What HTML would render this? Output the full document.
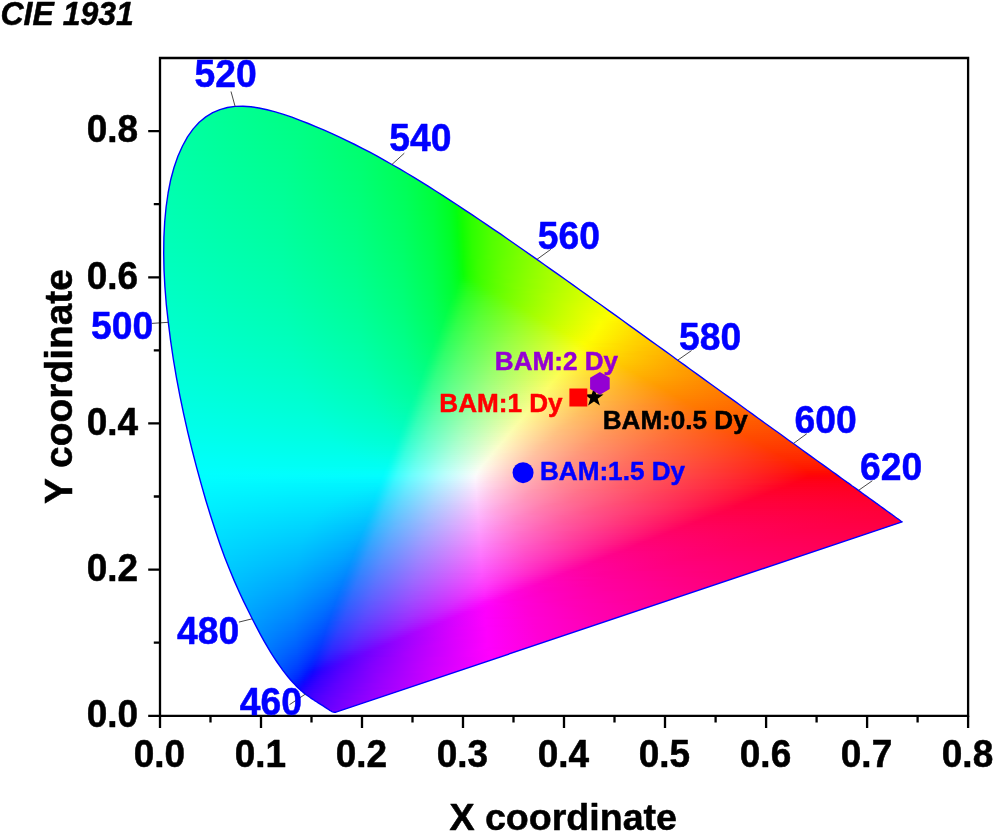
<!DOCTYPE html>
<html lang="en"><head><meta charset="utf-8"><title>CIE 1931</title>
<style>html,body{margin:0;padding:0;background:#fff}svg{display:block}text{font-family:"Liberation Sans",sans-serif;font-weight:bold;stroke-width:0.5px;stroke-linejoin:round}</style></head>
<body>
<svg width="993" height="831" viewBox="0 0 993 831">

<defs>
<clipPath id="cl"><path d="M335.9 712.2 L334.6 712.3 L333.3 712.1 L332.0 711.6 L330.9 710.9 L329.8 710.3 L328.6 709.5 L327.2 708.6 L326.1 707.9 L324.9 707.1 L323.5 706.2 L321.9 705.2 L320.2 704.1 L318.2 702.9 L317.2 702.2 L316.1 701.5 L314.9 700.8 L313.8 700.0 L312.5 699.2 L311.2 698.3 L309.8 697.3 L308.4 696.3 L306.9 695.2 L305.4 694.1 L303.8 692.9 L302.2 691.5 L300.5 690.1 L298.8 688.5 L296.9 686.7 L294.9 684.6 L292.7 682.3 L290.4 679.7 L287.9 676.8 L285.4 673.6 L282.7 670.1 L279.9 666.2 L277.0 662.0 L273.9 657.4 L270.7 652.3 L267.3 646.7 L263.8 640.6 L260.1 633.9 L256.3 626.7 L252.2 618.8 L248.0 610.3 L243.5 601.1 L238.9 591.2 L234.2 580.6 L229.4 569.1 L224.6 556.9 L219.9 543.9 L215.2 530.1 L210.5 515.5 L205.8 500.2 L201.2 484.1 L196.6 467.4 L192.1 450.0 L187.8 432.3 L183.7 414.2 L179.9 395.8 L176.4 377.4 L173.3 359.0 L170.6 340.6 L168.3 322.3 L166.3 304.3 L164.9 286.7 L164.0 269.6 L163.7 253.1 L163.9 237.2 L164.7 221.8 L166.1 207.0 L168.1 193.0 L170.7 179.7 L174.0 167.5 L177.9 156.2 L182.5 146.0 L187.5 136.9 L193.2 128.9 L199.2 122.3 L205.8 116.9 L212.7 112.7 L219.9 109.6 L227.4 107.5 L235.1 106.4 L242.9 106.2 L250.9 106.7 L258.9 108.0 L267.1 109.8 L275.3 111.9 L283.6 114.4 L291.9 117.2 L300.1 120.3 L308.3 123.5 L316.3 126.8 L324.2 130.2 L332.0 133.6 L339.6 137.2 L347.3 140.8 L354.8 144.5 L362.3 148.3 L369.8 152.2 L377.2 156.2 L384.6 160.3 L391.9 164.5 L399.3 168.7 L406.6 173.0 L413.9 177.4 L421.2 181.9 L428.5 186.4 L435.7 191.0 L443.0 195.6 L450.2 200.3 L457.4 205.0 L464.6 209.8 L471.9 214.6 L479.1 219.5 L486.3 224.4 L493.6 229.3 L500.8 234.2 L508.0 239.2 L515.2 244.2 L522.4 249.3 L529.7 254.3 L536.9 259.4 L544.1 264.5 L551.3 269.6 L558.5 274.6 L565.7 279.8 L572.9 284.9 L580.0 290.0 L587.2 295.1 L594.3 300.2 L601.5 305.3 L608.5 310.4 L615.6 315.4 L622.7 320.5 L629.7 325.6 L636.7 330.6 L643.6 335.6 L650.5 340.6 L657.4 345.5 L664.2 350.4 L671.0 355.3 L677.7 360.2 L684.3 364.9 L690.9 369.7 L697.4 374.4 L703.9 379.1 L710.3 383.7 L716.6 388.2 L722.8 392.7 L729.0 397.1 L735.0 401.4 L741.0 405.7 L746.8 410.0 L752.6 414.1 L758.2 418.2 L763.7 422.2 L769.0 426.0 L774.2 429.7 L779.2 433.3 L784.0 436.8 L788.7 440.2 L793.4 443.5 L797.9 446.8 L802.3 450.0 L806.6 453.1 L810.8 456.1 L814.8 459.0 L818.6 461.7 L822.3 464.4 L825.8 466.9 L829.2 469.3 L832.5 471.7 L835.6 473.9 L838.6 476.1 L841.5 478.2 L844.3 480.2 L846.9 482.1 L849.5 483.9 L851.9 485.7 L854.2 487.3 L856.4 488.9 L858.5 490.4 L860.5 491.9 L862.4 493.3 L864.2 494.6 L866.0 495.8 L867.7 497.0 L869.3 498.2 L870.8 499.3 L872.3 500.4 L873.7 501.4 L875.1 502.4 L876.4 503.3 L877.7 504.2 L878.9 505.1 L880.1 506.0 L881.2 506.8 L882.3 507.6 L883.4 508.4 L884.4 509.1 L886.3 510.5 L888.0 511.7 L889.6 512.9 L891.0 513.9 L892.2 514.7 L893.3 515.5 L894.3 516.2 L895.6 517.2 L896.7 518.0 L897.9 518.8 L898.9 519.5 L899.8 520.2 L900.8 521.0 L901.8 521.7 L902.1 521.9Z"/></clipPath>

<linearGradient id="g0" gradientUnits="userSpaceOnUse" x1="225.5" x2="257.5"><stop offset="0" stop-color="#00ff96"/><stop offset="1" stop-color="#00ff8e"/></linearGradient>
<linearGradient id="g1" gradientUnits="userSpaceOnUse" x1="218.5" x2="267.5"><stop offset="0" stop-color="#00ff98"/><stop offset="1" stop-color="#00ff8b"/></linearGradient>
<linearGradient id="g2" gradientUnits="userSpaceOnUse" x1="213.5" x2="275.5"><stop offset="0" stop-color="#0f9"/><stop offset="1" stop-color="#00ff89"/></linearGradient>
<linearGradient id="g3" gradientUnits="userSpaceOnUse" x1="209.5" x2="282.5"><stop offset="0" stop-color="#00ff9a"/><stop offset="1" stop-color="#00ff87"/></linearGradient>
<linearGradient id="g4" gradientUnits="userSpaceOnUse" x1="206.5" x2="288.5"><stop offset="0" stop-color="#00ff9b"/><stop offset="1" stop-color="#00ff86"/></linearGradient>
<linearGradient id="g5" gradientUnits="userSpaceOnUse" x1="203.5" x2="294.5"><stop offset="0" stop-color="#00ff9c"/><stop offset="1" stop-color="#00ff84"/></linearGradient>
<linearGradient id="g6" gradientUnits="userSpaceOnUse" x1="200.5" x2="299.5"><stop offset="0" stop-color="#00ff9d"/><stop offset="1" stop-color="#00ff83"/></linearGradient>
<linearGradient id="g7" gradientUnits="userSpaceOnUse" x1="198.5" x2="305.5"><stop offset="0" stop-color="#00ff9e"/><stop offset="1" stop-color="#00ff81"/></linearGradient>
<linearGradient id="g8" gradientUnits="userSpaceOnUse" x1="196.5" x2="310.5"><stop offset="0" stop-color="#00ff9e"/><stop offset="0.9474" stop-color="#00ff82"/><stop offset="1" stop-color="#00ff80"/></linearGradient>
<linearGradient id="g9" gradientUnits="userSpaceOnUse" x1="194.5" x2="315.5"><stop offset="0" stop-color="#00ff9f"/><stop offset="0.9008" stop-color="#00ff83"/><stop offset="1" stop-color="#00ff7e"/></linearGradient>
<linearGradient id="g10" gradientUnits="userSpaceOnUse" x1="192.5" x2="319.5"><stop offset="0" stop-color="#00ffa0"/><stop offset="0.8583" stop-color="#00ff84"/><stop offset="1" stop-color="#00ff7d"/></linearGradient>
<linearGradient id="g11" gradientUnits="userSpaceOnUse" x1="190.5" x2="324.5"><stop offset="0" stop-color="#00ffa1"/><stop offset="0.8209" stop-color="#00ff84"/><stop offset="1" stop-color="#00ff7b"/></linearGradient>
<linearGradient id="g12" gradientUnits="userSpaceOnUse" x1="189.5" x2="329.5"><stop offset="0" stop-color="#00ffa1"/><stop offset="0.7857" stop-color="#00ff85"/><stop offset="1" stop-color="#00ff7a"/></linearGradient>
<linearGradient id="g13" gradientUnits="userSpaceOnUse" x1="187.5" x2="333.5"><stop offset="0" stop-color="#00ffa2"/><stop offset="0.7603" stop-color="#00ff86"/><stop offset="1" stop-color="#00ff78"/></linearGradient>
<linearGradient id="g14" gradientUnits="userSpaceOnUse" x1="186.5" x2="338.5"><stop offset="0" stop-color="#00ffa2"/><stop offset="0.7303" stop-color="#00ff86"/><stop offset="1" stop-color="#0f7"/></linearGradient>
<linearGradient id="g15" gradientUnits="userSpaceOnUse" x1="185.5" x2="342.5"><stop offset="0" stop-color="#00ffa3"/><stop offset="0.7134" stop-color="#00ff87"/><stop offset="1" stop-color="#00ff75"/></linearGradient>
<linearGradient id="g16" gradientUnits="userSpaceOnUse" x1="184.5" x2="346.5"><stop offset="0" stop-color="#00ffa3"/><stop offset="0.6914" stop-color="#00ff87"/><stop offset="1" stop-color="#00ff74"/></linearGradient>
<linearGradient id="g17" gradientUnits="userSpaceOnUse" x1="182.5" x2="350.5"><stop offset="0" stop-color="#00ffa4"/><stop offset="0.6726" stop-color="#0f8"/><stop offset="1" stop-color="#00ff72"/></linearGradient>
<linearGradient id="g18" gradientUnits="userSpaceOnUse" x1="181.5" x2="354.5"><stop offset="0" stop-color="#00ffa5"/><stop offset="0.6532" stop-color="#00ff89"/><stop offset="1" stop-color="#00ff71"/></linearGradient>
<linearGradient id="g19" gradientUnits="userSpaceOnUse" x1="180.5" x2="358.5"><stop offset="0" stop-color="#00ffa5"/><stop offset="0.6348" stop-color="#00ff89"/><stop offset="1" stop-color="#00ff6f"/></linearGradient>
<linearGradient id="g20" gradientUnits="userSpaceOnUse" x1="179.5" x2="362.5"><stop offset="0" stop-color="#00ffa6"/><stop offset="0.623" stop-color="#00ff8a"/><stop offset="1" stop-color="#00ff6d"/></linearGradient>
<linearGradient id="g21" gradientUnits="userSpaceOnUse" x1="178.5" x2="366.5"><stop offset="0" stop-color="#00ffa6"/><stop offset="0.6064" stop-color="#00ff8a"/><stop offset="0.9947" stop-color="#00ff6c"/><stop offset="1" stop-color="#00ff6b"/></linearGradient>
<linearGradient id="g22" gradientUnits="userSpaceOnUse" x1="178.5" x2="370.5"><stop offset="0" stop-color="#00ffa6"/><stop offset="0.5938" stop-color="#00ff8b"/><stop offset="0.974" stop-color="#00ff6c"/><stop offset="1" stop-color="#00ff69"/></linearGradient>
<linearGradient id="g23" gradientUnits="userSpaceOnUse" x1="177.5" x2="374.5"><stop offset="0" stop-color="#00ffa7"/><stop offset="0.5787" stop-color="#00ff8c"/><stop offset="0.9492" stop-color="#00ff6d"/><stop offset="1" stop-color="#00ff67"/></linearGradient>
<linearGradient id="g24" gradientUnits="userSpaceOnUse" x1="176.5" x2="377.5"><stop offset="0" stop-color="#00ffa7"/><stop offset="0.5721" stop-color="#00ff8c"/><stop offset="0.9353" stop-color="#00ff6e"/><stop offset="1" stop-color="#0f6"/></linearGradient>
<linearGradient id="g25" gradientUnits="userSpaceOnUse" x1="175.5" x2="381.5"><stop offset="0" stop-color="#00ffa8"/><stop offset="0.5583" stop-color="#00ff8d"/><stop offset="0.9126" stop-color="#00ff6e"/><stop offset="1" stop-color="#00ff64"/></linearGradient>
<linearGradient id="g26" gradientUnits="userSpaceOnUse" x1="174.5" x2="385.5"><stop offset="0" stop-color="#00ffa9"/><stop offset="0.545" stop-color="#00ff8d"/><stop offset="0.891" stop-color="#00ff6f"/><stop offset="1" stop-color="#00ff62"/></linearGradient>
<linearGradient id="g27" gradientUnits="userSpaceOnUse" x1="174.5" x2="388.5"><stop offset="0" stop-color="#00ffa9"/><stop offset="0.5374" stop-color="#00ff8e"/><stop offset="0.8785" stop-color="#00ff70"/><stop offset="1" stop-color="#00ff60"/></linearGradient>
<linearGradient id="g28" gradientUnits="userSpaceOnUse" x1="173.5" x2="392.5"><stop offset="0" stop-color="#00ffa9"/><stop offset="0.5297" stop-color="#00ff8e"/><stop offset="0.863" stop-color="#00ff70"/><stop offset="1" stop-color="#00ff5e"/></linearGradient>
<linearGradient id="g29" gradientUnits="userSpaceOnUse" x1="172.5" x2="395.5"><stop offset="0" stop-color="#0fa"/><stop offset="0.5202" stop-color="#00ff8f"/><stop offset="0.852" stop-color="#00ff71"/><stop offset="1" stop-color="#00ff5c"/></linearGradient>
<linearGradient id="g30" gradientUnits="userSpaceOnUse" x1="172.5" x2="399.5"><stop offset="0" stop-color="#0fa"/><stop offset="0.511" stop-color="#00ff8f"/><stop offset="0.837" stop-color="#00ff71"/><stop offset="1" stop-color="#00ff59"/></linearGradient>
<linearGradient id="g31" gradientUnits="userSpaceOnUse" x1="171.5" x2="402.5"><stop offset="0" stop-color="#00ffab"/><stop offset="0.5022" stop-color="#00ff90"/><stop offset="0.8225" stop-color="#00ff72"/><stop offset="1" stop-color="#00ff57"/></linearGradient>
<linearGradient id="g32" gradientUnits="userSpaceOnUse" x1="170.5" x2="406.5"><stop offset="0" stop-color="#00ffab"/><stop offset="0.4958" stop-color="#00ff90"/><stop offset="0.8093" stop-color="#00ff72"/><stop offset="1" stop-color="#00ff54"/></linearGradient>
<linearGradient id="g33" gradientUnits="userSpaceOnUse" x1="170.5" x2="409.5"><stop offset="0" stop-color="#00ffac"/><stop offset="0.4895" stop-color="#00ff91"/><stop offset="0.7992" stop-color="#00ff73"/><stop offset="0.9958" stop-color="#00ff53"/><stop offset="1" stop-color="#00ff52"/></linearGradient>
<linearGradient id="g34" gradientUnits="userSpaceOnUse" x1="169.5" x2="412.5"><stop offset="0" stop-color="#00ffac"/><stop offset="0.4815" stop-color="#00ff91"/><stop offset="0.786" stop-color="#00ff74"/><stop offset="0.9794" stop-color="#00ff54"/><stop offset="1" stop-color="#00ff50"/></linearGradient>
<linearGradient id="g35" gradientUnits="userSpaceOnUse" x1="169.5" x2="416.5"><stop offset="0" stop-color="#00ffad"/><stop offset="0.4737" stop-color="#00ff92"/><stop offset="0.7733" stop-color="#00ff74"/><stop offset="0.9636" stop-color="#0f5"/><stop offset="1" stop-color="#00ff4c"/></linearGradient>
<linearGradient id="g36" gradientUnits="userSpaceOnUse" x1="168.5" x2="419.5"><stop offset="0" stop-color="#00ffad"/><stop offset="0.4661" stop-color="#00ff92"/><stop offset="0.7649" stop-color="#00ff74"/><stop offset="0.9522" stop-color="#0f5"/><stop offset="1" stop-color="#00ff4a"/></linearGradient>
<linearGradient id="g37" gradientUnits="userSpaceOnUse" x1="168.5" x2="422.5"><stop offset="0" stop-color="#00ffad"/><stop offset="0.4606" stop-color="#00ff93"/><stop offset="0.752" stop-color="#00ff75"/><stop offset="0.937" stop-color="#00ff56"/><stop offset="1" stop-color="#00ff47"/></linearGradient>
<linearGradient id="g38" gradientUnits="userSpaceOnUse" x1="167.5" x2="425.5"><stop offset="0" stop-color="#00ffae"/><stop offset="0.4574" stop-color="#00ff93"/><stop offset="0.7442" stop-color="#00ff76"/><stop offset="0.9264" stop-color="#00ff57"/><stop offset="1" stop-color="#0f4"/></linearGradient>
<linearGradient id="g39" gradientUnits="userSpaceOnUse" x1="167.5" x2="429.5"><stop offset="0" stop-color="#00ffae"/><stop offset="0.4504" stop-color="#00ff94"/><stop offset="0.7328" stop-color="#00ff76"/><stop offset="0.9122" stop-color="#00ff57"/><stop offset="1" stop-color="#00ff40"/></linearGradient>
<linearGradient id="g40" gradientUnits="userSpaceOnUse" x1="167.5" x2="432.5"><stop offset="0" stop-color="#00ffaf"/><stop offset="0.4453" stop-color="#00ff94"/><stop offset="0.7245" stop-color="#0f7"/><stop offset="0.9019" stop-color="#00ff57"/><stop offset="1" stop-color="#00ff3c"/></linearGradient>
<linearGradient id="g41" gradientUnits="userSpaceOnUse" x1="166.5" x2="435.5"><stop offset="0" stop-color="#00ffaf"/><stop offset="0.4387" stop-color="#00ff95"/><stop offset="0.7175" stop-color="#0f7"/><stop offset="0.8922" stop-color="#00ff58"/><stop offset="1" stop-color="#00ff38"/></linearGradient>
<linearGradient id="g42" gradientUnits="userSpaceOnUse" x1="166.5" x2="438.5"><stop offset="0" stop-color="#00ffaf"/><stop offset="0.4338" stop-color="#00ff95"/><stop offset="0.7096" stop-color="#0f7"/><stop offset="0.8824" stop-color="#00ff58"/><stop offset="0.989" stop-color="#00ff39"/><stop offset="1" stop-color="#00ff34"/></linearGradient>
<linearGradient id="g43" gradientUnits="userSpaceOnUse" x1="165.5" x2="441.5"><stop offset="0" stop-color="#00ffb0"/><stop offset="0.4275" stop-color="#00ff96"/><stop offset="0.6993" stop-color="#00ff78"/><stop offset="0.8732" stop-color="#00ff59"/><stop offset="0.9783" stop-color="#00ff39"/><stop offset="1" stop-color="#00ff30"/></linearGradient>
<linearGradient id="g44" gradientUnits="userSpaceOnUse" x1="165.5" x2="444.5"><stop offset="0" stop-color="#00ffb0"/><stop offset="0.4229" stop-color="#00ff96"/><stop offset="0.6918" stop-color="#00ff79"/><stop offset="0.8638" stop-color="#00ff59"/><stop offset="0.9677" stop-color="#00ff3a"/><stop offset="1" stop-color="#00ff2b"/></linearGradient>
<linearGradient id="g45" gradientUnits="userSpaceOnUse" x1="165.5" x2="447.5"><stop offset="0" stop-color="#00ffb1"/><stop offset="0.4184" stop-color="#00ff97"/><stop offset="0.6844" stop-color="#00ff79"/><stop offset="0.8546" stop-color="#00ff5a"/><stop offset="0.9574" stop-color="#00ff3a"/><stop offset="1" stop-color="#00ff25"/></linearGradient>
<linearGradient id="g46" gradientUnits="userSpaceOnUse" x1="165.5" x2="450.5"><stop offset="0" stop-color="#00ffb1"/><stop offset="0.414" stop-color="#00ff97"/><stop offset="0.6772" stop-color="#00ff7a"/><stop offset="0.8456" stop-color="#00ff5a"/><stop offset="0.9474" stop-color="#00ff3a"/><stop offset="0.9965" stop-color="#00ff21"/><stop offset="1" stop-color="#00ff1f"/></linearGradient>
<linearGradient id="g47" gradientUnits="userSpaceOnUse" x1="164.5" x2="454.5"><stop offset="0" stop-color="#00ffb2"/><stop offset="0.4103" stop-color="#00ff97"/><stop offset="0.669" stop-color="#00ff7a"/><stop offset="0.831" stop-color="#00ff5b"/><stop offset="0.931" stop-color="#00ff3c"/><stop offset="0.9828" stop-color="#0f2"/><stop offset="1" stop-color="#01ff13"/></linearGradient>
<linearGradient id="g48" gradientUnits="userSpaceOnUse" x1="164.5" x2="457.5"><stop offset="0" stop-color="#00ffb2"/><stop offset="0.4061" stop-color="#00ff98"/><stop offset="0.6621" stop-color="#00ff7a"/><stop offset="0.8225" stop-color="#00ff5c"/><stop offset="0.9215" stop-color="#00ff3d"/><stop offset="0.9727" stop-color="#0f2"/><stop offset="0.9966" stop-color="#04ff0d"/><stop offset="1" stop-color="#06ff0a"/></linearGradient>
<linearGradient id="g49" gradientUnits="userSpaceOnUse" x1="164.5" x2="460.5"><stop offset="0" stop-color="#00ffb2"/><stop offset="0.402" stop-color="#00ff98"/><stop offset="0.6554" stop-color="#00ff7b"/><stop offset="0.8142" stop-color="#00ff5c"/><stop offset="0.9122" stop-color="#00ff3d"/><stop offset="0.9628" stop-color="#00ff23"/><stop offset="0.9865" stop-color="#04ff0d"/><stop offset="1" stop-color="#0fff03"/></linearGradient>
<linearGradient id="g50" gradientUnits="userSpaceOnUse" x1="164.5" x2="463.5"><stop offset="0" stop-color="#00ffb3"/><stop offset="0.398" stop-color="#0f9"/><stop offset="0.6488" stop-color="#00ff7b"/><stop offset="0.806" stop-color="#00ff5d"/><stop offset="0.903" stop-color="#00ff3e"/><stop offset="0.9532" stop-color="#00ff23"/><stop offset="0.9766" stop-color="#03ff0e"/><stop offset="0.9933" stop-color="#12ff02"/><stop offset="1" stop-color="#19ff00"/></linearGradient>
<linearGradient id="g51" gradientUnits="userSpaceOnUse" x1="163.5" x2="466.5"><stop offset="0" stop-color="#00ffb3"/><stop offset="0.3927" stop-color="#0f9"/><stop offset="0.6403" stop-color="#00ff7c"/><stop offset="0.7987" stop-color="#00ff5d"/><stop offset="0.8944" stop-color="#00ff3e"/><stop offset="0.9439" stop-color="#00ff24"/><stop offset="0.967" stop-color="#03ff0e"/><stop offset="0.9835" stop-color="#12ff02"/><stop offset="1" stop-color="#2f0"/></linearGradient>
<linearGradient id="g52" gradientUnits="userSpaceOnUse" x1="163.5" x2="469.5"><stop offset="0" stop-color="#00ffb4"/><stop offset="0.3889" stop-color="#00ff9a"/><stop offset="0.634" stop-color="#00ff7d"/><stop offset="0.7908" stop-color="#00ff5d"/><stop offset="0.8856" stop-color="#00ff3e"/><stop offset="0.9346" stop-color="#00ff24"/><stop offset="0.9575" stop-color="#03ff0f"/><stop offset="0.9739" stop-color="#11ff02"/><stop offset="1" stop-color="#29ff00"/></linearGradient>
<linearGradient id="g53" gradientUnits="userSpaceOnUse" x1="163.5" x2="472.5"><stop offset="0" stop-color="#00ffb4"/><stop offset="0.3851" stop-color="#00ff9a"/><stop offset="0.6278" stop-color="#00ff7d"/><stop offset="0.7832" stop-color="#00ff5e"/><stop offset="0.877" stop-color="#00ff3f"/><stop offset="0.9256" stop-color="#00ff24"/><stop offset="0.9482" stop-color="#03ff0f"/><stop offset="0.9644" stop-color="#11ff02"/><stop offset="0.9935" stop-color="#2bff00"/><stop offset="1" stop-color="#2fff00"/></linearGradient>
<linearGradient id="g54" gradientUnits="userSpaceOnUse" x1="163.5" x2="475.5"><stop offset="0" stop-color="#00ffb4"/><stop offset="0.3814" stop-color="#00ff9b"/><stop offset="0.6218" stop-color="#00ff7e"/><stop offset="0.7756" stop-color="#00ff5e"/><stop offset="0.8686" stop-color="#00ff3f"/><stop offset="0.9167" stop-color="#00ff25"/><stop offset="0.9391" stop-color="#03ff10"/><stop offset="0.9551" stop-color="#11ff03"/><stop offset="0.984" stop-color="#2bff00"/><stop offset="1" stop-color="#35ff00"/></linearGradient>
<linearGradient id="g55" gradientUnits="userSpaceOnUse" x1="163.5" x2="478.5"><stop offset="0" stop-color="#00ffb5"/><stop offset="0.3778" stop-color="#00ff9b"/><stop offset="0.6159" stop-color="#00ff7e"/><stop offset="0.7683" stop-color="#00ff5f"/><stop offset="0.8603" stop-color="#00ff40"/><stop offset="0.9079" stop-color="#00ff25"/><stop offset="0.9333" stop-color="#04ff0d"/><stop offset="0.9492" stop-color="#14ff01"/><stop offset="0.981" stop-color="#2fff00"/><stop offset="1" stop-color="#3bff00"/></linearGradient>
<linearGradient id="g56" gradientUnits="userSpaceOnUse" x1="162.5" x2="481.5"><stop offset="0" stop-color="#00ffb5"/><stop offset="0.373" stop-color="#00ff9c"/><stop offset="0.6082" stop-color="#00ff7f"/><stop offset="0.7586" stop-color="#00ff60"/><stop offset="0.8495" stop-color="#00ff42"/><stop offset="0.8997" stop-color="#00ff26"/><stop offset="0.9248" stop-color="#04ff0d"/><stop offset="0.9404" stop-color="#13ff02"/><stop offset="0.9687" stop-color="#2dff00"/><stop offset="1" stop-color="#40ff00"/></linearGradient>
<linearGradient id="g57" gradientUnits="userSpaceOnUse" x1="162.5" x2="484.5"><stop offset="0" stop-color="#00ffb6"/><stop offset="0.3696" stop-color="#00ff9c"/><stop offset="0.6025" stop-color="#00ff80"/><stop offset="0.7516" stop-color="#00ff61"/><stop offset="0.8416" stop-color="#00ff42"/><stop offset="0.8913" stop-color="#00ff26"/><stop offset="0.9161" stop-color="#04ff0e"/><stop offset="0.9317" stop-color="#13ff02"/><stop offset="0.9596" stop-color="#2dff00"/><stop offset="1" stop-color="#45ff00"/></linearGradient>
<linearGradient id="g58" gradientUnits="userSpaceOnUse" x1="162.5" x2="487.5"><stop offset="0" stop-color="#00ffb6"/><stop offset="0.3662" stop-color="#00ff9d"/><stop offset="0.5969" stop-color="#00ff80"/><stop offset="0.7446" stop-color="#00ff61"/><stop offset="0.8338" stop-color="#00ff42"/><stop offset="0.8831" stop-color="#00ff27"/><stop offset="0.9077" stop-color="#03ff0e"/><stop offset="0.9231" stop-color="#13ff02"/><stop offset="0.9508" stop-color="#2dff00"/><stop offset="1" stop-color="#4aff00"/></linearGradient>
<linearGradient id="g59" gradientUnits="userSpaceOnUse" x1="162.5" x2="489.5"><stop offset="0" stop-color="#00ffb7"/><stop offset="0.3639" stop-color="#00ff9d"/><stop offset="0.5933" stop-color="#00ff81"/><stop offset="0.7401" stop-color="#00ff62"/><stop offset="0.8287" stop-color="#00ff43"/><stop offset="0.8777" stop-color="#00ff27"/><stop offset="0.9021" stop-color="#03ff0f"/><stop offset="0.9174" stop-color="#12ff02"/><stop offset="0.945" stop-color="#2dff00"/><stop offset="1" stop-color="#4dff00"/></linearGradient>
<linearGradient id="g60" gradientUnits="userSpaceOnUse" x1="162.5" x2="492.5"><stop offset="0" stop-color="#00ffb7"/><stop offset="0.3606" stop-color="#00ff9e"/><stop offset="0.5879" stop-color="#00ff81"/><stop offset="0.7333" stop-color="#00ff62"/><stop offset="0.8212" stop-color="#00ff43"/><stop offset="0.8697" stop-color="#00ff28"/><stop offset="0.8939" stop-color="#03ff0f"/><stop offset="0.9091" stop-color="#12ff02"/><stop offset="0.9364" stop-color="#2dff00"/><stop offset="1" stop-color="#52ff00"/></linearGradient>
<linearGradient id="g61" gradientUnits="userSpaceOnUse" x1="162.5" x2="495.5"><stop offset="0" stop-color="#00ffb7"/><stop offset="0.3574" stop-color="#00ff9e"/><stop offset="0.5826" stop-color="#00ff82"/><stop offset="0.7267" stop-color="#00ff62"/><stop offset="0.8138" stop-color="#0f4"/><stop offset="0.8619" stop-color="#00ff28"/><stop offset="0.8859" stop-color="#03ff10"/><stop offset="0.9009" stop-color="#11ff02"/><stop offset="0.9279" stop-color="#2dff00"/><stop offset="0.988" stop-color="#51ff00"/><stop offset="1" stop-color="#57ff00"/></linearGradient>
<linearGradient id="g62" gradientUnits="userSpaceOnUse" x1="162.5" x2="498.5"><stop offset="0" stop-color="#00ffb8"/><stop offset="0.3542" stop-color="#00ff9f"/><stop offset="0.5774" stop-color="#00ff82"/><stop offset="0.7202" stop-color="#00ff63"/><stop offset="0.8065" stop-color="#0f4"/><stop offset="0.8542" stop-color="#00ff29"/><stop offset="0.878" stop-color="#03ff11"/><stop offset="0.8929" stop-color="#11ff03"/><stop offset="0.9196" stop-color="#2cff00"/><stop offset="0.9792" stop-color="#51ff00"/><stop offset="1" stop-color="#5bff00"/></linearGradient>
<linearGradient id="g63" gradientUnits="userSpaceOnUse" x1="162.5" x2="501.5"><stop offset="0" stop-color="#00ffb8"/><stop offset="0.354" stop-color="#00ff9f"/><stop offset="0.5723" stop-color="#00ff83"/><stop offset="0.7139" stop-color="#00ff63"/><stop offset="0.7994" stop-color="#00ff45"/><stop offset="0.8466" stop-color="#00ff29"/><stop offset="0.8702" stop-color="#03ff11"/><stop offset="0.885" stop-color="#11ff03"/><stop offset="0.9115" stop-color="#2cff00"/><stop offset="0.9705" stop-color="#51ff00"/><stop offset="1" stop-color="#60ff00"/></linearGradient>
<linearGradient id="g64" gradientUnits="userSpaceOnUse" x1="161.5" x2="504.5"><stop offset="0" stop-color="#00ffb9"/><stop offset="0.3499" stop-color="#00ff9f"/><stop offset="0.5685" stop-color="#00ff83"/><stop offset="0.7085" stop-color="#00ff64"/><stop offset="0.793" stop-color="#00ff45"/><stop offset="0.8397" stop-color="#00ff2a"/><stop offset="0.863" stop-color="#02ff12"/><stop offset="0.8776" stop-color="#10ff03"/><stop offset="0.9038" stop-color="#2cff00"/><stop offset="0.9621" stop-color="#51ff00"/><stop offset="1" stop-color="#64ff00"/></linearGradient>
<linearGradient id="g65" gradientUnits="userSpaceOnUse" x1="161.5" x2="507.5"><stop offset="0" stop-color="#00ffb9"/><stop offset="0.3468" stop-color="#00ffa0"/><stop offset="0.5636" stop-color="#00ff84"/><stop offset="0.7023" stop-color="#00ff64"/><stop offset="0.7861" stop-color="#00ff46"/><stop offset="0.8324" stop-color="#00ff2a"/><stop offset="0.8555" stop-color="#02ff12"/><stop offset="0.8699" stop-color="#10ff03"/><stop offset="0.896" stop-color="#2cff00"/><stop offset="0.9509" stop-color="#50ff00"/><stop offset="1" stop-color="#68ff00"/></linearGradient>
<linearGradient id="g66" gradientUnits="userSpaceOnUse" x1="161.5" x2="510.5"><stop offset="0" stop-color="#00ffb9"/><stop offset="0.3438" stop-color="#00ffa0"/><stop offset="0.5587" stop-color="#00ff84"/><stop offset="0.6963" stop-color="#00ff65"/><stop offset="0.7794" stop-color="#00ff46"/><stop offset="0.8252" stop-color="#00ff2b"/><stop offset="0.8481" stop-color="#02ff13"/><stop offset="0.8625" stop-color="#0fff03"/><stop offset="0.8883" stop-color="#2cff00"/><stop offset="0.9427" stop-color="#50ff00"/><stop offset="1" stop-color="#6cff00"/></linearGradient>
<linearGradient id="g67" gradientUnits="userSpaceOnUse" x1="161.5" x2="513.5"><stop offset="0" stop-color="#00ffba"/><stop offset="0.3409" stop-color="#00ffa1"/><stop offset="0.554" stop-color="#00ff85"/><stop offset="0.6903" stop-color="#00ff65"/><stop offset="0.7727" stop-color="#00ff47"/><stop offset="0.8182" stop-color="#00ff2b"/><stop offset="0.8409" stop-color="#02ff13"/><stop offset="0.8551" stop-color="#0fff04"/><stop offset="0.8807" stop-color="#2cff00"/><stop offset="0.9347" stop-color="#50ff00"/><stop offset="1" stop-color="#71ff00"/></linearGradient>
<linearGradient id="g68" gradientUnits="userSpaceOnUse" x1="161.5" x2="516.5"><stop offset="0" stop-color="#00ffba"/><stop offset="0.338" stop-color="#00ffa1"/><stop offset="0.5493" stop-color="#00ff85"/><stop offset="0.6817" stop-color="#00ff67"/><stop offset="0.7662" stop-color="#00ff47"/><stop offset="0.8141" stop-color="#00ff29"/><stop offset="0.8366" stop-color="#03ff10"/><stop offset="0.8507" stop-color="#12ff02"/><stop offset="0.8761" stop-color="#2eff00"/><stop offset="0.9324" stop-color="#54ff00"/><stop offset="1" stop-color="#75ff00"/></linearGradient>
<linearGradient id="g69" gradientUnits="userSpaceOnUse" x1="161.5" x2="519.5"><stop offset="0" stop-color="#0fb"/><stop offset="0.3352" stop-color="#00ffa2"/><stop offset="0.5447" stop-color="#00ff86"/><stop offset="0.676" stop-color="#00ff67"/><stop offset="0.7598" stop-color="#00ff48"/><stop offset="0.8073" stop-color="#00ff2a"/><stop offset="0.8296" stop-color="#03ff11"/><stop offset="0.8436" stop-color="#12ff03"/><stop offset="0.8687" stop-color="#2eff00"/><stop offset="0.9246" stop-color="#54ff00"/><stop offset="1" stop-color="#79ff00"/></linearGradient>
<linearGradient id="g70" gradientUnits="userSpaceOnUse" x1="161.5" x2="521.5"><stop offset="0" stop-color="#0fb"/><stop offset="0.3333" stop-color="#00ffa2"/><stop offset="0.5417" stop-color="#00ff86"/><stop offset="0.6722" stop-color="#00ff68"/><stop offset="0.7556" stop-color="#00ff48"/><stop offset="0.8028" stop-color="#00ff2a"/><stop offset="0.825" stop-color="#03ff11"/><stop offset="0.8389" stop-color="#12ff03"/><stop offset="0.8639" stop-color="#2eff00"/><stop offset="0.9167" stop-color="#53ff00"/><stop offset="1" stop-color="#7cff00"/></linearGradient>
<linearGradient id="g71" gradientUnits="userSpaceOnUse" x1="161.5" x2="524.5"><stop offset="0" stop-color="#0fb"/><stop offset="0.3306" stop-color="#00ffa3"/><stop offset="0.5372" stop-color="#00ff87"/><stop offset="0.6667" stop-color="#00ff68"/><stop offset="0.7493" stop-color="#00ff49"/><stop offset="0.7961" stop-color="#00ff2b"/><stop offset="0.8182" stop-color="#03ff12"/><stop offset="0.832" stop-color="#11ff03"/><stop offset="0.8567" stop-color="#2eff00"/><stop offset="0.9091" stop-color="#53ff00"/><stop offset="1" stop-color="#80ff00"/></linearGradient>
<linearGradient id="g72" gradientUnits="userSpaceOnUse" x1="161.5" x2="527.5"><stop offset="0" stop-color="#00ffbc"/><stop offset="0.3279" stop-color="#00ffa3"/><stop offset="0.5328" stop-color="#00ff87"/><stop offset="0.6612" stop-color="#00ff69"/><stop offset="0.7432" stop-color="#00ff49"/><stop offset="0.7896" stop-color="#00ff2b"/><stop offset="0.8115" stop-color="#02ff13"/><stop offset="0.8251" stop-color="#11ff03"/><stop offset="0.8497" stop-color="#2eff00"/><stop offset="0.9016" stop-color="#53ff00"/><stop offset="1" stop-color="#84ff00"/></linearGradient>
<linearGradient id="g73" gradientUnits="userSpaceOnUse" x1="161.5" x2="530.5"><stop offset="0" stop-color="#00ffbc"/><stop offset="0.3252" stop-color="#00ffa4"/><stop offset="0.5257" stop-color="#0f8"/><stop offset="0.6558" stop-color="#00ff69"/><stop offset="0.7371" stop-color="#00ff4a"/><stop offset="0.7832" stop-color="#00ff2c"/><stop offset="0.8049" stop-color="#02ff13"/><stop offset="0.8184" stop-color="#10ff03"/><stop offset="0.8428" stop-color="#2eff00"/><stop offset="0.8943" stop-color="#53ff00"/><stop offset="0.9919" stop-color="#84ff00"/><stop offset="1" stop-color="#8f0"/></linearGradient>
<linearGradient id="g74" gradientUnits="userSpaceOnUse" x1="161.5" x2="533.5"><stop offset="0" stop-color="#00ffbd"/><stop offset="0.3226" stop-color="#00ffa4"/><stop offset="0.5215" stop-color="#00ff89"/><stop offset="0.6505" stop-color="#00ff6a"/><stop offset="0.7312" stop-color="#00ff4a"/><stop offset="0.7769" stop-color="#00ff2c"/><stop offset="0.7984" stop-color="#02ff14"/><stop offset="0.8118" stop-color="#10ff04"/><stop offset="0.836" stop-color="#2eff00"/><stop offset="0.8871" stop-color="#53ff00"/><stop offset="0.9839" stop-color="#85ff00"/><stop offset="1" stop-color="#8cff00"/></linearGradient>
<linearGradient id="g75" gradientUnits="userSpaceOnUse" x1="161.5" x2="536.5"><stop offset="0" stop-color="#00ffbd"/><stop offset="0.32" stop-color="#00ffa5"/><stop offset="0.5173" stop-color="#00ff89"/><stop offset="0.6453" stop-color="#00ff6b"/><stop offset="0.7253" stop-color="#00ff4b"/><stop offset="0.7707" stop-color="#00ff2d"/><stop offset="0.792" stop-color="#02ff14"/><stop offset="0.8053" stop-color="#0fff04"/><stop offset="0.8267" stop-color="#2bff00"/><stop offset="0.872" stop-color="#4fff00"/><stop offset="0.96" stop-color="#7eff00"/><stop offset="1" stop-color="#90ff00"/></linearGradient>
<linearGradient id="g76" gradientUnits="userSpaceOnUse" x1="161.5" x2="539.5"><stop offset="0" stop-color="#00ffbe"/><stop offset="0.3175" stop-color="#00ffa5"/><stop offset="0.5132" stop-color="#00ff8a"/><stop offset="0.6402" stop-color="#00ff6b"/><stop offset="0.7196" stop-color="#00ff4b"/><stop offset="0.7646" stop-color="#00ff2e"/><stop offset="0.7857" stop-color="#02ff15"/><stop offset="0.7989" stop-color="#0fff04"/><stop offset="0.8201" stop-color="#2bff00"/><stop offset="0.8651" stop-color="#4fff00"/><stop offset="0.9524" stop-color="#7fff00"/><stop offset="1" stop-color="#94ff00"/></linearGradient>
<linearGradient id="g77" gradientUnits="userSpaceOnUse" x1="161.5" x2="541.5"><stop offset="0" stop-color="#00ffbe"/><stop offset="0.3158" stop-color="#00ffa6"/><stop offset="0.5105" stop-color="#00ff8a"/><stop offset="0.6342" stop-color="#00ff6c"/><stop offset="0.7132" stop-color="#00ff4d"/><stop offset="0.7579" stop-color="#00ff30"/><stop offset="0.7789" stop-color="#01ff19"/><stop offset="0.7921" stop-color="#0bff07"/><stop offset="0.8053" stop-color="#1eff00"/><stop offset="0.8342" stop-color="#3cff00"/><stop offset="0.8974" stop-color="#65ff00"/><stop offset="1" stop-color="#97ff00"/></linearGradient>
<linearGradient id="g78" gradientUnits="userSpaceOnUse" x1="161.5" x2="544.5"><stop offset="0" stop-color="#00ffbe"/><stop offset="0.3133" stop-color="#00ffa6"/><stop offset="0.5065" stop-color="#00ff8b"/><stop offset="0.6292" stop-color="#00ff6d"/><stop offset="0.7076" stop-color="#00ff4e"/><stop offset="0.752" stop-color="#00ff31"/><stop offset="0.7728" stop-color="#01ff1a"/><stop offset="0.7859" stop-color="#0bff07"/><stop offset="0.799" stop-color="#1eff00"/><stop offset="0.8277" stop-color="#3cff00"/><stop offset="0.8903" stop-color="#6f0"/><stop offset="1" stop-color="#9bff00"/></linearGradient>
<linearGradient id="g79" gradientUnits="userSpaceOnUse" x1="161.5" x2="547.5"><stop offset="0" stop-color="#00ffbf"/><stop offset="0.3109" stop-color="#00ffa7"/><stop offset="0.5026" stop-color="#00ff8b"/><stop offset="0.6244" stop-color="#00ff6e"/><stop offset="0.7021" stop-color="#00ff4e"/><stop offset="0.7461" stop-color="#00ff31"/><stop offset="0.7668" stop-color="#01ff1b"/><stop offset="0.7798" stop-color="#0aff08"/><stop offset="0.7927" stop-color="#1eff00"/><stop offset="0.8212" stop-color="#3cff00"/><stop offset="0.8834" stop-color="#6f0"/><stop offset="0.9922" stop-color="#9cff00"/><stop offset="1" stop-color="#9fff00"/></linearGradient>
<linearGradient id="g80" gradientUnits="userSpaceOnUse" x1="161.5" x2="550.5"><stop offset="0" stop-color="#00ffbf"/><stop offset="0.3085" stop-color="#00ffa7"/><stop offset="0.4987" stop-color="#00ff8c"/><stop offset="0.6195" stop-color="#00ff6e"/><stop offset="0.6967" stop-color="#00ff4f"/><stop offset="0.7404" stop-color="#00ff32"/><stop offset="0.7609" stop-color="#01ff1b"/><stop offset="0.7738" stop-color="#0aff08"/><stop offset="0.7866" stop-color="#1dff00"/><stop offset="0.8123" stop-color="#3aff00"/><stop offset="0.8715" stop-color="#64ff00"/><stop offset="0.9769" stop-color="#9f0"/><stop offset="1" stop-color="#a3ff00"/></linearGradient>
<linearGradient id="g81" gradientUnits="userSpaceOnUse" x1="161.5" x2="553.5"><stop offset="0" stop-color="#00ffc0"/><stop offset="0.3061" stop-color="#00ffa8"/><stop offset="0.4949" stop-color="#00ff8d"/><stop offset="0.6148" stop-color="#00ff6f"/><stop offset="0.6913" stop-color="#00ff4f"/><stop offset="0.7347" stop-color="#0f3"/><stop offset="0.7551" stop-color="#01ff1c"/><stop offset="0.7679" stop-color="#09ff09"/><stop offset="0.7806" stop-color="#1dff01"/><stop offset="0.8061" stop-color="#3aff00"/><stop offset="0.8622" stop-color="#62ff00"/><stop offset="0.9643" stop-color="#97ff00"/><stop offset="1" stop-color="#a7ff00"/></linearGradient>
<linearGradient id="g82" gradientUnits="userSpaceOnUse" x1="161.5" x2="556.5"><stop offset="0" stop-color="#00ffc0"/><stop offset="0.3038" stop-color="#00ffa8"/><stop offset="0.4911" stop-color="#00ff8d"/><stop offset="0.6101" stop-color="#00ff6f"/><stop offset="0.6861" stop-color="#00ff50"/><stop offset="0.7291" stop-color="#0f3"/><stop offset="0.7494" stop-color="#01ff1d"/><stop offset="0.762" stop-color="#09ff09"/><stop offset="0.7747" stop-color="#1dff01"/><stop offset="0.8" stop-color="#3aff00"/><stop offset="0.8557" stop-color="#63ff00"/><stop offset="0.957" stop-color="#98ff00"/><stop offset="1" stop-color="#abff00"/></linearGradient>
<linearGradient id="g83" gradientUnits="userSpaceOnUse" x1="162.5" x2="558.5"><stop offset="0" stop-color="#00ffc0"/><stop offset="0.303" stop-color="#00ffa9"/><stop offset="0.4899" stop-color="#00ff8d"/><stop offset="0.6086" stop-color="#00ff6f"/><stop offset="0.6818" stop-color="#00ff51"/><stop offset="0.7247" stop-color="#00ff34"/><stop offset="0.7475" stop-color="#01ff19"/><stop offset="0.7601" stop-color="#0cff07"/><stop offset="0.7727" stop-color="#20ff00"/><stop offset="0.8005" stop-color="#3eff00"/><stop offset="0.8611" stop-color="#69ff00"/><stop offset="0.9672" stop-color="#a0ff00"/><stop offset="1" stop-color="#aeff00"/></linearGradient>
<linearGradient id="g84" gradientUnits="userSpaceOnUse" x1="162.5" x2="561.5"><stop offset="0" stop-color="#00ffc1"/><stop offset="0.3008" stop-color="#00ffa9"/><stop offset="0.4862" stop-color="#00ff8e"/><stop offset="0.604" stop-color="#00ff70"/><stop offset="0.6767" stop-color="#00ff51"/><stop offset="0.7193" stop-color="#00ff34"/><stop offset="0.7419" stop-color="#01ff1a"/><stop offset="0.7544" stop-color="#0cff07"/><stop offset="0.7669" stop-color="#20ff01"/><stop offset="0.7945" stop-color="#3eff00"/><stop offset="0.8546" stop-color="#6aff00"/><stop offset="0.9599" stop-color="#a1ff00"/><stop offset="1" stop-color="#b2ff00"/></linearGradient>
<linearGradient id="g85" gradientUnits="userSpaceOnUse" x1="162.5" x2="564.5"><stop offset="0" stop-color="#00ffc1"/><stop offset="0.2985" stop-color="#0fa"/><stop offset="0.4826" stop-color="#00ff8e"/><stop offset="0.5995" stop-color="#00ff70"/><stop offset="0.6716" stop-color="#00ff52"/><stop offset="0.7139" stop-color="#00ff35"/><stop offset="0.7363" stop-color="#01ff1b"/><stop offset="0.7488" stop-color="#0cff09"/><stop offset="0.7637" stop-color="#23ff01"/><stop offset="0.7935" stop-color="#43ff00"/><stop offset="0.8557" stop-color="#6fff00"/><stop offset="0.9627" stop-color="#a6ff00"/><stop offset="1" stop-color="#b6ff00"/></linearGradient>
<linearGradient id="g86" gradientUnits="userSpaceOnUse" x1="162.5" x2="567.5"><stop offset="0" stop-color="#00ffc2"/><stop offset="0.2963" stop-color="#0fa"/><stop offset="0.479" stop-color="#00ff8f"/><stop offset="0.5951" stop-color="#00ff71"/><stop offset="0.6667" stop-color="#00ff52"/><stop offset="0.7086" stop-color="#00ff35"/><stop offset="0.7309" stop-color="#01ff1c"/><stop offset="0.7432" stop-color="#0dff0b"/><stop offset="0.758" stop-color="#24ff02"/><stop offset="0.7901" stop-color="#45ff00"/><stop offset="0.8543" stop-color="#72ff00"/><stop offset="0.963" stop-color="#af0"/><stop offset="1" stop-color="#baff00"/></linearGradient>
<linearGradient id="g87" gradientUnits="userSpaceOnUse" x1="162.5" x2="570.5"><stop offset="0" stop-color="#00ffc2"/><stop offset="0.2941" stop-color="#00ffab"/><stop offset="0.4755" stop-color="#00ff90"/><stop offset="0.5907" stop-color="#00ff72"/><stop offset="0.6618" stop-color="#00ff53"/><stop offset="0.7034" stop-color="#00ff36"/><stop offset="0.7279" stop-color="#03ff1a"/><stop offset="0.7426" stop-color="#16ff09"/><stop offset="0.7672" stop-color="#35ff01"/><stop offset="0.8162" stop-color="#5eff00"/><stop offset="0.9044" stop-color="#92ff00"/><stop offset="1" stop-color="#bfff00"/></linearGradient>
<linearGradient id="g88" gradientUnits="userSpaceOnUse" x1="162.5" x2="572.5"><stop offset="0" stop-color="#00ffc3"/><stop offset="0.2927" stop-color="#00ffab"/><stop offset="0.4732" stop-color="#00ff90"/><stop offset="0.5878" stop-color="#00ff72"/><stop offset="0.6585" stop-color="#00ff53"/><stop offset="0.7" stop-color="#00ff37"/><stop offset="0.722" stop-color="#03ff1e"/><stop offset="0.7366" stop-color="#14ff0f"/><stop offset="0.7634" stop-color="#35ff02"/><stop offset="0.8146" stop-color="#60ff00"/><stop offset="0.9024" stop-color="#94ff00"/><stop offset="1" stop-color="#c2ff00"/></linearGradient>
<linearGradient id="g89" gradientUnits="userSpaceOnUse" x1="162.5" x2="575.5"><stop offset="0" stop-color="#00ffc3"/><stop offset="0.2906" stop-color="#00ffac"/><stop offset="0.4697" stop-color="#00ff91"/><stop offset="0.5835" stop-color="#00ff73"/><stop offset="0.6538" stop-color="#00ff54"/><stop offset="0.6949" stop-color="#00ff37"/><stop offset="0.7167" stop-color="#04ff20"/><stop offset="0.7385" stop-color="#21ff0f"/><stop offset="0.7724" stop-color="#43ff01"/><stop offset="0.8329" stop-color="#71ff00"/><stop offset="0.9346" stop-color="#a8ff00"/><stop offset="1" stop-color="#c6ff00"/></linearGradient>
<linearGradient id="g90" gradientUnits="userSpaceOnUse" x1="162.5" x2="578.5"><stop offset="0" stop-color="#00ffc4"/><stop offset="0.2909" stop-color="#00ffac"/><stop offset="0.4663" stop-color="#00ff91"/><stop offset="0.5793" stop-color="#00ff73"/><stop offset="0.649" stop-color="#0f5"/><stop offset="0.6923" stop-color="#00ff35"/><stop offset="0.7091" stop-color="#04ff24"/><stop offset="0.7308" stop-color="#20ff14"/><stop offset="0.7716" stop-color="#48ff02"/><stop offset="0.8365" stop-color="#7f0"/><stop offset="0.9447" stop-color="#b1ff00"/><stop offset="1" stop-color="#caff00"/></linearGradient>
<linearGradient id="g91" gradientUnits="userSpaceOnUse" x1="162.5" x2="581.5"><stop offset="0" stop-color="#00ffc4"/><stop offset="0.2888" stop-color="#00ffad"/><stop offset="0.463" stop-color="#00ff92"/><stop offset="0.5752" stop-color="#00ff74"/><stop offset="0.6444" stop-color="#0f5"/><stop offset="0.6874" stop-color="#00ff36"/><stop offset="0.7041" stop-color="#05ff25"/><stop offset="0.7303" stop-color="#28ff16"/><stop offset="0.7757" stop-color="#50ff02"/><stop offset="0.8473" stop-color="#82ff00"/><stop offset="0.9642" stop-color="#beff00"/><stop offset="1" stop-color="#ceff00"/></linearGradient>
<linearGradient id="g92" gradientUnits="userSpaceOnUse" x1="163.5" x2="584.5"><stop offset="0" stop-color="#00ffc4"/><stop offset="0.285" stop-color="#00ffad"/><stop offset="0.4584" stop-color="#00ff93"/><stop offset="0.5677" stop-color="#00ff76"/><stop offset="0.639" stop-color="#00ff56"/><stop offset="0.6817" stop-color="#00ff37"/><stop offset="0.696" stop-color="#05ff29"/><stop offset="0.7197" stop-color="#25ff1b"/><stop offset="0.7625" stop-color="#4bff07"/><stop offset="0.7933" stop-color="#63ff00"/><stop offset="0.8789" stop-color="#98ff00"/><stop offset="1" stop-color="#d3ff00"/></linearGradient>
<linearGradient id="g93" gradientUnits="userSpaceOnUse" x1="163.5" x2="586.5"><stop offset="0" stop-color="#00ffc5"/><stop offset="0.2837" stop-color="#00ffae"/><stop offset="0.4563" stop-color="#00ff93"/><stop offset="0.565" stop-color="#00ff76"/><stop offset="0.6359" stop-color="#00ff57"/><stop offset="0.6785" stop-color="#00ff37"/><stop offset="0.6927" stop-color="#06ff2a"/><stop offset="0.721" stop-color="#2cff1d"/><stop offset="0.7825" stop-color="#5eff02"/><stop offset="0.8652" stop-color="#94ff00"/><stop offset="0.9953" stop-color="#d4ff00"/><stop offset="1" stop-color="#d6ff00"/></linearGradient>
<linearGradient id="g94" gradientUnits="userSpaceOnUse" x1="163.5" x2="589.5"><stop offset="0" stop-color="#00ffc5"/><stop offset="0.2817" stop-color="#00ffae"/><stop offset="0.4531" stop-color="#00ff94"/><stop offset="0.561" stop-color="#0f7"/><stop offset="0.6315" stop-color="#00ff57"/><stop offset="0.6737" stop-color="#00ff38"/><stop offset="0.6854" stop-color="#06ff2d"/><stop offset="0.716" stop-color="#2eff20"/><stop offset="0.7723" stop-color="#5cff06"/><stop offset="0.8052" stop-color="#73ff00"/><stop offset="0.9014" stop-color="#acff00"/><stop offset="1" stop-color="#daff00"/></linearGradient>
<linearGradient id="g95" gradientUnits="userSpaceOnUse" x1="163.5" x2="592.5"><stop offset="0" stop-color="#00ffc6"/><stop offset="0.2821" stop-color="#00ffaf"/><stop offset="0.4522" stop-color="#00ff94"/><stop offset="0.5594" stop-color="#0f7"/><stop offset="0.627" stop-color="#00ff58"/><stop offset="0.669" stop-color="#01ff39"/><stop offset="0.6807" stop-color="#08ff2f"/><stop offset="0.7063" stop-color="#2bff24"/><stop offset="0.7529" stop-color="#53ff12"/><stop offset="0.7879" stop-color="#6cff02"/><stop offset="0.8788" stop-color="#a4ff00"/><stop offset="1" stop-color="#dfff00"/></linearGradient>
<linearGradient id="g96" gradientUnits="userSpaceOnUse" x1="163.5" x2="595.5"><stop offset="0" stop-color="#00ffc6"/><stop offset="0.2801" stop-color="#00ffaf"/><stop offset="0.4491" stop-color="#00ff95"/><stop offset="0.5556" stop-color="#0f7"/><stop offset="0.6227" stop-color="#00ff59"/><stop offset="0.6644" stop-color="#01ff39"/><stop offset="0.6759" stop-color="#0aff30"/><stop offset="0.6991" stop-color="#2bff28"/><stop offset="0.7431" stop-color="#51ff18"/><stop offset="0.7894" stop-color="#71ff02"/><stop offset="0.8843" stop-color="#abff00"/><stop offset="1" stop-color="#e3ff00"/></linearGradient>
<linearGradient id="g97" gradientUnits="userSpaceOnUse" x1="163.5" x2="598.5"><stop offset="0" stop-color="#00ffc7"/><stop offset="0.2782" stop-color="#00ffb0"/><stop offset="0.446" stop-color="#00ff95"/><stop offset="0.5517" stop-color="#00ff78"/><stop offset="0.6184" stop-color="#00ff59"/><stop offset="0.6621" stop-color="#03ff38"/><stop offset="0.6759" stop-color="#14ff30"/><stop offset="0.6966" stop-color="#2fff2a"/><stop offset="0.7448" stop-color="#57ff19"/><stop offset="0.7931" stop-color="#78ff02"/><stop offset="0.892" stop-color="#b3ff00"/><stop offset="1" stop-color="#e7ff00"/></linearGradient>
<linearGradient id="g98" gradientUnits="userSpaceOnUse" x1="164.5" x2="600.5"><stop offset="0" stop-color="#00ffc7"/><stop offset="0.2752" stop-color="#00ffb0"/><stop offset="0.4427" stop-color="#00ff96"/><stop offset="0.5482" stop-color="#00ff79"/><stop offset="0.6147" stop-color="#00ff5a"/><stop offset="0.656" stop-color="#02ff3b"/><stop offset="0.6674" stop-color="#0fff34"/><stop offset="0.6881" stop-color="#2cff2d"/><stop offset="0.7339" stop-color="#54ff1f"/><stop offset="0.7959" stop-color="#7eff02"/><stop offset="0.8968" stop-color="#b9ff00"/><stop offset="1" stop-color="#ebff00"/></linearGradient>
<linearGradient id="g99" gradientUnits="userSpaceOnUse" x1="164.5" x2="603.5"><stop offset="0" stop-color="#00ffc8"/><stop offset="0.2733" stop-color="#00ffb1"/><stop offset="0.4396" stop-color="#00ff97"/><stop offset="0.5444" stop-color="#00ff79"/><stop offset="0.6105" stop-color="#00ff5b"/><stop offset="0.6492" stop-color="#02ff3e"/><stop offset="0.6606" stop-color="#0fff36"/><stop offset="0.6811" stop-color="#2cff30"/><stop offset="0.7244" stop-color="#52ff24"/><stop offset="0.7745" stop-color="#74ff0d"/><stop offset="0.8018" stop-color="#86ff01"/><stop offset="0.9089" stop-color="#c4ff00"/><stop offset="1" stop-color="#f0ff00"/></linearGradient>
<linearGradient id="g100" gradientUnits="userSpaceOnUse" x1="164.5" x2="606.5"><stop offset="0" stop-color="#00ffc8"/><stop offset="0.2738" stop-color="#00ffb1"/><stop offset="0.4367" stop-color="#00ff97"/><stop offset="0.5407" stop-color="#00ff7a"/><stop offset="0.6063" stop-color="#00ff5b"/><stop offset="0.6425" stop-color="#02ff41"/><stop offset="0.6538" stop-color="#0eff39"/><stop offset="0.6742" stop-color="#2cff33"/><stop offset="0.7172" stop-color="#52ff27"/><stop offset="0.7715" stop-color="#77ff10"/><stop offset="0.8032" stop-color="#8bff01"/><stop offset="0.9118" stop-color="#caff00"/><stop offset="1" stop-color="#f4ff00"/></linearGradient>
<linearGradient id="g101" gradientUnits="userSpaceOnUse" x1="164.5" x2="609.5"><stop offset="0" stop-color="#00ffc9"/><stop offset="0.2719" stop-color="#00ffb2"/><stop offset="0.4337" stop-color="#00ff98"/><stop offset="0.5371" stop-color="#00ff7b"/><stop offset="0.6022" stop-color="#00ff5c"/><stop offset="0.6382" stop-color="#03ff42"/><stop offset="0.6517" stop-color="#15ff3a"/><stop offset="0.6719" stop-color="#30ff35"/><stop offset="0.7191" stop-color="#59ff28"/><stop offset="0.773" stop-color="#7dff11"/><stop offset="0.8045" stop-color="#91ff02"/><stop offset="0.9169" stop-color="#d1ff00"/><stop offset="1" stop-color="#f9ff00"/></linearGradient>
<linearGradient id="g102" gradientUnits="userSpaceOnUse" x1="164.5" x2="612.5"><stop offset="0" stop-color="#00ffc9"/><stop offset="0.2701" stop-color="#00ffb3"/><stop offset="0.4308" stop-color="#0f9"/><stop offset="0.5335" stop-color="#00ff7c"/><stop offset="0.5982" stop-color="#00ff5d"/><stop offset="0.6317" stop-color="#03ff44"/><stop offset="0.6429" stop-color="#10ff3e"/><stop offset="0.6629" stop-color="#2dff38"/><stop offset="0.7076" stop-color="#55ff2d"/><stop offset="0.7679" stop-color="#7eff16"/><stop offset="0.8058" stop-color="#96ff02"/><stop offset="0.9196" stop-color="#d7ff00"/><stop offset="1" stop-color="#fdfe00"/></linearGradient>
<linearGradient id="g103" gradientUnits="userSpaceOnUse" x1="165.5" x2="614.5"><stop offset="0" stop-color="#00ffc9"/><stop offset="0.2673" stop-color="#00ffb3"/><stop offset="0.4276" stop-color="#0f9"/><stop offset="0.5301" stop-color="#00ff7c"/><stop offset="0.5947" stop-color="#00ff5d"/><stop offset="0.6258" stop-color="#02ff47"/><stop offset="0.637" stop-color="#0fff40"/><stop offset="0.657" stop-color="#2dff3b"/><stop offset="0.6993" stop-color="#53ff30"/><stop offset="0.7684" stop-color="#82ff17"/><stop offset="0.8085" stop-color="#9bff02"/><stop offset="0.9243" stop-color="#df0"/><stop offset="0.9978" stop-color="#fefd00"/><stop offset="1" stop-color="#fefc00"/></linearGradient>
<linearGradient id="g104" gradientUnits="userSpaceOnUse" x1="165.5" x2="617.5"><stop offset="0" stop-color="#00ffca"/><stop offset="0.2677" stop-color="#00ffb4"/><stop offset="0.427" stop-color="#00ff9a"/><stop offset="0.5265" stop-color="#00ff7d"/><stop offset="0.5907" stop-color="#00ff5e"/><stop offset="0.6195" stop-color="#02ff4a"/><stop offset="0.6305" stop-color="#0eff43"/><stop offset="0.6504" stop-color="#2cff3d"/><stop offset="0.6925" stop-color="#53ff33"/><stop offset="0.7677" stop-color="#87ff19"/><stop offset="0.8119" stop-color="#a2ff02"/><stop offset="0.9314" stop-color="#e5ff00"/><stop offset="0.9867" stop-color="#fefd00"/><stop offset="1" stop-color="#fff800"/></linearGradient>
<linearGradient id="g105" gradientUnits="userSpaceOnUse" x1="165.5" x2="620.5"><stop offset="0" stop-color="#00ffca"/><stop offset="0.2659" stop-color="#00ffb4"/><stop offset="0.4242" stop-color="#00ff9a"/><stop offset="0.5231" stop-color="#00ff7e"/><stop offset="0.5868" stop-color="#00ff5f"/><stop offset="0.6154" stop-color="#03ff4a"/><stop offset="0.6286" stop-color="#15ff44"/><stop offset="0.6484" stop-color="#31ff3f"/><stop offset="0.6945" stop-color="#5aff34"/><stop offset="0.7692" stop-color="#8cff1a"/><stop offset="0.8132" stop-color="#a7ff02"/><stop offset="0.9341" stop-color="#ebff00"/><stop offset="0.978" stop-color="#fefd00"/><stop offset="1" stop-color="#fff400"/></linearGradient>
<linearGradient id="g106" gradientUnits="userSpaceOnUse" x1="165.5" x2="623.5"><stop offset="0" stop-color="#00ffcb"/><stop offset="0.2642" stop-color="#00ffb5"/><stop offset="0.4214" stop-color="#00ff9b"/><stop offset="0.5197" stop-color="#00ff7f"/><stop offset="0.583" stop-color="#00ff60"/><stop offset="0.6092" stop-color="#03ff4d"/><stop offset="0.6201" stop-color="#10ff47"/><stop offset="0.6397" stop-color="#2eff42"/><stop offset="0.6834" stop-color="#57ff38"/><stop offset="0.7664" stop-color="#8fff1d"/><stop offset="0.8166" stop-color="#aeff02"/><stop offset="0.941" stop-color="#f3ff00"/><stop offset="0.9716" stop-color="#fefb00"/><stop offset="1" stop-color="#ffef00"/></linearGradient>
<linearGradient id="g107" gradientUnits="userSpaceOnUse" x1="165.5" x2="626.5"><stop offset="0" stop-color="#00ffcb"/><stop offset="0.2625" stop-color="#00ffb5"/><stop offset="0.4187" stop-color="#00ff9c"/><stop offset="0.5163" stop-color="#00ff7f"/><stop offset="0.5792" stop-color="#00ff60"/><stop offset="0.603" stop-color="#02ff50"/><stop offset="0.6139" stop-color="#10ff49"/><stop offset="0.6334" stop-color="#2eff45"/><stop offset="0.6746" stop-color="#55ff3b"/><stop offset="0.7636" stop-color="#92ff20"/><stop offset="0.8178" stop-color="#b3ff02"/><stop offset="0.9414" stop-color="#f8ff00"/><stop offset="0.9696" stop-color="#fff800"/><stop offset="1" stop-color="#ffeb00"/></linearGradient>
<linearGradient id="g108" gradientUnits="userSpaceOnUse" x1="166.5" x2="628.5"><stop offset="0" stop-color="#0fc"/><stop offset="0.2619" stop-color="#00ffb6"/><stop offset="0.4177" stop-color="#00ff9c"/><stop offset="0.5152" stop-color="#00ff7f"/><stop offset="0.5758" stop-color="#00ff61"/><stop offset="0.5996" stop-color="#03ff51"/><stop offset="0.6126" stop-color="#16ff4a"/><stop offset="0.632" stop-color="#32ff46"/><stop offset="0.6797" stop-color="#5dff3c"/><stop offset="0.7662" stop-color="#98ff20"/><stop offset="0.8225" stop-color="#baff02"/><stop offset="0.9394" stop-color="#fbff00"/><stop offset="0.974" stop-color="#fff200"/><stop offset="1" stop-color="#ffe800"/></linearGradient>
<linearGradient id="g109" gradientUnits="userSpaceOnUse" x1="166.5" x2="631.5"><stop offset="0" stop-color="#0fc"/><stop offset="0.2602" stop-color="#00ffb6"/><stop offset="0.4151" stop-color="#00ff9d"/><stop offset="0.5118" stop-color="#00ff80"/><stop offset="0.572" stop-color="#00ff62"/><stop offset="0.5935" stop-color="#03ff53"/><stop offset="0.6065" stop-color="#16ff4d"/><stop offset="0.6258" stop-color="#32ff49"/><stop offset="0.671" stop-color="#5bff3f"/><stop offset="0.7634" stop-color="#9aff23"/><stop offset="0.8258" stop-color="#c0ff02"/><stop offset="0.9333" stop-color="#fcfe00"/><stop offset="0.9914" stop-color="#ffe700"/><stop offset="1" stop-color="#ffe400"/></linearGradient>
<linearGradient id="g110" gradientUnits="userSpaceOnUse" x1="166.5" x2="634.5"><stop offset="0" stop-color="#00ffcd"/><stop offset="0.2585" stop-color="#00ffb7"/><stop offset="0.4124" stop-color="#00ff9e"/><stop offset="0.5085" stop-color="#00ff81"/><stop offset="0.5684" stop-color="#00ff63"/><stop offset="0.5876" stop-color="#03ff55"/><stop offset="0.5983" stop-color="#11ff50"/><stop offset="0.6175" stop-color="#2fff4c"/><stop offset="0.6603" stop-color="#58ff42"/><stop offset="0.75" stop-color="#97ff29"/><stop offset="0.797" stop-color="#b4ff13"/><stop offset="0.8269" stop-color="#c6ff02"/><stop offset="0.9252" stop-color="#fdfe00"/><stop offset="1" stop-color="#ffdf00"/></linearGradient>
<linearGradient id="g111" gradientUnits="userSpaceOnUse" x1="166.5" x2="637.5"><stop offset="0" stop-color="#00ffcd"/><stop offset="0.2569" stop-color="#00ffb8"/><stop offset="0.4098" stop-color="#00ff9e"/><stop offset="0.5053" stop-color="#00ff82"/><stop offset="0.5648" stop-color="#00ff64"/><stop offset="0.5839" stop-color="#04ff56"/><stop offset="0.6136" stop-color="#31ff4e"/><stop offset="0.6561" stop-color="#5aff45"/><stop offset="0.7473" stop-color="#9aff2b"/><stop offset="0.7962" stop-color="#b8ff15"/><stop offset="0.828" stop-color="#cbff02"/><stop offset="0.9172" stop-color="#fdfe00"/><stop offset="1" stop-color="#ffdb00"/></linearGradient>
<linearGradient id="g112" gradientUnits="userSpaceOnUse" x1="167.5" x2="639.5"><stop offset="0" stop-color="#00ffce"/><stop offset="0.2564" stop-color="#00ffb8"/><stop offset="0.4068" stop-color="#00ff9f"/><stop offset="0.5021" stop-color="#00ff83"/><stop offset="0.5614" stop-color="#00ff64"/><stop offset="0.5784" stop-color="#04ff59"/><stop offset="0.5911" stop-color="#17ff53"/><stop offset="0.6102" stop-color="#33ff4f"/><stop offset="0.6547" stop-color="#5dff46"/><stop offset="0.75" stop-color="#9fff2c"/><stop offset="0.8008" stop-color="#bfff14"/><stop offset="0.8305" stop-color="#d1ff02"/><stop offset="0.911" stop-color="#fdfd00"/><stop offset="1" stop-color="#ffd800"/></linearGradient>
<linearGradient id="g113" gradientUnits="userSpaceOnUse" x1="167.5" x2="642.5"><stop offset="0" stop-color="#00ffce"/><stop offset="0.2547" stop-color="#00ffb9"/><stop offset="0.4042" stop-color="#00ffa0"/><stop offset="0.4989" stop-color="#00ff83"/><stop offset="0.5579" stop-color="#00ff65"/><stop offset="0.5726" stop-color="#03ff5b"/><stop offset="0.5853" stop-color="#16ff56"/><stop offset="0.6042" stop-color="#33ff52"/><stop offset="0.6484" stop-color="#5dff49"/><stop offset="0.7411" stop-color="#9eff30"/><stop offset="0.7979" stop-color="#c2ff18"/><stop offset="0.8337" stop-color="#d7ff02"/><stop offset="0.9011" stop-color="#fdfd00"/><stop offset="1" stop-color="#ffd400"/></linearGradient>
<linearGradient id="g114" gradientUnits="userSpaceOnUse" x1="167.5" x2="645.5"><stop offset="0" stop-color="#00ffcf"/><stop offset="0.2531" stop-color="#00ffb9"/><stop offset="0.4017" stop-color="#00ffa1"/><stop offset="0.4958" stop-color="#00ff84"/><stop offset="0.5544" stop-color="#0f6"/><stop offset="0.569" stop-color="#05ff5c"/><stop offset="0.5962" stop-color="#30ff55"/><stop offset="0.636" stop-color="#58ff4d"/><stop offset="0.7218" stop-color="#96ff38"/><stop offset="0.7908" stop-color="#c2ff1d"/><stop offset="0.8347" stop-color="#ddff02"/><stop offset="0.8933" stop-color="#fdfd00"/><stop offset="0.9937" stop-color="#ffd300"/><stop offset="1" stop-color="#ffd100"/></linearGradient>
<linearGradient id="g115" gradientUnits="userSpaceOnUse" x1="167.5" x2="648.5"><stop offset="0" stop-color="#00ffcf"/><stop offset="0.2516" stop-color="#00ffba"/><stop offset="0.3992" stop-color="#00ffa2"/><stop offset="0.4906" stop-color="#00ff86"/><stop offset="0.5509" stop-color="#00ff67"/><stop offset="0.5634" stop-color="#04ff5f"/><stop offset="0.5925" stop-color="#32ff57"/><stop offset="0.6341" stop-color="#5bff4e"/><stop offset="0.7235" stop-color="#9cff38"/><stop offset="0.7921" stop-color="#c8ff1e"/><stop offset="0.8378" stop-color="#e4ff02"/><stop offset="0.8857" stop-color="#fefc00"/><stop offset="0.9813" stop-color="#ffd300"/><stop offset="1" stop-color="#ffcd00"/></linearGradient>
<linearGradient id="g116" gradientUnits="userSpaceOnUse" x1="168.5" x2="651.5"><stop offset="0" stop-color="#00ffd0"/><stop offset="0.2505" stop-color="#0fb"/><stop offset="0.3975" stop-color="#00ffa2"/><stop offset="0.4886" stop-color="#00ff86"/><stop offset="0.5466" stop-color="#00ff68"/><stop offset="0.559" stop-color="#06ff60"/><stop offset="0.5839" stop-color="#2fff59"/><stop offset="0.6232" stop-color="#57ff52"/><stop offset="0.706" stop-color="#96ff3f"/><stop offset="0.7867" stop-color="#c9ff22"/><stop offset="0.8406" stop-color="#ebff02"/><stop offset="0.8778" stop-color="#fefc00"/><stop offset="0.9689" stop-color="#ffd400"/><stop offset="1" stop-color="#ffc900"/></linearGradient>
<linearGradient id="g117" gradientUnits="userSpaceOnUse" x1="168.5" x2="653.5"><stop offset="0" stop-color="#00ffd0"/><stop offset="0.2495" stop-color="#0fb"/><stop offset="0.3959" stop-color="#00ffa3"/><stop offset="0.4866" stop-color="#00ff87"/><stop offset="0.5443" stop-color="#00ff69"/><stop offset="0.5546" stop-color="#05ff62"/><stop offset="0.5814" stop-color="#31ff5b"/><stop offset="0.6227" stop-color="#5bff53"/><stop offset="0.7093" stop-color="#9bff3f"/><stop offset="0.7897" stop-color="#cfff23"/><stop offset="0.8433" stop-color="#f1ff02"/><stop offset="0.8722" stop-color="#fefb00"/><stop offset="0.9608" stop-color="#ffd400"/><stop offset="1" stop-color="#ffc700"/></linearGradient>
<linearGradient id="g118" gradientUnits="userSpaceOnUse" x1="168.5" x2="656.5"><stop offset="0" stop-color="#00ffd1"/><stop offset="0.248" stop-color="#00ffbc"/><stop offset="0.3934" stop-color="#00ffa3"/><stop offset="0.4836" stop-color="#0f8"/><stop offset="0.541" stop-color="#00ff6a"/><stop offset="0.5512" stop-color="#07ff63"/><stop offset="0.5758" stop-color="#31ff5d"/><stop offset="0.6148" stop-color="#59ff56"/><stop offset="0.6988" stop-color="#99ff43"/><stop offset="0.7848" stop-color="#d1ff27"/><stop offset="0.8238" stop-color="#eaff0f"/><stop offset="0.8484" stop-color="#f9ff01"/><stop offset="0.873" stop-color="#fff600"/><stop offset="0.9549" stop-color="#ffd200"/><stop offset="1" stop-color="#ffc300"/></linearGradient>
<linearGradient id="g119" gradientUnits="userSpaceOnUse" x1="168.5" x2="659.5"><stop offset="0" stop-color="#00ffd1"/><stop offset="0.2485" stop-color="#00ffbc"/><stop offset="0.3931" stop-color="#00ffa4"/><stop offset="0.4827" stop-color="#0f8"/><stop offset="0.5397" stop-color="#02ff69"/><stop offset="0.5499" stop-color="#0dff64"/><stop offset="0.5682" stop-color="#2dff60"/><stop offset="0.6049" stop-color="#55ff59"/><stop offset="0.6823" stop-color="#92ff49"/><stop offset="0.778" stop-color="#d2ff2b"/><stop offset="0.8208" stop-color="#edff13"/><stop offset="0.8473" stop-color="#fcfe02"/><stop offset="0.9084" stop-color="#ffe000"/><stop offset="1" stop-color="#ffc000"/></linearGradient>
<linearGradient id="g120" gradientUnits="userSpaceOnUse" x1="169.5" x2="662.5"><stop offset="0" stop-color="#00ffd2"/><stop offset="0.2454" stop-color="#00ffbd"/><stop offset="0.3895" stop-color="#00ffa5"/><stop offset="0.4787" stop-color="#00ff89"/><stop offset="0.5355" stop-color="#02ff6a"/><stop offset="0.5456" stop-color="#10ff66"/><stop offset="0.5639" stop-color="#30ff62"/><stop offset="0.6024" stop-color="#59ff5b"/><stop offset="0.6836" stop-color="#98ff4a"/><stop offset="0.7789" stop-color="#d8ff2c"/><stop offset="0.8215" stop-color="#f3ff14"/><stop offset="0.8479" stop-color="#fefa02"/><stop offset="0.929" stop-color="#ffd400"/><stop offset="1" stop-color="#ffbc00"/></linearGradient>
<linearGradient id="g121" gradientUnits="userSpaceOnUse" x1="169.5" x2="664.5"><stop offset="0" stop-color="#00ffd2"/><stop offset="0.2465" stop-color="#00ffbe"/><stop offset="0.3879" stop-color="#00ffa6"/><stop offset="0.4768" stop-color="#00ff8a"/><stop offset="0.5313" stop-color="#02ff6d"/><stop offset="0.5414" stop-color="#0fff68"/><stop offset="0.5596" stop-color="#2fff64"/><stop offset="0.596" stop-color="#57ff5e"/><stop offset="0.6747" stop-color="#95ff4d"/><stop offset="0.7758" stop-color="#d9ff2f"/><stop offset="0.8222" stop-color="#f7ff16"/><stop offset="0.8444" stop-color="#fff806"/><stop offset="0.8707" stop-color="#ffea00"/><stop offset="0.9576" stop-color="#ffc600"/><stop offset="1" stop-color="#ffb900"/></linearGradient>
<linearGradient id="g122" gradientUnits="userSpaceOnUse" x1="169.5" x2="667.5"><stop offset="0" stop-color="#00ffd3"/><stop offset="0.245" stop-color="#00ffbe"/><stop offset="0.3855" stop-color="#00ffa6"/><stop offset="0.4739" stop-color="#00ff8b"/><stop offset="0.5261" stop-color="#02ff6f"/><stop offset="0.5361" stop-color="#0fff6a"/><stop offset="0.5542" stop-color="#2fff66"/><stop offset="0.5904" stop-color="#57ff60"/><stop offset="0.6667" stop-color="#94ff51"/><stop offset="0.7711" stop-color="#dbff32"/><stop offset="0.8193" stop-color="#fafe1a"/><stop offset="0.8474" stop-color="#fff205"/><stop offset="0.8775" stop-color="#ffe200"/><stop offset="0.9699" stop-color="#ffbf00"/><stop offset="1" stop-color="#ffb600"/></linearGradient>
<linearGradient id="g123" gradientUnits="userSpaceOnUse" x1="170.5" x2="670.5"><stop offset="0" stop-color="#00ffd3"/><stop offset="0.244" stop-color="#00ffbf"/><stop offset="0.384" stop-color="#00ffa7"/><stop offset="0.47" stop-color="#00ff8c"/><stop offset="0.52" stop-color="#02ff71"/><stop offset="0.53" stop-color="#0eff6c"/><stop offset="0.548" stop-color="#2eff69"/><stop offset="0.584" stop-color="#57ff63"/><stop offset="0.66" stop-color="#95ff53"/><stop offset="0.768" stop-color="#dfff34"/><stop offset="0.818" stop-color="#fdfd1c"/><stop offset="0.854" stop-color="#ffe903"/><stop offset="0.938" stop-color="#ffc500"/><stop offset="1" stop-color="#ffb300"/></linearGradient>
<linearGradient id="g124" gradientUnits="userSpaceOnUse" x1="170.5" x2="673.5"><stop offset="0" stop-color="#00ffd4"/><stop offset="0.2425" stop-color="#00ffc0"/><stop offset="0.3817" stop-color="#00ffa8"/><stop offset="0.4672" stop-color="#00ff8c"/><stop offset="0.5169" stop-color="#03ff72"/><stop offset="0.5268" stop-color="#11ff6e"/><stop offset="0.5447" stop-color="#31ff6b"/><stop offset="0.5825" stop-color="#5aff64"/><stop offset="0.662" stop-color="#9bff54"/><stop offset="0.7694" stop-color="#e5ff35"/><stop offset="0.8111" stop-color="#fefc22"/><stop offset="0.8549" stop-color="#ffe403"/><stop offset="0.9165" stop-color="#ffc900"/><stop offset="1" stop-color="#ffb000"/></linearGradient>
<linearGradient id="g125" gradientUnits="userSpaceOnUse" x1="170.5" x2="675.5"><stop offset="0" stop-color="#00ffd4"/><stop offset="0.2416" stop-color="#00ffc0"/><stop offset="0.3802" stop-color="#00ffa9"/><stop offset="0.4653" stop-color="#00ff8d"/><stop offset="0.5129" stop-color="#02ff75"/><stop offset="0.5228" stop-color="#10ff70"/><stop offset="0.5406" stop-color="#30ff6d"/><stop offset="0.5762" stop-color="#58ff67"/><stop offset="0.6535" stop-color="#98ff58"/><stop offset="0.7663" stop-color="#e7ff38"/><stop offset="0.804" stop-color="#fdfc28"/><stop offset="0.8594" stop-color="#ffde03"/><stop offset="0.9485" stop-color="#fb0"/><stop offset="1" stop-color="#ffad00"/></linearGradient>
<linearGradient id="g126" gradientUnits="userSpaceOnUse" x1="170.5" x2="678.5"><stop offset="0" stop-color="#00ffd5"/><stop offset="0.2402" stop-color="#00ffc1"/><stop offset="0.378" stop-color="#00ffa9"/><stop offset="0.4626" stop-color="#00ff8e"/><stop offset="0.5079" stop-color="#02ff77"/><stop offset="0.5177" stop-color="#0fff72"/><stop offset="0.5354" stop-color="#30ff6f"/><stop offset="0.5709" stop-color="#58ff69"/><stop offset="0.6457" stop-color="#97ff5b"/><stop offset="0.7618" stop-color="#e9ff3b"/><stop offset="0.7972" stop-color="#fefc2d"/><stop offset="0.8484" stop-color="#ffdf09"/><stop offset="0.8701" stop-color="#ffd401"/><stop offset="0.9665" stop-color="#ffb300"/><stop offset="1" stop-color="#fa0"/></linearGradient>
<linearGradient id="g127" gradientUnits="userSpaceOnUse" x1="171.5" x2="681.5"><stop offset="0" stop-color="#00ffd6"/><stop offset="0.2392" stop-color="#00ffc2"/><stop offset="0.3765" stop-color="#0fa"/><stop offset="0.4608" stop-color="#00ff8f"/><stop offset="0.502" stop-color="#02ff79"/><stop offset="0.5118" stop-color="#0eff75"/><stop offset="0.5294" stop-color="#2fff71"/><stop offset="0.5647" stop-color="#58ff6c"/><stop offset="0.6392" stop-color="#97ff5e"/><stop offset="0.7569" stop-color="#ebff3e"/><stop offset="0.7882" stop-color="#fefc32"/><stop offset="0.8412" stop-color="#ffde10"/><stop offset="0.8647" stop-color="#ffd202"/><stop offset="0.9608" stop-color="#ffb100"/><stop offset="1" stop-color="#ffa700"/></linearGradient>
<linearGradient id="g128" gradientUnits="userSpaceOnUse" x1="171.5" x2="684.5"><stop offset="0" stop-color="#00ffd6"/><stop offset="0.2378" stop-color="#00ffc2"/><stop offset="0.3743" stop-color="#00ffab"/><stop offset="0.4581" stop-color="#00ff90"/><stop offset="0.4971" stop-color="#02ff7b"/><stop offset="0.5068" stop-color="#0dff77"/><stop offset="0.5244" stop-color="#2fff73"/><stop offset="0.5575" stop-color="#56ff6e"/><stop offset="0.6296" stop-color="#94ff61"/><stop offset="0.7524" stop-color="#edff41"/><stop offset="0.7817" stop-color="#fefb36"/><stop offset="0.8402" stop-color="#ffda12"/><stop offset="0.8655" stop-color="#ffce02"/><stop offset="0.9649" stop-color="#ffad00"/><stop offset="1" stop-color="#ffa400"/></linearGradient>
<linearGradient id="g129" gradientUnits="userSpaceOnUse" x1="171.5" x2="687.5"><stop offset="0" stop-color="#00ffd7"/><stop offset="0.2384" stop-color="#00ffc3"/><stop offset="0.3721" stop-color="#00ffac"/><stop offset="0.4554" stop-color="#00ff91"/><stop offset="0.4942" stop-color="#02ff7d"/><stop offset="0.5039" stop-color="#10ff78"/><stop offset="0.5213" stop-color="#31ff75"/><stop offset="0.5562" stop-color="#5aff70"/><stop offset="0.6298" stop-color="#99ff62"/><stop offset="0.7519" stop-color="#f2ff43"/><stop offset="0.7752" stop-color="#fefb3a"/><stop offset="0.8411" stop-color="#ffd513"/><stop offset="0.8682" stop-color="#ffc902"/><stop offset="0.9709" stop-color="#ffa800"/><stop offset="1" stop-color="#ffa100"/></linearGradient>
<linearGradient id="g130" gradientUnits="userSpaceOnUse" x1="172.5" x2="689.5"><stop offset="0" stop-color="#00ffd7"/><stop offset="0.2379" stop-color="#00ffc3"/><stop offset="0.3714" stop-color="#00ffac"/><stop offset="0.4526" stop-color="#00ff92"/><stop offset="0.4894" stop-color="#02ff7f"/><stop offset="0.499" stop-color="#10ff7b"/><stop offset="0.5164" stop-color="#31ff78"/><stop offset="0.5513" stop-color="#5aff72"/><stop offset="0.6248" stop-color="#99ff65"/><stop offset="0.7485" stop-color="#f4ff46"/><stop offset="0.7718" stop-color="#fff93c"/><stop offset="0.8433" stop-color="#ffd013"/><stop offset="0.8704" stop-color="#ffc402"/><stop offset="0.9749" stop-color="#ffa400"/><stop offset="1" stop-color="#ff9e00"/></linearGradient>
<linearGradient id="g131" gradientUnits="userSpaceOnUse" x1="172.5" x2="692.5"><stop offset="0" stop-color="#00ffd8"/><stop offset="0.2365" stop-color="#00ffc4"/><stop offset="0.3692" stop-color="#00ffad"/><stop offset="0.45" stop-color="#00ff93"/><stop offset="0.4846" stop-color="#02ff81"/><stop offset="0.4942" stop-color="#0fff7d"/><stop offset="0.5115" stop-color="#30ff7a"/><stop offset="0.5442" stop-color="#58ff75"/><stop offset="0.6154" stop-color="#97ff68"/><stop offset="0.7442" stop-color="#f6ff49"/><stop offset="0.7654" stop-color="#fff840"/><stop offset="0.8442" stop-color="#ffcc13"/><stop offset="0.8712" stop-color="#ffc002"/><stop offset="0.9788" stop-color="#ffa000"/><stop offset="1" stop-color="#ff9b00"/></linearGradient>
<linearGradient id="g132" gradientUnits="userSpaceOnUse" x1="172.5" x2="695.5"><stop offset="0" stop-color="#00ffd8"/><stop offset="0.2352" stop-color="#00ffc5"/><stop offset="0.3671" stop-color="#00ffae"/><stop offset="0.4474" stop-color="#00ff94"/><stop offset="0.4799" stop-color="#02ff83"/><stop offset="0.4895" stop-color="#0eff7f"/><stop offset="0.5067" stop-color="#30ff7c"/><stop offset="0.5392" stop-color="#58ff77"/><stop offset="0.608" stop-color="#95ff6b"/><stop offset="0.738" stop-color="#f7ff4c"/><stop offset="0.7591" stop-color="#fff743"/><stop offset="0.8375" stop-color="#ffcb19"/><stop offset="0.8719" stop-color="#ffbc03"/><stop offset="0.9694" stop-color="#ff9f00"/><stop offset="1" stop-color="#f90"/></linearGradient>
<linearGradient id="g133" gradientUnits="userSpaceOnUse" x1="173.5" x2="698.5"><stop offset="0" stop-color="#00ffd9"/><stop offset="0.2343" stop-color="#00ffc6"/><stop offset="0.3657" stop-color="#00ffaf"/><stop offset="0.4457" stop-color="#00ff94"/><stop offset="0.4762" stop-color="#03ff85"/><stop offset="0.4857" stop-color="#11ff81"/><stop offset="0.5029" stop-color="#32ff7e"/><stop offset="0.5371" stop-color="#5bff79"/><stop offset="0.6095" stop-color="#9cff6c"/><stop offset="0.7352" stop-color="#fafe4e"/><stop offset="0.76" stop-color="#fff142"/><stop offset="0.8381" stop-color="#ffc619"/><stop offset="0.8743" stop-color="#ffb702"/><stop offset="0.9886" stop-color="#ff9800"/><stop offset="1" stop-color="#ff9600"/></linearGradient>
<linearGradient id="g134" gradientUnits="userSpaceOnUse" x1="173.5" x2="700.5"><stop offset="0" stop-color="#00ffd9"/><stop offset="0.2334" stop-color="#00ffc6"/><stop offset="0.3643" stop-color="#00ffb0"/><stop offset="0.444" stop-color="#00ff95"/><stop offset="0.4725" stop-color="#02ff87"/><stop offset="0.482" stop-color="#10ff83"/><stop offset="0.4991" stop-color="#32ff80"/><stop offset="0.5332" stop-color="#5bff7b"/><stop offset="0.6053" stop-color="#9cff6f"/><stop offset="0.7306" stop-color="#fbfe51"/><stop offset="0.759" stop-color="#fe4"/><stop offset="0.8387" stop-color="#ffc31b"/><stop offset="0.8786" stop-color="#ffb302"/><stop offset="0.9981" stop-color="#ff9400"/><stop offset="1" stop-color="#ff9300"/></linearGradient>
<linearGradient id="g135" gradientUnits="userSpaceOnUse" x1="173.5" x2="703.5"><stop offset="0" stop-color="#00ffda"/><stop offset="0.234" stop-color="#00ffc7"/><stop offset="0.3642" stop-color="#00ffb0"/><stop offset="0.4415" stop-color="#00ff97"/><stop offset="0.4679" stop-color="#02ff89"/><stop offset="0.4774" stop-color="#0fff85"/><stop offset="0.4943" stop-color="#31ff82"/><stop offset="0.5264" stop-color="#59ff7e"/><stop offset="0.5962" stop-color="#9aff72"/><stop offset="0.7245" stop-color="#fcfe55"/><stop offset="0.7604" stop-color="#ffe843"/><stop offset="0.8434" stop-color="#ffbd19"/><stop offset="0.8792" stop-color="#ffaf02"/><stop offset="1" stop-color="#ff9100"/></linearGradient>
<linearGradient id="g136" gradientUnits="userSpaceOnUse" x1="174.5" x2="706.5"><stop offset="0" stop-color="#00ffdb"/><stop offset="0.2331" stop-color="#00ffc8"/><stop offset="0.3609" stop-color="#00ffb1"/><stop offset="0.438" stop-color="#00ff98"/><stop offset="0.4643" stop-color="#03ff8b"/><stop offset="0.4737" stop-color="#12ff87"/><stop offset="0.4906" stop-color="#34ff84"/><stop offset="0.5244" stop-color="#5dff7f"/><stop offset="0.5977" stop-color="#a0ff73"/><stop offset="0.718" stop-color="#fcfd58"/><stop offset="0.7726" stop-color="#ffdc3d"/><stop offset="0.8534" stop-color="#ffb513"/><stop offset="0.8816" stop-color="#ffaa02"/><stop offset="1" stop-color="#ff8e00"/></linearGradient>
<linearGradient id="g137" gradientUnits="userSpaceOnUse" x1="174.5" x2="709.5"><stop offset="0" stop-color="#00ffdb"/><stop offset="0.2318" stop-color="#00ffc9"/><stop offset="0.3607" stop-color="#00ffb2"/><stop offset="0.4374" stop-color="#00ff98"/><stop offset="0.4598" stop-color="#03ff8d"/><stop offset="0.4692" stop-color="#12ff89"/><stop offset="0.486" stop-color="#33ff87"/><stop offset="0.5196" stop-color="#5dff82"/><stop offset="0.5907" stop-color="#9fff76"/><stop offset="0.7103" stop-color="#fcfd5b"/><stop offset="0.7514" stop-color="#ffe447"/><stop offset="0.8355" stop-color="#ffb91e"/><stop offset="0.8822" stop-color="#ffa702"/><stop offset="1" stop-color="#ff8b00"/></linearGradient>
<linearGradient id="g138" gradientUnits="userSpaceOnUse" x1="175.5" x2="712.5"><stop offset="0" stop-color="#00ffdc"/><stop offset="0.2309" stop-color="#00ffc9"/><stop offset="0.3575" stop-color="#00ffb3"/><stop offset="0.4339" stop-color="#0f9"/><stop offset="0.4544" stop-color="#02ff8f"/><stop offset="0.4637" stop-color="#11ff8b"/><stop offset="0.4804" stop-color="#33ff89"/><stop offset="0.514" stop-color="#5dff84"/><stop offset="0.5847" stop-color="#9fff79"/><stop offset="0.702" stop-color="#fcfe5f"/><stop offset="0.7374" stop-color="#ffe84e"/><stop offset="0.8175" stop-color="#ffbd28"/><stop offset="0.8678" stop-color="#ffa80a"/><stop offset="0.8901" stop-color="#ffa101"/><stop offset="1" stop-color="#f80"/></linearGradient>
<linearGradient id="g139" gradientUnits="userSpaceOnUse" x1="175.5" x2="714.5"><stop offset="0" stop-color="#00ffdc"/><stop offset="0.2301" stop-color="#00ffca"/><stop offset="0.3562" stop-color="#00ffb4"/><stop offset="0.4323" stop-color="#00ff9a"/><stop offset="0.4508" stop-color="#02ff91"/><stop offset="0.4601" stop-color="#10ff8e"/><stop offset="0.4768" stop-color="#32ff8b"/><stop offset="0.5083" stop-color="#5bff87"/><stop offset="0.5751" stop-color="#9bff7c"/><stop offset="0.6957" stop-color="#fbfe63"/><stop offset="0.7254" stop-color="#ffec54"/><stop offset="0.8015" stop-color="#ffc130"/><stop offset="0.8627" stop-color="#ffa710"/><stop offset="0.8887" stop-color="#ff9e02"/><stop offset="1" stop-color="#ff8600"/></linearGradient>
<linearGradient id="g140" gradientUnits="userSpaceOnUse" x1="175.5" x2="717.5"><stop offset="0" stop-color="#0fd"/><stop offset="0.2306" stop-color="#00ffcb"/><stop offset="0.3561" stop-color="#00ffb5"/><stop offset="0.4317" stop-color="#00ff9b"/><stop offset="0.4483" stop-color="#03ff93"/><stop offset="0.4576" stop-color="#13ff90"/><stop offset="0.4742" stop-color="#35ff8d"/><stop offset="0.5074" stop-color="#5fff89"/><stop offset="0.5775" stop-color="#a2ff7e"/><stop offset="0.69" stop-color="#fcfd66"/><stop offset="0.7288" stop-color="#ffe552"/><stop offset="0.8081" stop-color="#ffba2e"/><stop offset="0.8672" stop-color="#ffa20e"/><stop offset="0.8911" stop-color="#ff9a01"/><stop offset="1" stop-color="#ff8300"/></linearGradient>
<linearGradient id="g141" gradientUnits="userSpaceOnUse" x1="176.5" x2="720.5"><stop offset="0" stop-color="#00ffde"/><stop offset="0.2298" stop-color="#00ffcb"/><stop offset="0.3548" stop-color="#00ffb5"/><stop offset="0.4283" stop-color="#00ff9c"/><stop offset="0.443" stop-color="#03ff95"/><stop offset="0.4522" stop-color="#12ff92"/><stop offset="0.4688" stop-color="#34ff8f"/><stop offset="0.5018" stop-color="#5fff8b"/><stop offset="0.5717" stop-color="#a2ff80"/><stop offset="0.682" stop-color="#fcfe6a"/><stop offset="0.7151" stop-color="#ffe959"/><stop offset="0.7923" stop-color="#ffbd35"/><stop offset="0.864" stop-color="#ffa011"/><stop offset="0.8915" stop-color="#ff9701"/><stop offset="1" stop-color="#ff8100"/></linearGradient>
<linearGradient id="g142" gradientUnits="userSpaceOnUse" x1="176.5" x2="723.5"><stop offset="0" stop-color="#00ffde"/><stop offset="0.2285" stop-color="#0fc"/><stop offset="0.3528" stop-color="#00ffb7"/><stop offset="0.426" stop-color="#00ff9d"/><stop offset="0.4406" stop-color="#04ff97"/><stop offset="0.4516" stop-color="#1aff93"/><stop offset="0.468" stop-color="#39ff91"/><stop offset="0.5046" stop-color="#67ff8c"/><stop offset="0.5832" stop-color="#b1ff80"/><stop offset="0.6764" stop-color="#fcfd6c"/><stop offset="0.7239" stop-color="#ffde54"/><stop offset="0.8062" stop-color="#ffb32f"/><stop offset="0.8684" stop-color="#ff9b0f"/><stop offset="0.894" stop-color="#ff9301"/><stop offset="1" stop-color="#ff7e00"/></linearGradient>
<linearGradient id="g143" gradientUnits="userSpaceOnUse" x1="176.5" x2="725.5"><stop offset="0" stop-color="#00ffdf"/><stop offset="0.2295" stop-color="#00ffcd"/><stop offset="0.3534" stop-color="#00ffb7"/><stop offset="0.4262" stop-color="#00ff9e"/><stop offset="0.4372" stop-color="#04ff99"/><stop offset="0.4463" stop-color="#15ff96"/><stop offset="0.4608" stop-color="#33ff94"/><stop offset="0.4918" stop-color="#5dff90"/><stop offset="0.5574" stop-color="#9eff86"/><stop offset="0.6703" stop-color="#fcfd70"/><stop offset="0.7086" stop-color="#ffe45c"/><stop offset="0.7869" stop-color="#ffb938"/><stop offset="0.867" stop-color="#ff9912"/><stop offset="0.8962" stop-color="#ff9001"/><stop offset="1" stop-color="#ff7c00"/></linearGradient>
<linearGradient id="g144" gradientUnits="userSpaceOnUse" x1="177.5" x2="728.5"><stop offset="0" stop-color="#00ffdf"/><stop offset="0.2287" stop-color="#00ffce"/><stop offset="0.3503" stop-color="#00ffb8"/><stop offset="0.4229" stop-color="#00ff9f"/><stop offset="0.4338" stop-color="#05ff9a"/><stop offset="0.4574" stop-color="#36ff96"/><stop offset="0.49" stop-color="#61ff92"/><stop offset="0.559" stop-color="#a5ff88"/><stop offset="0.6624" stop-color="#fbfe74"/><stop offset="0.6933" stop-color="#ffe964"/><stop offset="0.7677" stop-color="#ffbe40"/><stop offset="0.8657" stop-color="#ff9613"/><stop offset="0.8966" stop-color="#ff8d02"/><stop offset="1" stop-color="#ff7900"/></linearGradient>
<linearGradient id="g145" gradientUnits="userSpaceOnUse" x1="177.5" x2="731.5"><stop offset="0" stop-color="#00ffe0"/><stop offset="0.2274" stop-color="#00ffcf"/><stop offset="0.3484" stop-color="#00ffba"/><stop offset="0.4206" stop-color="#00ffa1"/><stop offset="0.4296" stop-color="#05ff9d"/><stop offset="0.4422" stop-color="#20ff99"/><stop offset="0.4603" stop-color="#41ff97"/><stop offset="0.5018" stop-color="#73ff92"/><stop offset="0.5921" stop-color="#c7ff84"/><stop offset="0.657" stop-color="#fcfd76"/><stop offset="0.7022" stop-color="#ffdf5f"/><stop offset="0.7816" stop-color="#ffb43b"/><stop offset="0.8682" stop-color="#ff9212"/><stop offset="0.8989" stop-color="#ff8901"/><stop offset="1" stop-color="#f70"/></linearGradient>
<linearGradient id="g146" gradientUnits="userSpaceOnUse" x1="178.5" x2="734.5"><stop offset="0" stop-color="#00ffe1"/><stop offset="0.2266" stop-color="#00ffcf"/><stop offset="0.3471" stop-color="#00ffba"/><stop offset="0.4191" stop-color="#01ffa1"/><stop offset="0.4281" stop-color="#0aff9e"/><stop offset="0.446" stop-color="#32ff9b"/><stop offset="0.4748" stop-color="#5aff97"/><stop offset="0.536" stop-color="#9aff8f"/><stop offset="0.6493" stop-color="#fcfd7a"/><stop offset="0.6853" stop-color="#ffe567"/><stop offset="0.759" stop-color="#ffba44"/><stop offset="0.8651" stop-color="#ff9015"/><stop offset="0.8993" stop-color="#ff8602"/><stop offset="1" stop-color="#ff7400"/></linearGradient>
<linearGradient id="g147" gradientUnits="userSpaceOnUse" x1="178.5" x2="737.5"><stop offset="0" stop-color="#00ffe1"/><stop offset="0.2272" stop-color="#00ffd0"/><stop offset="0.347" stop-color="#0fb"/><stop offset="0.4186" stop-color="#02ffa2"/><stop offset="0.4275" stop-color="#11ff9f"/><stop offset="0.4436" stop-color="#34ff9d"/><stop offset="0.4741" stop-color="#5fff99"/><stop offset="0.5385" stop-color="#a1ff90"/><stop offset="0.6422" stop-color="#fbfd7d"/><stop offset="0.6726" stop-color="#ffe96d"/><stop offset="0.7442" stop-color="#ffbe4a"/><stop offset="0.8444" stop-color="#ff9420"/><stop offset="0.9016" stop-color="#ff8201"/><stop offset="1" stop-color="#ff7200"/></linearGradient>
<linearGradient id="g148" gradientUnits="userSpaceOnUse" x1="178.5" x2="739.5"><stop offset="0" stop-color="#00ffe2"/><stop offset="0.2282" stop-color="#00ffd1"/><stop offset="0.3476" stop-color="#00ffbc"/><stop offset="0.4153" stop-color="#02ffa4"/><stop offset="0.4242" stop-color="#10ffa1"/><stop offset="0.4403" stop-color="#34ff9f"/><stop offset="0.4706" stop-color="#5eff9b"/><stop offset="0.5348" stop-color="#a1ff93"/><stop offset="0.6381" stop-color="#fcfd80"/><stop offset="0.6809" stop-color="#ffdf69"/><stop offset="0.7576" stop-color="#ffb445"/><stop offset="0.8663" stop-color="#ff8a17"/><stop offset="0.9037" stop-color="#ff7f02"/><stop offset="1" stop-color="#ff6f00"/></linearGradient>
<linearGradient id="g149" gradientUnits="userSpaceOnUse" x1="179.5" x2="742.5"><stop offset="0" stop-color="#00ffe3"/><stop offset="0.2274" stop-color="#00ffd2"/><stop offset="0.3446" stop-color="#00ffbd"/><stop offset="0.4103" stop-color="#02ffa7"/><stop offset="0.4174" stop-color="#0bffa4"/><stop offset="0.4352" stop-color="#33ffa1"/><stop offset="0.4636" stop-color="#5cff9e"/><stop offset="0.5258" stop-color="#9eff96"/><stop offset="0.6306" stop-color="#fcfd84"/><stop offset="0.6643" stop-color="#ffe671"/><stop offset="0.7353" stop-color="#ffbb4e"/><stop offset="0.8366" stop-color="#ff9125"/><stop offset="0.8881" stop-color="#ff8009"/><stop offset="0.9112" stop-color="#ff7b01"/><stop offset="1" stop-color="#ff6d00"/></linearGradient>
<linearGradient id="g150" gradientUnits="userSpaceOnUse" x1="179.5" x2="745.5"><stop offset="0" stop-color="#00ffe3"/><stop offset="0.2261" stop-color="#00ffd3"/><stop offset="0.3445" stop-color="#00ffbe"/><stop offset="0.4064" stop-color="#02ffa9"/><stop offset="0.4134" stop-color="#0affa6"/><stop offset="0.4311" stop-color="#33ffa4"/><stop offset="0.4594" stop-color="#5cffa1"/><stop offset="0.5194" stop-color="#9dff99"/><stop offset="0.6237" stop-color="#fbfd87"/><stop offset="0.6519" stop-color="#ffea77"/><stop offset="0.7208" stop-color="#ffbe55"/><stop offset="0.818" stop-color="#ff942d"/><stop offset="0.8816" stop-color="#ff7f0f"/><stop offset="0.9081" stop-color="#ff7901"/><stop offset="1" stop-color="#ff6a00"/></linearGradient>
<linearGradient id="g151" gradientUnits="userSpaceOnUse" x1="180.5" x2="748.5"><stop offset="0" stop-color="#00ffe4"/><stop offset="0.2271" stop-color="#00ffd3"/><stop offset="0.3433" stop-color="#00ffbf"/><stop offset="0.4014" stop-color="#01ffab"/><stop offset="0.4085" stop-color="#0affa9"/><stop offset="0.4278" stop-color="#36ffa6"/><stop offset="0.4577" stop-color="#60ffa3"/><stop offset="0.5211" stop-color="#a4ff9b"/><stop offset="0.618" stop-color="#fcfd8a"/><stop offset="0.6585" stop-color="#ffe073"/><stop offset="0.7324" stop-color="#ffb44f"/><stop offset="0.8363" stop-color="#ff8b26"/><stop offset="0.8891" stop-color="#ff7a0a"/><stop offset="0.912" stop-color="#ff7501"/><stop offset="1" stop-color="#ff6800"/></linearGradient>
<linearGradient id="g152" gradientUnits="userSpaceOnUse" x1="180.5" x2="750.5"><stop offset="0" stop-color="#00ffe5"/><stop offset="0.2263" stop-color="#00ffd4"/><stop offset="0.3421" stop-color="#00ffc0"/><stop offset="0.4" stop-color="#02ffad"/><stop offset="0.407" stop-color="#0cffab"/><stop offset="0.4246" stop-color="#35ffa8"/><stop offset="0.4544" stop-color="#60ffa5"/><stop offset="0.5175" stop-color="#a5ff9d"/><stop offset="0.6123" stop-color="#fcfd8d"/><stop offset="0.6439" stop-color="#ffe67b"/><stop offset="0.7123" stop-color="#ffbb58"/><stop offset="0.8088" stop-color="#ff9231"/><stop offset="0.8842" stop-color="#ff790f"/><stop offset="0.9123" stop-color="#ff7201"/><stop offset="1" stop-color="#f60"/></linearGradient>
<linearGradient id="g153" gradientUnits="userSpaceOnUse" x1="180.5" x2="753.5"><stop offset="0" stop-color="#00ffe5"/><stop offset="0.2269" stop-color="#00ffd5"/><stop offset="0.3421" stop-color="#00ffc1"/><stop offset="0.3962" stop-color="#02ffaf"/><stop offset="0.4031" stop-color="#0cffad"/><stop offset="0.4206" stop-color="#35ffab"/><stop offset="0.4485" stop-color="#5effa8"/><stop offset="0.5079" stop-color="#a0ffa1"/><stop offset="0.6056" stop-color="#fbfd91"/><stop offset="0.6335" stop-color="#ffe981"/><stop offset="0.6998" stop-color="#ffbe5e"/><stop offset="0.7941" stop-color="#ff9437"/><stop offset="0.8831" stop-color="#f71"/><stop offset="0.9127" stop-color="#ff6f01"/><stop offset="1" stop-color="#ff6300"/></linearGradient>
<linearGradient id="g154" gradientUnits="userSpaceOnUse" x1="181.5" x2="756.5"><stop offset="0" stop-color="#00ffe6"/><stop offset="0.2261" stop-color="#00ffd6"/><stop offset="0.3409" stop-color="#00ffc2"/><stop offset="0.3913" stop-color="#02ffb2"/><stop offset="0.3983" stop-color="#0bffaf"/><stop offset="0.4157" stop-color="#34ffad"/><stop offset="0.4435" stop-color="#5effaa"/><stop offset="0.5026" stop-color="#a0ffa3"/><stop offset="0.5983" stop-color="#fbfe94"/><stop offset="0.6226" stop-color="#ffec86"/><stop offset="0.687" stop-color="#ffc163"/><stop offset="0.7774" stop-color="#ff973d"/><stop offset="0.8817" stop-color="#ff7412"/><stop offset="0.913" stop-color="#ff6d01"/><stop offset="1" stop-color="#ff6100"/></linearGradient>
<linearGradient id="g155" gradientUnits="userSpaceOnUse" x1="181.5" x2="759.5"><stop offset="0" stop-color="#00ffe7"/><stop offset="0.2266" stop-color="#00ffd7"/><stop offset="0.3408" stop-color="#00ffc3"/><stop offset="0.3875" stop-color="#01ffb4"/><stop offset="0.3945" stop-color="#0affb2"/><stop offset="0.4118" stop-color="#33ffaf"/><stop offset="0.4394" stop-color="#5effad"/><stop offset="0.4983" stop-color="#a1ffa6"/><stop offset="0.5934" stop-color="#fcfd97"/><stop offset="0.6246" stop-color="#ffe684"/><stop offset="0.6903" stop-color="#ffbb61"/><stop offset="0.7837" stop-color="#ff913b"/><stop offset="0.8841" stop-color="#ff7112"/><stop offset="0.9152" stop-color="#ff6901"/><stop offset="1" stop-color="#ff5e00"/></linearGradient>
<linearGradient id="g156" gradientUnits="userSpaceOnUse" x1="182.5" x2="762.5"><stop offset="0" stop-color="#00ffe7"/><stop offset="0.2259" stop-color="#00ffd8"/><stop offset="0.3397" stop-color="#00ffc4"/><stop offset="0.3845" stop-color="#02ffb6"/><stop offset="0.3914" stop-color="#0dffb4"/><stop offset="0.4069" stop-color="#33ffb2"/><stop offset="0.4328" stop-color="#5cffaf"/><stop offset="0.4879" stop-color="#9cffa9"/><stop offset="0.5862" stop-color="#fbfd9b"/><stop offset="0.6121" stop-color="#ffea8b"/><stop offset="0.6759" stop-color="#ffbf68"/><stop offset="0.7655" stop-color="#ff9542"/><stop offset="0.8828" stop-color="#ff6e13"/><stop offset="0.9155" stop-color="#ff6701"/><stop offset="1" stop-color="#ff5c00"/></linearGradient>
<linearGradient id="g157" gradientUnits="userSpaceOnUse" x1="182.5" x2="764.5"><stop offset="0" stop-color="#00ffe8"/><stop offset="0.2268" stop-color="#00ffd9"/><stop offset="0.3385" stop-color="#00ffc6"/><stop offset="0.3814" stop-color="#02ffb8"/><stop offset="0.3883" stop-color="#0cffb6"/><stop offset="0.4055" stop-color="#36ffb4"/><stop offset="0.433" stop-color="#60ffb1"/><stop offset="0.4914" stop-color="#a3ffab"/><stop offset="0.5808" stop-color="#fbfe9e"/><stop offset="0.6048" stop-color="#ffec8f"/><stop offset="0.6667" stop-color="#ffc16c"/><stop offset="0.7543" stop-color="#ff9747"/><stop offset="0.8832" stop-color="#ff6c14"/><stop offset="0.9192" stop-color="#ff6401"/><stop offset="1" stop-color="#ff5a00"/></linearGradient>
<linearGradient id="g158" gradientUnits="userSpaceOnUse" x1="183.5" x2="767.5"><stop offset="0" stop-color="#00ffe9"/><stop offset="0.2277" stop-color="#00ffd9"/><stop offset="0.339" stop-color="#00ffc6"/><stop offset="0.3767" stop-color="#02ffbb"/><stop offset="0.3836" stop-color="#0bffb9"/><stop offset="0.4007" stop-color="#35ffb6"/><stop offset="0.4281" stop-color="#60ffb4"/><stop offset="0.4863" stop-color="#a4ffae"/><stop offset="0.5753" stop-color="#fcfda1"/><stop offset="0.6045" stop-color="#ffe78e"/><stop offset="0.6678" stop-color="#ffbc6b"/><stop offset="0.7586" stop-color="#ff9145"/><stop offset="0.887" stop-color="#ff6813"/><stop offset="0.9195" stop-color="#ff6101"/><stop offset="1" stop-color="#ff5700"/></linearGradient>
<linearGradient id="g159" gradientUnits="userSpaceOnUse" x1="183.5" x2="770.5"><stop offset="0" stop-color="#00ffe9"/><stop offset="0.2283" stop-color="#00ffda"/><stop offset="0.339" stop-color="#00ffc8"/><stop offset="0.3731" stop-color="#02ffbd"/><stop offset="0.3799" stop-color="#0affbb"/><stop offset="0.3969" stop-color="#35ffb9"/><stop offset="0.4242" stop-color="#60ffb6"/><stop offset="0.4821" stop-color="#a4ffb0"/><stop offset="0.569" stop-color="#fbfda4"/><stop offset="0.5945" stop-color="#ffea94"/><stop offset="0.6559" stop-color="#ffbf70"/><stop offset="0.7428" stop-color="#ff944b"/><stop offset="0.8705" stop-color="#ff6a1b"/><stop offset="0.9216" stop-color="#ff5e01"/><stop offset="1" stop-color="#f50"/></linearGradient>
<linearGradient id="g160" gradientUnits="userSpaceOnUse" x1="184.5" x2="773.5"><stop offset="0" stop-color="#00ffea"/><stop offset="0.2275" stop-color="#00ffdb"/><stop offset="0.3379" stop-color="#00ffc9"/><stop offset="0.3701" stop-color="#02ffbf"/><stop offset="0.3769" stop-color="#0dffbd"/><stop offset="0.3922" stop-color="#34ffbb"/><stop offset="0.4177" stop-color="#5effb9"/><stop offset="0.472" stop-color="#9fffb4"/><stop offset="0.562" stop-color="#fbfda8"/><stop offset="0.584" stop-color="#ffed9a"/><stop offset="0.6435" stop-color="#ffc276"/><stop offset="0.7267" stop-color="#ff9851"/><stop offset="0.8489" stop-color="#ff6d24"/><stop offset="0.9032" stop-color="#ff5e0a"/><stop offset="0.927" stop-color="#ff5a01"/><stop offset="1" stop-color="#ff5200"/></linearGradient>
<linearGradient id="g161" gradientUnits="userSpaceOnUse" x1="184.5" x2="775.5"><stop offset="0" stop-color="#00ffeb"/><stop offset="0.2301" stop-color="#00ffdc"/><stop offset="0.3384" stop-color="#00ffca"/><stop offset="0.3672" stop-color="#02ffc1"/><stop offset="0.3739" stop-color="#0dffc0"/><stop offset="0.3892" stop-color="#34ffbe"/><stop offset="0.4146" stop-color="#5effbc"/><stop offset="0.4687" stop-color="#a0ffb6"/><stop offset="0.5567" stop-color="#fafeab"/><stop offset="0.577" stop-color="#ffef9e"/><stop offset="0.6345" stop-color="#ffc47b"/><stop offset="0.7157" stop-color="#ff9a55"/><stop offset="0.8359" stop-color="#ff6f2a"/><stop offset="0.9002" stop-color="#ff5d0e"/><stop offset="0.9272" stop-color="#ff5801"/><stop offset="1" stop-color="#ff5000"/></linearGradient>
<linearGradient id="g162" gradientUnits="userSpaceOnUse" x1="184.5" x2="778.5"><stop offset="0" stop-color="#00ffec"/><stop offset="0.2306" stop-color="#0fd"/><stop offset="0.3384" stop-color="#00ffcb"/><stop offset="0.3636" stop-color="#02ffc4"/><stop offset="0.3704" stop-color="#0cffc2"/><stop offset="0.3872" stop-color="#37ffc0"/><stop offset="0.4141" stop-color="#62ffbe"/><stop offset="0.4714" stop-color="#a8ffb9"/><stop offset="0.5522" stop-color="#fbfdae"/><stop offset="0.5758" stop-color="#ffeb9e"/><stop offset="0.6347" stop-color="#ffbf7a"/><stop offset="0.7172" stop-color="#ff9655"/><stop offset="0.8401" stop-color="#ff6b28"/><stop offset="0.9024" stop-color="#ff5a0d"/><stop offset="0.9293" stop-color="#ff5501"/><stop offset="1" stop-color="#ff4d00"/></linearGradient>
<linearGradient id="g163" gradientUnits="userSpaceOnUse" x1="185.5" x2="781.5"><stop offset="0" stop-color="#00ffec"/><stop offset="0.2315" stop-color="#00ffde"/><stop offset="0.3389" stop-color="#0fc"/><stop offset="0.3607" stop-color="#03ffc6"/><stop offset="0.3674" stop-color="#0fffc4"/><stop offset="0.3826" stop-color="#36ffc3"/><stop offset="0.4077" stop-color="#60ffc1"/><stop offset="0.4614" stop-color="#a2ffbc"/><stop offset="0.5453" stop-color="#fbfdb1"/><stop offset="0.5671" stop-color="#ffeca3"/><stop offset="0.6242" stop-color="#ffc17f"/><stop offset="0.7047" stop-color="#ff9759"/><stop offset="0.8238" stop-color="#ff6d2e"/><stop offset="0.901" stop-color="#ff570e"/><stop offset="0.9295" stop-color="#ff5201"/><stop offset="1" stop-color="#ff4b00"/></linearGradient>
<linearGradient id="g164" gradientUnits="userSpaceOnUse" x1="185.5" x2="784.5"><stop offset="0" stop-color="#00ffed"/><stop offset="0.2321" stop-color="#00ffdf"/><stop offset="0.3389" stop-color="#00ffce"/><stop offset="0.3573" stop-color="#03ffc8"/><stop offset="0.3639" stop-color="#0effc7"/><stop offset="0.379" stop-color="#35ffc5"/><stop offset="0.404" stop-color="#60ffc3"/><stop offset="0.4574" stop-color="#a3ffbf"/><stop offset="0.5392" stop-color="#fafeb5"/><stop offset="0.5593" stop-color="#ffeea8"/><stop offset="0.6144" stop-color="#ffc483"/><stop offset="0.6928" stop-color="#ff995e"/><stop offset="0.808" stop-color="#ff6f34"/><stop offset="0.8982" stop-color="#f51"/><stop offset="0.9299" stop-color="#ff4f01"/><stop offset="1" stop-color="#ff4800"/></linearGradient>
<linearGradient id="g165" gradientUnits="userSpaceOnUse" x1="186.5" x2="786.5"><stop offset="0" stop-color="#0fe"/><stop offset="0.2333" stop-color="#00ffe0"/><stop offset="0.3383" stop-color="#00ffcf"/><stop offset="0.3533" stop-color="#02ffcb"/><stop offset="0.36" stop-color="#0dffc9"/><stop offset="0.375" stop-color="#35ffc8"/><stop offset="0.4" stop-color="#60ffc6"/><stop offset="0.4533" stop-color="#a3ffc2"/><stop offset="0.535" stop-color="#fbfdb8"/><stop offset="0.5583" stop-color="#ffeaa7"/><stop offset="0.615" stop-color="#ffbf83"/><stop offset="0.695" stop-color="#ff955d"/><stop offset="0.8133" stop-color="#ff6b32"/><stop offset="0.9017" stop-color="#ff5210"/><stop offset="0.9317" stop-color="#ff4c01"/><stop offset="1" stop-color="#ff4600"/></linearGradient>
<linearGradient id="g166" gradientUnits="userSpaceOnUse" x1="186.5" x2="789.5"><stop offset="0" stop-color="#00ffef"/><stop offset="0.2338" stop-color="#00ffe1"/><stop offset="0.3383" stop-color="#00ffd1"/><stop offset="0.3516" stop-color="#03ffcd"/><stop offset="0.3582" stop-color="#1fc"/><stop offset="0.3731" stop-color="#38ffca"/><stop offset="0.3997" stop-color="#64ffc8"/><stop offset="0.4561" stop-color="#acffc4"/><stop offset="0.529" stop-color="#fbfdbb"/><stop offset="0.5506" stop-color="#ffecac"/><stop offset="0.6053" stop-color="#ffc187"/><stop offset="0.6833" stop-color="#ff9762"/><stop offset="0.7977" stop-color="#ff6d38"/><stop offset="0.9005" stop-color="#ff5011"/><stop offset="0.9337" stop-color="#ff4901"/><stop offset="1" stop-color="#f40"/></linearGradient>
<linearGradient id="g167" gradientUnits="userSpaceOnUse" x1="187.5" x2="792.5"><stop offset="0" stop-color="#00ffef"/><stop offset="0.2364" stop-color="#00ffe2"/><stop offset="0.3388" stop-color="#00ffd2"/><stop offset="0.3488" stop-color="#05ffcf"/><stop offset="0.357" stop-color="#19ffce"/><stop offset="0.3702" stop-color="#3bffcd"/><stop offset="0.3983" stop-color="#69ffcb"/><stop offset="0.4579" stop-color="#b4ffc6"/><stop offset="0.524" stop-color="#fbfdbe"/><stop offset="0.5488" stop-color="#ffe8ac"/><stop offset="0.605" stop-color="#ffbd87"/><stop offset="0.6843" stop-color="#ff9361"/><stop offset="0.8033" stop-color="#ff6836"/><stop offset="0.9025" stop-color="#ff4d11"/><stop offset="0.9339" stop-color="#ff4701"/><stop offset="1" stop-color="#ff4100"/></linearGradient>
<linearGradient id="g168" gradientUnits="userSpaceOnUse" x1="187.5" x2="795.5"><stop offset="0" stop-color="#00fff0"/><stop offset="0.2368" stop-color="#00ffe4"/><stop offset="0.3405" stop-color="#01ffd3"/><stop offset="0.347" stop-color="#07ffd1"/><stop offset="0.3668" stop-color="#3affcf"/><stop offset="0.3931" stop-color="#67ffce"/><stop offset="0.449" stop-color="#afffca"/><stop offset="0.5181" stop-color="#fbfdc2"/><stop offset="0.5395" stop-color="#ffebb2"/><stop offset="0.5938" stop-color="#ffc08c"/><stop offset="0.6711" stop-color="#ff9666"/><stop offset="0.7845" stop-color="#ff6b3c"/><stop offset="0.9013" stop-color="#ff4a12"/><stop offset="0.9359" stop-color="#ff4401"/><stop offset="1" stop-color="#ff3e00"/></linearGradient>
<linearGradient id="g169" gradientUnits="userSpaceOnUse" x1="188.5" x2="798.5"><stop offset="0" stop-color="#00fff1"/><stop offset="0.2393" stop-color="#00ffe5"/><stop offset="0.3377" stop-color="#01ffd5"/><stop offset="0.3443" stop-color="#0affd4"/><stop offset="0.3607" stop-color="#36ffd2"/><stop offset="0.3852" stop-color="#62ffd1"/><stop offset="0.4377" stop-color="#a7ffcd"/><stop offset="0.5115" stop-color="#fafdc5"/><stop offset="0.5311" stop-color="#ffedb7"/><stop offset="0.5836" stop-color="#ffc291"/><stop offset="0.6574" stop-color="#ff986b"/><stop offset="0.7672" stop-color="#ff6e42"/><stop offset="0.9016" stop-color="#ff4812"/><stop offset="0.9361" stop-color="#ff4101"/><stop offset="1" stop-color="#ff3c00"/></linearGradient>
<linearGradient id="g170" gradientUnits="userSpaceOnUse" x1="188.5" x2="800.5"><stop offset="0" stop-color="#00fff2"/><stop offset="0.2418" stop-color="#00ffe6"/><stop offset="0.3366" stop-color="#02ffd7"/><stop offset="0.3431" stop-color="#0dffd6"/><stop offset="0.3578" stop-color="#36ffd5"/><stop offset="0.3807" stop-color="#5fffd3"/><stop offset="0.4297" stop-color="#a2ffd0"/><stop offset="0.5065" stop-color="#fafec9"/><stop offset="0.5245" stop-color="#ffefbc"/><stop offset="0.5768" stop-color="#ffc395"/><stop offset="0.6503" stop-color="#ff996f"/><stop offset="0.7582" stop-color="#ff6e46"/><stop offset="0.9036" stop-color="#ff4512"/><stop offset="0.9395" stop-color="#ff3e01"/><stop offset="1" stop-color="#ff3900"/></linearGradient>
<linearGradient id="g171" gradientUnits="userSpaceOnUse" x1="189.5" x2="803.5"><stop offset="0" stop-color="#00fff3"/><stop offset="0.2443" stop-color="#00ffe7"/><stop offset="0.3322" stop-color="#02ffda"/><stop offset="0.3388" stop-color="#0cffd9"/><stop offset="0.355" stop-color="#39ffd7"/><stop offset="0.3795" stop-color="#64ffd6"/><stop offset="0.4316" stop-color="#aaffd3"/><stop offset="0.5016" stop-color="#fbfdcc"/><stop offset="0.5228" stop-color="#ffebbb"/><stop offset="0.5749" stop-color="#ffc095"/><stop offset="0.6498" stop-color="#ff956e"/><stop offset="0.759" stop-color="#ff6b45"/><stop offset="0.9039" stop-color="#ff4213"/><stop offset="0.9397" stop-color="#ff3b01"/><stop offset="1" stop-color="#ff3700"/></linearGradient>
<linearGradient id="g172" gradientUnits="userSpaceOnUse" x1="189.5" x2="806.5"><stop offset="0" stop-color="#00fff3"/><stop offset="0.2464" stop-color="#00ffe8"/><stop offset="0.329" stop-color="#02ffdc"/><stop offset="0.3355" stop-color="#0bffdb"/><stop offset="0.3517" stop-color="#38ffda"/><stop offset="0.376" stop-color="#64ffd9"/><stop offset="0.4279" stop-color="#abffd6"/><stop offset="0.4959" stop-color="#fafdd0"/><stop offset="0.5154" stop-color="#ffedc0"/><stop offset="0.5673" stop-color="#ffc199"/><stop offset="0.6402" stop-color="#ff9772"/><stop offset="0.7472" stop-color="#ff6c49"/><stop offset="0.9044" stop-color="#ff3f13"/><stop offset="0.9417" stop-color="#ff3801"/><stop offset="1" stop-color="#ff3400"/></linearGradient>
<linearGradient id="g173" gradientUnits="userSpaceOnUse" x1="190.5" x2="809.5"><stop offset="0" stop-color="#00fff4"/><stop offset="0.2488" stop-color="#00ffe9"/><stop offset="0.3247" stop-color="#01ffdf"/><stop offset="0.3312" stop-color="#0affde"/><stop offset="0.3473" stop-color="#38ffdd"/><stop offset="0.3716" stop-color="#64ffdc"/><stop offset="0.4233" stop-color="#abffd9"/><stop offset="0.4895" stop-color="#fafdd3"/><stop offset="0.5073" stop-color="#ffefc6"/><stop offset="0.5574" stop-color="#ffc39e"/><stop offset="0.6268" stop-color="#ff9978"/><stop offset="0.7302" stop-color="#ff6f4f"/><stop offset="0.9047" stop-color="#ff3c13"/><stop offset="0.9418" stop-color="#ff3501"/><stop offset="1" stop-color="#ff3100"/></linearGradient>
<linearGradient id="g174" gradientUnits="userSpaceOnUse" x1="190.5" x2="811.5"><stop offset="0" stop-color="#00fff5"/><stop offset="0.2544" stop-color="#00ffea"/><stop offset="0.3237" stop-color="#02ffe1"/><stop offset="0.3301" stop-color="#0dffe1"/><stop offset="0.3446" stop-color="#37ffe0"/><stop offset="0.3671" stop-color="#62ffdf"/><stop offset="0.4155" stop-color="#a6ffdc"/><stop offset="0.4863" stop-color="#fbfdd6"/><stop offset="0.5072" stop-color="#ffeac5"/><stop offset="0.5588" stop-color="#ffbf9d"/><stop offset="0.6312" stop-color="#ff9476"/><stop offset="0.7375" stop-color="#ff6a4c"/><stop offset="0.9082" stop-color="#ff3913"/><stop offset="0.9452" stop-color="#ff3101"/><stop offset="1" stop-color="#ff2e00"/></linearGradient>
<linearGradient id="g175" gradientUnits="userSpaceOnUse" x1="191.5" x2="814.5"><stop offset="0" stop-color="#00fff6"/><stop offset="0.2568" stop-color="#00ffec"/><stop offset="0.3194" stop-color="#02ffe4"/><stop offset="0.3258" stop-color="#0dffe3"/><stop offset="0.3419" stop-color="#3affe2"/><stop offset="0.366" stop-color="#67ffe1"/><stop offset="0.4173" stop-color="#afffdf"/><stop offset="0.4799" stop-color="#fafdda"/><stop offset="0.4992" stop-color="#ffecca"/><stop offset="0.549" stop-color="#ffc1a2"/><stop offset="0.6196" stop-color="#ff967b"/><stop offset="0.7223" stop-color="#ff6c51"/><stop offset="0.9069" stop-color="#ff3614"/><stop offset="0.9454" stop-color="#ff2e01"/><stop offset="1" stop-color="#ff2b00"/></linearGradient>
<linearGradient id="g176" gradientUnits="userSpaceOnUse" x1="191.5" x2="817.5"><stop offset="0" stop-color="#00fff7"/><stop offset="0.262" stop-color="#00ffed"/><stop offset="0.3163" stop-color="#02ffe7"/><stop offset="0.3227" stop-color="#0cffe6"/><stop offset="0.3387" stop-color="#3affe5"/><stop offset="0.3626" stop-color="#67ffe4"/><stop offset="0.4137" stop-color="#afffe2"/><stop offset="0.4744" stop-color="#fafdde"/><stop offset="0.492" stop-color="#ffeecf"/><stop offset="0.5399" stop-color="#ffc3a7"/><stop offset="0.607" stop-color="#ff9980"/><stop offset="0.7061" stop-color="#ff6f57"/><stop offset="0.877" stop-color="#ff3b1f"/><stop offset="0.9297" stop-color="#ff2e08"/><stop offset="0.9537" stop-color="#ff2b00"/><stop offset="1" stop-color="#ff2800"/></linearGradient>
<linearGradient id="g177" gradientUnits="userSpaceOnUse" x1="192.5" x2="820.5"><stop offset="0" stop-color="#00fff8"/><stop offset="0.2675" stop-color="#0fe"/><stop offset="0.3121" stop-color="#02ffea"/><stop offset="0.3185" stop-color="#0bffe9"/><stop offset="0.3344" stop-color="#39ffe8"/><stop offset="0.3567" stop-color="#64ffe7"/><stop offset="0.4045" stop-color="#aaffe6"/><stop offset="0.4697" stop-color="#fbfde1"/><stop offset="0.4889" stop-color="#ffebd0"/><stop offset="0.5366" stop-color="#ffc1a8"/><stop offset="0.6051" stop-color="#ff9680"/><stop offset="0.7054" stop-color="#ff6c57"/><stop offset="0.8854" stop-color="#ff361d"/><stop offset="0.949" stop-color="#ff2801"/><stop offset="1" stop-color="#ff2500"/></linearGradient>
<linearGradient id="g178" gradientUnits="userSpaceOnUse" x1="192.5" x2="823.5"><stop offset="0" stop-color="#00fff9"/><stop offset="0.2742" stop-color="#00fff0"/><stop offset="0.3106" stop-color="#02ffec"/><stop offset="0.317" stop-color="#0effeb"/><stop offset="0.3312" stop-color="#39ffeb"/><stop offset="0.3534" stop-color="#64ffea"/><stop offset="0.401" stop-color="#aaffe9"/><stop offset="0.4643" stop-color="#fafde5"/><stop offset="0.4818" stop-color="#ffedd6"/><stop offset="0.5293" stop-color="#ffc2ac"/><stop offset="0.5959" stop-color="#ff9884"/><stop offset="0.6941" stop-color="#ff6d5b"/><stop offset="0.8669" stop-color="#ff3823"/><stop offset="0.9271" stop-color="#ff280a"/><stop offset="0.9525" stop-color="#ff2400"/><stop offset="1" stop-color="#f20"/></linearGradient>
<linearGradient id="g179" gradientUnits="userSpaceOnUse" x1="193.5" x2="825.5"><stop offset="0" stop-color="#00fff9"/><stop offset="0.2832" stop-color="#00fff1"/><stop offset="0.307" stop-color="#02ffef"/><stop offset="0.3133" stop-color="#0dffee"/><stop offset="0.3275" stop-color="#38ffee"/><stop offset="0.3497" stop-color="#64ffed"/><stop offset="0.3972" stop-color="#abffec"/><stop offset="0.4589" stop-color="#fafde8"/><stop offset="0.4763" stop-color="#ffeed9"/><stop offset="0.5222" stop-color="#ffc3b1"/><stop offset="0.587" stop-color="#ff9989"/><stop offset="0.682" stop-color="#ff6f5f"/><stop offset="0.8465" stop-color="#ff3b2a"/><stop offset="0.9241" stop-color="#ff260d"/><stop offset="0.9525" stop-color="#ff2001"/><stop offset="1" stop-color="#ff1e00"/></linearGradient>
<linearGradient id="g180" gradientUnits="userSpaceOnUse" x1="193.5" x2="828.5"><stop offset="0" stop-color="#00fffa"/><stop offset="0.2929" stop-color="#00fff2"/><stop offset="0.3055" stop-color="#03fff1"/><stop offset="0.3118" stop-color="#11fff1"/><stop offset="0.3244" stop-color="#38fff1"/><stop offset="0.3449" stop-color="#61fff0"/><stop offset="0.389" stop-color="#a5ffef"/><stop offset="0.4535" stop-color="#f9feec"/><stop offset="0.4693" stop-color="#fff0df"/><stop offset="0.515" stop-color="#ffc4b5"/><stop offset="0.578" stop-color="#ff9a8d"/><stop offset="0.6709" stop-color="#ff7063"/><stop offset="0.8283" stop-color="#ff3e30"/><stop offset="0.9213" stop-color="#ff230f"/><stop offset="0.9528" stop-color="#ff1c01"/><stop offset="1" stop-color="#ff1a00"/></linearGradient>
<linearGradient id="g181" gradientUnits="userSpaceOnUse" x1="194.5" x2="831.5"><stop offset="0" stop-color="#00fffb"/><stop offset="0.2998" stop-color="#02fff4"/><stop offset="0.3061" stop-color="#0bfff4"/><stop offset="0.3218" stop-color="#3bfff4"/><stop offset="0.3438" stop-color="#67fff3"/><stop offset="0.3909" stop-color="#aefff2"/><stop offset="0.449" stop-color="#fafdef"/><stop offset="0.4662" stop-color="#ffede0"/><stop offset="0.5118" stop-color="#ffc2b6"/><stop offset="0.5761" stop-color="#ff978d"/><stop offset="0.6703" stop-color="#ff6d63"/><stop offset="0.8367" stop-color="#ff382e"/><stop offset="0.9246" stop-color="#ff1e0e"/><stop offset="0.9545" stop-color="#ff1801"/><stop offset="1" stop-color="#ff1600"/></linearGradient>
<linearGradient id="g182" gradientUnits="userSpaceOnUse" x1="194.5" x2="834.5"><stop offset="0" stop-color="#00fffc"/><stop offset="0.2969" stop-color="#01fff7"/><stop offset="0.3031" stop-color="#0afff7"/><stop offset="0.3187" stop-color="#3afff7"/><stop offset="0.3406" stop-color="#67fff6"/><stop offset="0.3875" stop-color="#affff6"/><stop offset="0.4437" stop-color="#fafdf3"/><stop offset="0.4594" stop-color="#ffefe5"/><stop offset="0.5031" stop-color="#ffc4bb"/><stop offset="0.5656" stop-color="#ff9a92"/><stop offset="0.6562" stop-color="#ff6f68"/><stop offset="0.8125" stop-color="#ff3c35"/><stop offset="0.9219" stop-color="#ff1b10"/><stop offset="0.9547" stop-color="#ff1301"/><stop offset="1" stop-color="#ff1101"/></linearGradient>
<linearGradient id="g183" gradientUnits="userSpaceOnUse" x1="195.5" x2="837.5"><stop offset="0" stop-color="#00fffd"/><stop offset="0.2928" stop-color="#01fffa"/><stop offset="0.2991" stop-color="#0afffa"/><stop offset="0.3162" stop-color="#3efff9"/><stop offset="0.3396" stop-color="#6cfff9"/><stop offset="0.3894" stop-color="#b8fff9"/><stop offset="0.4393" stop-color="#fafdf7"/><stop offset="0.4564" stop-color="#ffece6"/><stop offset="0.5016" stop-color="#ffc0bb"/><stop offset="0.5639" stop-color="#ff9792"/><stop offset="0.6558" stop-color="#ff6c68"/><stop offset="0.8209" stop-color="#ff3732"/><stop offset="0.9237" stop-color="#ff170f"/><stop offset="0.9533" stop-color="#ff0d02"/><stop offset="1" stop-color="#ff0c02"/></linearGradient>
<linearGradient id="g184" gradientUnits="userSpaceOnUse" x1="195.5" x2="839.5"><stop offset="0" stop-color="#00fffe"/><stop offset="0.2919" stop-color="#02fefc"/><stop offset="0.2981" stop-color="#0dfefc"/><stop offset="0.3137" stop-color="#3dfefc"/><stop offset="0.337" stop-color="#6cfefc"/><stop offset="0.3866" stop-color="#b8fefb"/><stop offset="0.4363" stop-color="#fbfcf9"/><stop offset="0.455" stop-color="#ffe9e6"/><stop offset="0.5" stop-color="#ffbebc"/><stop offset="0.5637" stop-color="#ff9492"/><stop offset="0.6584" stop-color="#ff6967"/><stop offset="0.8416" stop-color="#ff2e2d"/><stop offset="0.9286" stop-color="#ff100e"/><stop offset="0.9534" stop-color="#ff0805"/><stop offset="1" stop-color="#ff0705"/></linearGradient>
<linearGradient id="g185" gradientUnits="userSpaceOnUse" x1="196.5" x2="842.5"><stop offset="0" stop-color="#00fefe"/><stop offset="0.2879" stop-color="#02fdfe"/><stop offset="0.2941" stop-color="#0cfdfe"/><stop offset="0.3096" stop-color="#3cfdfe"/><stop offset="0.3313" stop-color="#69fdfd"/><stop offset="0.3777" stop-color="#b1fcfd"/><stop offset="0.4319" stop-color="#fbfafc"/><stop offset="0.4489" stop-color="#ffe9ea"/><stop offset="0.4938" stop-color="#ffbebf"/><stop offset="0.5573" stop-color="#ff9394"/><stop offset="0.6502" stop-color="#ff686a"/><stop offset="0.822" stop-color="#ff3133"/><stop offset="0.918" stop-color="#ff0f14"/><stop offset="0.9474" stop-color="#ff040a"/><stop offset="1" stop-color="#ff0309"/></linearGradient>
<linearGradient id="g186" gradientUnits="userSpaceOnUse" x1="197.5" x2="845.5"><stop offset="0" stop-color="#00feff"/><stop offset="0.284" stop-color="#01fbff"/><stop offset="0.2901" stop-color="#0bfbfe"/><stop offset="0.3056" stop-color="#3bfbfe"/><stop offset="0.3272" stop-color="#68fafe"/><stop offset="0.3735" stop-color="#b0fafe"/><stop offset="0.429" stop-color="#fbf8fd"/><stop offset="0.4491" stop-color="#ffe2e7"/><stop offset="0.4938" stop-color="#ffb8bd"/><stop offset="0.5586" stop-color="#ff8e93"/><stop offset="0.6543" stop-color="#ff6468"/><stop offset="0.841" stop-color="#ff272d"/><stop offset="0.912" stop-color="#ff0c16"/><stop offset="0.9398" stop-color="#ff010f"/><stop offset="1" stop-color="#ff010e"/></linearGradient>
<linearGradient id="g187" gradientUnits="userSpaceOnUse" x1="197.5" x2="848.5"><stop offset="0" stop-color="#00fdff"/><stop offset="0.2811" stop-color="#01f8ff"/><stop offset="0.2873" stop-color="#0af8ff"/><stop offset="0.3041" stop-color="#3ef8ff"/><stop offset="0.3272" stop-color="#6cf8ff"/><stop offset="0.3763" stop-color="#b8f7ff"/><stop offset="0.427" stop-color="#fcf4fd"/><stop offset="0.4485" stop-color="#ffdee6"/><stop offset="0.4946" stop-color="#ffb4bb"/><stop offset="0.5607" stop-color="#ff8a91"/><stop offset="0.659" stop-color="#ff5f66"/><stop offset="0.8879" stop-color="#ff121f"/><stop offset="0.9278" stop-color="#ff0115"/><stop offset="1" stop-color="#ff0013"/></linearGradient>
<linearGradient id="g188" gradientUnits="userSpaceOnUse" x1="198.5" x2="850.5"><stop offset="0" stop-color="#00fcff"/><stop offset="0.2791" stop-color="#02f6ff"/><stop offset="0.2853" stop-color="#0df5ff"/><stop offset="0.2991" stop-color="#38f5ff"/><stop offset="0.319" stop-color="#63f5ff"/><stop offset="0.362" stop-color="#a7f4ff"/><stop offset="0.4248" stop-color="#fcf1fd"/><stop offset="0.4463" stop-color="#ffdae6"/><stop offset="0.4923" stop-color="#ffb1bc"/><stop offset="0.5583" stop-color="#ff8892"/><stop offset="0.6564" stop-color="#ff5d67"/><stop offset="0.8604" stop-color="#ff1a28"/><stop offset="0.9172" stop-color="#ff011a"/><stop offset="1" stop-color="#ff0017"/></linearGradient>
<linearGradient id="g189" gradientUnits="userSpaceOnUse" x1="198.5" x2="853.5"><stop offset="0" stop-color="#00fbff"/><stop offset="0.2718" stop-color="#00f3ff"/><stop offset="0.2794" stop-color="#05f3ff"/><stop offset="0.287" stop-color="#1af2ff"/><stop offset="0.2977" stop-color="#3bf2ff"/><stop offset="0.3206" stop-color="#69f2ff"/><stop offset="0.3695" stop-color="#b4f0ff"/><stop offset="0.4229" stop-color="#fbedfd"/><stop offset="0.4427" stop-color="#ffd9e9"/><stop offset="0.4885" stop-color="#ffb0be"/><stop offset="0.5542" stop-color="#ff8693"/><stop offset="0.6504" stop-color="#ff5c69"/><stop offset="0.8321" stop-color="#ff2030"/><stop offset="0.9053" stop-color="#ff011e"/><stop offset="1" stop-color="#ff001b"/></linearGradient>
<linearGradient id="g190" gradientUnits="userSpaceOnUse" x1="199.5" x2="856.5"><stop offset="0" stop-color="#00faff"/><stop offset="0.2572" stop-color="#00f2ff"/><stop offset="0.274" stop-color="#03f0ff"/><stop offset="0.2801" stop-color="#0ff0ff"/><stop offset="0.2938" stop-color="#3aefff"/><stop offset="0.3151" stop-color="#66efff"/><stop offset="0.3607" stop-color="#acedff"/><stop offset="0.4201" stop-color="#fbeafe"/><stop offset="0.4384" stop-color="#ffd8eb"/><stop offset="0.484" stop-color="#ffaec0"/><stop offset="0.5479" stop-color="#ff8696"/><stop offset="0.6423" stop-color="#ff5c6b"/><stop offset="0.8113" stop-color="#ff2336"/><stop offset="0.8721" stop-color="#ff0925"/><stop offset="0.8995" stop-color="#ff0021"/><stop offset="1" stop-color="#ff001e"/></linearGradient>
<linearGradient id="g191" gradientUnits="userSpaceOnUse" x1="199.5" x2="859.5"><stop offset="0" stop-color="#00f9ff"/><stop offset="0.2455" stop-color="#00f0ff"/><stop offset="0.2712" stop-color="#02edff"/><stop offset="0.2773" stop-color="#0eedff"/><stop offset="0.2909" stop-color="#39ecff"/><stop offset="0.3121" stop-color="#64ecff"/><stop offset="0.3576" stop-color="#abeaff"/><stop offset="0.4182" stop-color="#fbe6fe"/><stop offset="0.4364" stop-color="#ffd4eb"/><stop offset="0.4818" stop-color="#ffacc0"/><stop offset="0.5455" stop-color="#ff8497"/><stop offset="0.6394" stop-color="#ff5a6c"/><stop offset="0.8061" stop-color="#ff2238"/><stop offset="0.8818" stop-color="#ff0125"/><stop offset="1" stop-color="#ff0021"/></linearGradient>
<linearGradient id="g192" gradientUnits="userSpaceOnUse" x1="200.5" x2="861.5"><stop offset="0" stop-color="#00f8ff"/><stop offset="0.2345" stop-color="#00efff"/><stop offset="0.2678" stop-color="#02ebff"/><stop offset="0.2738" stop-color="#0deaff"/><stop offset="0.2874" stop-color="#37e9ff"/><stop offset="0.3086" stop-color="#63e9ff"/><stop offset="0.354" stop-color="#a9e7ff"/><stop offset="0.4175" stop-color="#fce2fd"/><stop offset="0.4523" stop-color="#ffbfd9"/><stop offset="0.5053" stop-color="#ff97ae"/><stop offset="0.5809" stop-color="#ff6f84"/><stop offset="0.6974" stop-color="#ff4358"/><stop offset="0.8321" stop-color="#ff1331"/><stop offset="0.8699" stop-color="#ff0129"/><stop offset="1" stop-color="#ff0023"/></linearGradient>
<linearGradient id="g193" gradientUnits="userSpaceOnUse" x1="201.5" x2="864.5"><stop offset="0" stop-color="#00f7ff"/><stop offset="0.2247" stop-color="#00edff"/><stop offset="0.264" stop-color="#02e8ff"/><stop offset="0.27" stop-color="#0ce7ff"/><stop offset="0.2851" stop-color="#3ae6ff"/><stop offset="0.3077" stop-color="#67e6ff"/><stop offset="0.356" stop-color="#b0e3ff"/><stop offset="0.4148" stop-color="#fcdefd"/><stop offset="0.4449" stop-color="#ffc1dd"/><stop offset="0.4962" stop-color="#ff99b3"/><stop offset="0.5701" stop-color="#ff7189"/><stop offset="0.6817" stop-color="#ff455d"/><stop offset="0.8205" stop-color="#ff1334"/><stop offset="0.8582" stop-color="#ff012c"/><stop offset="1" stop-color="#ff0026"/></linearGradient>
<linearGradient id="g194" gradientUnits="userSpaceOnUse" x1="201.5" x2="867.5"><stop offset="0" stop-color="#00f6ff"/><stop offset="0.2162" stop-color="#00ecff"/><stop offset="0.2613" stop-color="#02e5ff"/><stop offset="0.2673" stop-color="#0be5ff"/><stop offset="0.2823" stop-color="#39e4ff"/><stop offset="0.3048" stop-color="#66e3ff"/><stop offset="0.3529" stop-color="#aee0ff"/><stop offset="0.4129" stop-color="#fcdbfd"/><stop offset="0.4399" stop-color="#ffc1e1"/><stop offset="0.4895" stop-color="#ff99b7"/><stop offset="0.5601" stop-color="#ff728d"/><stop offset="0.6667" stop-color="#ff4762"/><stop offset="0.8093" stop-color="#ff1337"/><stop offset="0.8468" stop-color="#ff012f"/><stop offset="1" stop-color="#ff0028"/></linearGradient>
<linearGradient id="g195" gradientUnits="userSpaceOnUse" x1="202.5" x2="870.5"><stop offset="0" stop-color="#00f5ff"/><stop offset="0.2081" stop-color="#00eaff"/><stop offset="0.2575" stop-color="#01e3ff"/><stop offset="0.2635" stop-color="#0ae2ff"/><stop offset="0.2784" stop-color="#38e1ff"/><stop offset="0.2994" stop-color="#62e0ff"/><stop offset="0.3443" stop-color="#a7ddff"/><stop offset="0.4102" stop-color="#fcd8fd"/><stop offset="0.4356" stop-color="#ffbfe3"/><stop offset="0.485" stop-color="#ff98b8"/><stop offset="0.5554" stop-color="#ff718f"/><stop offset="0.6602" stop-color="#ff4664"/><stop offset="0.7979" stop-color="#ff133a"/><stop offset="0.8353" stop-color="#ff0133"/><stop offset="1" stop-color="#ff002a"/></linearGradient>
<linearGradient id="g196" gradientUnits="userSpaceOnUse" x1="202.5" x2="873.5"><stop offset="0" stop-color="#00f4ff"/><stop offset="0.2027" stop-color="#00e8ff"/><stop offset="0.2563" stop-color="#02e0ff"/><stop offset="0.2623" stop-color="#0ddfff"/><stop offset="0.2757" stop-color="#37deff"/><stop offset="0.2966" stop-color="#61ddff"/><stop offset="0.3413" stop-color="#a5daff"/><stop offset="0.4083" stop-color="#fcd4fd"/><stop offset="0.4322" stop-color="#ffbee5"/><stop offset="0.4814" stop-color="#ff97ba"/><stop offset="0.5514" stop-color="#ff6f90"/><stop offset="0.6557" stop-color="#ff4565"/><stop offset="0.7869" stop-color="#ff133d"/><stop offset="0.8241" stop-color="#ff0136"/><stop offset="1" stop-color="#ff002c"/></linearGradient>
<linearGradient id="g197" gradientUnits="userSpaceOnUse" x1="203.5" x2="875.5"><stop offset="0" stop-color="#00f3ff"/><stop offset="0.1949" stop-color="#00e7ff"/><stop offset="0.253" stop-color="#02deff"/><stop offset="0.2589" stop-color="#0cddff"/><stop offset="0.2738" stop-color="#39dbff"/><stop offset="0.2961" stop-color="#65daff"/><stop offset="0.3438" stop-color="#acd7ff"/><stop offset="0.4062" stop-color="#fcd1fe"/><stop offset="0.4286" stop-color="#ffbce7"/><stop offset="0.4777" stop-color="#ff95bc"/><stop offset="0.5476" stop-color="#ff6e92"/><stop offset="0.6503" stop-color="#ff4467"/><stop offset="0.7783" stop-color="#ff1340"/><stop offset="0.814" stop-color="#ff0139"/><stop offset="1" stop-color="#ff002e"/></linearGradient>
<linearGradient id="g198" gradientUnits="userSpaceOnUse" x1="203.5" x2="878.5"><stop offset="0" stop-color="#00f2ff"/><stop offset="0.1896" stop-color="#00e6ff"/><stop offset="0.2504" stop-color="#02dbff"/><stop offset="0.2563" stop-color="#0bdaff"/><stop offset="0.2711" stop-color="#38d9ff"/><stop offset="0.2933" stop-color="#64d7ff"/><stop offset="0.3407" stop-color="#aad4ff"/><stop offset="0.4044" stop-color="#fccdfe"/><stop offset="0.4252" stop-color="#ffbbe9"/><stop offset="0.4741" stop-color="#ff94be"/><stop offset="0.5422" stop-color="#ff6d94"/><stop offset="0.643" stop-color="#ff4369"/><stop offset="0.7674" stop-color="#ff1343"/><stop offset="0.803" stop-color="#ff013c"/><stop offset="1" stop-color="#ff0030"/></linearGradient>
<linearGradient id="g199" gradientUnits="userSpaceOnUse" x1="204.5" x2="881.5"><stop offset="0" stop-color="#00f1ff"/><stop offset="0.1846" stop-color="#00e4ff"/><stop offset="0.2467" stop-color="#01d9ff"/><stop offset="0.2526" stop-color="#0ad7ff"/><stop offset="0.2674" stop-color="#37d6ff"/><stop offset="0.2895" stop-color="#63d5ff"/><stop offset="0.3368" stop-color="#a9d1ff"/><stop offset="0.4032" stop-color="#fdc9fd"/><stop offset="0.4549" stop-color="#ff9dcb"/><stop offset="0.517" stop-color="#ff76a0"/><stop offset="0.6071" stop-color="#ff4e76"/><stop offset="0.7518" stop-color="#ff1547"/><stop offset="0.7917" stop-color="#ff013f"/><stop offset="1" stop-color="#ff0032"/></linearGradient>
<linearGradient id="g200" gradientUnits="userSpaceOnUse" x1="205.5" x2="884.5"><stop offset="0" stop-color="#00f0ff"/><stop offset="0.1782" stop-color="#00e3ff"/><stop offset="0.2445" stop-color="#02d6ff"/><stop offset="0.2504" stop-color="#0dd5ff"/><stop offset="0.2636" stop-color="#36d3ff"/><stop offset="0.2842" stop-color="#5fd2ff"/><stop offset="0.3284" stop-color="#a1ceff"/><stop offset="0.4006" stop-color="#fcc6fd"/><stop offset="0.4433" stop-color="#ffa1d3"/><stop offset="0.5022" stop-color="#ff7aa8"/><stop offset="0.5862" stop-color="#ff537e"/><stop offset="0.7172" stop-color="#ff2051"/><stop offset="0.7806" stop-color="#ff0141"/><stop offset="1" stop-color="#f03"/></linearGradient>
<linearGradient id="g201" gradientUnits="userSpaceOnUse" x1="205.5" x2="886.5"><stop offset="0" stop-color="#00efff"/><stop offset="0.1747" stop-color="#00e1ff"/><stop offset="0.2423" stop-color="#02d3ff"/><stop offset="0.2482" stop-color="#0cd2ff"/><stop offset="0.2628" stop-color="#38d1ff"/><stop offset="0.2849" stop-color="#63cfff"/><stop offset="0.3319" stop-color="#a8cbff"/><stop offset="0.3994" stop-color="#fcc3fd"/><stop offset="0.4361" stop-color="#ffa3d9"/><stop offset="0.4919" stop-color="#ff7dae"/><stop offset="0.5727" stop-color="#ff5584"/><stop offset="0.696" stop-color="#ff2558"/><stop offset="0.7518" stop-color="#ff0a48"/><stop offset="0.7783" stop-color="#ff0043"/><stop offset="1" stop-color="#ff0035"/></linearGradient>
<linearGradient id="g202" gradientUnits="userSpaceOnUse" x1="206.5" x2="889.5"><stop offset="0" stop-color="#0ef"/><stop offset="0.1698" stop-color="#00e0ff"/><stop offset="0.2387" stop-color="#02d1ff"/><stop offset="0.2445" stop-color="#0bd0ff"/><stop offset="0.2592" stop-color="#37ceff"/><stop offset="0.2811" stop-color="#62ccff"/><stop offset="0.328" stop-color="#a7c8ff"/><stop offset="0.3968" stop-color="#fcbffd"/><stop offset="0.429" stop-color="#ffa3dd"/><stop offset="0.4832" stop-color="#ff7eb3"/><stop offset="0.5608" stop-color="#ff5789"/><stop offset="0.6779" stop-color="#ff285d"/><stop offset="0.7365" stop-color="#ff0c4c"/><stop offset="0.7628" stop-color="#ff0147"/><stop offset="1" stop-color="#ff0036"/></linearGradient>
<linearGradient id="g203" gradientUnits="userSpaceOnUse" x1="206.5" x2="892.5"><stop offset="0" stop-color="#00edff"/><stop offset="0.1647" stop-color="#00dfff"/><stop offset="0.2362" stop-color="#01cfff"/><stop offset="0.242" stop-color="#0acdff"/><stop offset="0.2566" stop-color="#36cbff"/><stop offset="0.2784" stop-color="#61caff"/><stop offset="0.3251" stop-color="#a5c5ff"/><stop offset="0.395" stop-color="#fcbcfd"/><stop offset="0.4242" stop-color="#ffa3e0"/><stop offset="0.4767" stop-color="#ff7eb6"/><stop offset="0.5525" stop-color="#ff578c"/><stop offset="0.6662" stop-color="#ff2961"/><stop offset="0.7259" stop-color="#ff0c4f"/><stop offset="0.7522" stop-color="#ff014a"/><stop offset="1" stop-color="#ff0038"/></linearGradient>
<linearGradient id="g204" gradientUnits="userSpaceOnUse" x1="207.5" x2="895.5"><stop offset="0" stop-color="#00ebff"/><stop offset="0.1613" stop-color="#0df"/><stop offset="0.234" stop-color="#02ccff"/><stop offset="0.2398" stop-color="#0dcaff"/><stop offset="0.2529" stop-color="#35c9ff"/><stop offset="0.2747" stop-color="#60c7ff"/><stop offset="0.3212" stop-color="#a4c2ff"/><stop offset="0.3924" stop-color="#fcb9fe"/><stop offset="0.4186" stop-color="#ffa3e4"/><stop offset="0.4709" stop-color="#ff7db9"/><stop offset="0.5451" stop-color="#ff578f"/><stop offset="0.6555" stop-color="#ff2a64"/><stop offset="0.7151" stop-color="#ff0c52"/><stop offset="0.7413" stop-color="#ff014c"/><stop offset="1" stop-color="#ff0039"/></linearGradient>
<linearGradient id="g205" gradientUnits="userSpaceOnUse" x1="208.5" x2="898.5"><stop offset="0" stop-color="#00eaff"/><stop offset="0.1565" stop-color="#00dcff"/><stop offset="0.2304" stop-color="#02caff"/><stop offset="0.2362" stop-color="#0cc8ff"/><stop offset="0.2507" stop-color="#37c6ff"/><stop offset="0.2739" stop-color="#64c4ff"/><stop offset="0.3232" stop-color="#aabfff"/><stop offset="0.3913" stop-color="#fdb5fd"/><stop offset="0.4464" stop-color="#ff89c9"/><stop offset="0.5116" stop-color="#ff639f"/><stop offset="0.6058" stop-color="#ff3a75"/><stop offset="0.6957" stop-color="#ff1257"/><stop offset="0.7275" stop-color="#ff0150"/><stop offset="0.9725" stop-color="#ff003c"/><stop offset="1" stop-color="#ff003b"/></linearGradient>
<linearGradient id="g206" gradientUnits="userSpaceOnUse" x1="208.5" x2="900.5"><stop offset="0" stop-color="#00e9ff"/><stop offset="0.1532" stop-color="#00daff"/><stop offset="0.2283" stop-color="#02c7ff"/><stop offset="0.2341" stop-color="#0bc6ff"/><stop offset="0.2486" stop-color="#36c4ff"/><stop offset="0.2702" stop-color="#60c2ff"/><stop offset="0.3165" stop-color="#a3bdff"/><stop offset="0.3902" stop-color="#fdb2fd"/><stop offset="0.4465" stop-color="#ff85c9"/><stop offset="0.5116" stop-color="#ff609f"/><stop offset="0.6069" stop-color="#ff3674"/><stop offset="0.6879" stop-color="#ff115a"/><stop offset="0.7182" stop-color="#ff0153"/><stop offset="0.9538" stop-color="#ff003e"/><stop offset="1" stop-color="#ff003c"/></linearGradient>
<linearGradient id="g207" gradientUnits="userSpaceOnUse" x1="209.5" x2="903.5"><stop offset="0" stop-color="#00e8ff"/><stop offset="0.1499" stop-color="#00d9ff"/><stop offset="0.2248" stop-color="#01c5ff"/><stop offset="0.2305" stop-color="#0ac3ff"/><stop offset="0.245" stop-color="#35c1ff"/><stop offset="0.2666" stop-color="#5fbfff"/><stop offset="0.3127" stop-color="#a2baff"/><stop offset="0.3876" stop-color="#fdaefd"/><stop offset="0.4452" stop-color="#ff82c8"/><stop offset="0.5115" stop-color="#ff5c9e"/><stop offset="0.6081" stop-color="#ff3273"/><stop offset="0.6787" stop-color="#ff115c"/><stop offset="0.7075" stop-color="#ff0155"/><stop offset="0.9337" stop-color="#ff0041"/><stop offset="1" stop-color="#ff003d"/></linearGradient>
<linearGradient id="g208" gradientUnits="userSpaceOnUse" x1="210.5" x2="903.5"><stop offset="0" stop-color="#00e7ff"/><stop offset="0.1472" stop-color="#00d7ff"/><stop offset="0.2208" stop-color="#01c4ff"/><stop offset="0.228" stop-color="#09c1ff"/><stop offset="0.2439" stop-color="#37bfff"/><stop offset="0.267" stop-color="#63bcff"/><stop offset="0.316" stop-color="#a8b7ff"/><stop offset="0.3867" stop-color="#fdabfd"/><stop offset="0.4401" stop-color="#ff82cc"/><stop offset="0.5051" stop-color="#ff5da1"/><stop offset="0.5988" stop-color="#f37"/><stop offset="0.671" stop-color="#ff115f"/><stop offset="0.6999" stop-color="#ff0158"/><stop offset="0.9192" stop-color="#ff0043"/><stop offset="1" stop-color="#ff003f"/></linearGradient>
<linearGradient id="g209" gradientUnits="userSpaceOnUse" x1="210.5" x2="902.5"><stop offset="0" stop-color="#00e6ff"/><stop offset="0.1445" stop-color="#00d6ff"/><stop offset="0.2182" stop-color="#00c2ff"/><stop offset="0.2254" stop-color="#06bfff"/><stop offset="0.2355" stop-color="#23bdff"/><stop offset="0.2486" stop-color="#43bcff"/><stop offset="0.2789" stop-color="#76b8ff"/><stop offset="0.3454" stop-color="#ccb0ff"/><stop offset="0.3887" stop-color="#fda7fd"/><stop offset="0.4436" stop-color="#ff7dca"/><stop offset="0.5101" stop-color="#ff58a0"/><stop offset="0.6069" stop-color="#ff2e75"/><stop offset="0.6691" stop-color="#ff0e61"/><stop offset="0.6951" stop-color="#ff015b"/><stop offset="0.9104" stop-color="#ff0046"/><stop offset="1" stop-color="#ff0040"/></linearGradient>
<linearGradient id="g210" gradientUnits="userSpaceOnUse" x1="211.5" x2="896.5"><stop offset="0" stop-color="#00e5ff"/><stop offset="0.1431" stop-color="#00d4ff"/><stop offset="0.2161" stop-color="#00c0ff"/><stop offset="0.2248" stop-color="#05bdff"/><stop offset="0.2336" stop-color="#1dbbff"/><stop offset="0.2453" stop-color="#3cbaff"/><stop offset="0.2715" stop-color="#6ab7ff"/><stop offset="0.3285" stop-color="#b5afff"/><stop offset="0.3898" stop-color="#fca5fe"/><stop offset="0.4277" stop-color="#ff88da"/><stop offset="0.4876" stop-color="#ff63af"/><stop offset="0.5723" stop-color="#ff3c85"/><stop offset="0.6599" stop-color="#ff1366"/><stop offset="0.6905" stop-color="#ff025e"/><stop offset="0.8949" stop-color="#ff0049"/><stop offset="1" stop-color="#ff0042"/></linearGradient>
<linearGradient id="g211" gradientUnits="userSpaceOnUse" x1="212.5" x2="890.5"><stop offset="0" stop-color="#00e4ff"/><stop offset="0.1416" stop-color="#00d3ff"/><stop offset="0.2153" stop-color="#00beff"/><stop offset="0.2242" stop-color="#04bbff"/><stop offset="0.2316" stop-color="#17b9ff"/><stop offset="0.2434" stop-color="#38b7ff"/><stop offset="0.2684" stop-color="#64b5ff"/><stop offset="0.3215" stop-color="#abaeff"/><stop offset="0.3923" stop-color="#fca2fe"/><stop offset="0.4263" stop-color="#ff88de"/><stop offset="0.4853" stop-color="#ff64b3"/><stop offset="0.5693" stop-color="#ff3c89"/><stop offset="0.6578" stop-color="#ff1369"/><stop offset="0.6888" stop-color="#ff0261"/><stop offset="0.8879" stop-color="#ff004b"/><stop offset="1" stop-color="#f04"/></linearGradient>
<linearGradient id="g212" gradientUnits="userSpaceOnUse" x1="212.5" x2="884.5"><stop offset="0" stop-color="#00e2ff"/><stop offset="0.1414" stop-color="#00d1ff"/><stop offset="0.2143" stop-color="#00bdff"/><stop offset="0.2247" stop-color="#04b9ff"/><stop offset="0.2321" stop-color="#16b6ff"/><stop offset="0.244" stop-color="#37b5ff"/><stop offset="0.2679" stop-color="#61b2ff"/><stop offset="0.3185" stop-color="#a4acff"/><stop offset="0.3958" stop-color="#fc9ffe"/><stop offset="0.4271" stop-color="#ff87e1"/><stop offset="0.4851" stop-color="#ff64b6"/><stop offset="0.5685" stop-color="#ff3c8c"/><stop offset="0.6562" stop-color="#ff136c"/><stop offset="0.6875" stop-color="#ff0264"/><stop offset="0.8824" stop-color="#ff004e"/><stop offset="1" stop-color="#ff0046"/></linearGradient>
<linearGradient id="g213" gradientUnits="userSpaceOnUse" x1="213.5" x2="878.5"><stop offset="0" stop-color="#00e1ff"/><stop offset="0.1398" stop-color="#00d0ff"/><stop offset="0.2135" stop-color="#0bf"/><stop offset="0.2241" stop-color="#03b6ff"/><stop offset="0.2316" stop-color="#15b4ff"/><stop offset="0.2436" stop-color="#36b3ff"/><stop offset="0.2677" stop-color="#60b0ff"/><stop offset="0.3188" stop-color="#a3a9ff"/><stop offset="0.4" stop-color="#fd9bfd"/><stop offset="0.4602" stop-color="#ff71ca"/><stop offset="0.5308" stop-color="#ff4ca0"/><stop offset="0.6346" stop-color="#ff1e76"/><stop offset="0.6857" stop-color="#ff0267"/><stop offset="0.8767" stop-color="#ff0050"/><stop offset="1" stop-color="#ff0047"/></linearGradient>
<linearGradient id="g214" gradientUnits="userSpaceOnUse" x1="214.5" x2="872.5"><stop offset="0" stop-color="#00e0ff"/><stop offset="0.1383" stop-color="#00ceff"/><stop offset="0.2128" stop-color="#00b9ff"/><stop offset="0.2234" stop-color="#03b4ff"/><stop offset="0.231" stop-color="#14b2ff"/><stop offset="0.2432" stop-color="#35b0ff"/><stop offset="0.2675" stop-color="#5fadff"/><stop offset="0.3191" stop-color="#a2a7ff"/><stop offset="0.4027" stop-color="#fd97fd"/><stop offset="0.465" stop-color="#ff6dc9"/><stop offset="0.538" stop-color="#ff489f"/><stop offset="0.6444" stop-color="#ff1875"/><stop offset="0.6839" stop-color="#ff026a"/><stop offset="0.8708" stop-color="#ff0053"/><stop offset="1" stop-color="#ff0049"/></linearGradient>
<linearGradient id="g215" gradientUnits="userSpaceOnUse" x1="214.5" x2="866.5"><stop offset="0" stop-color="#00dfff"/><stop offset="0.138" stop-color="#00cdff"/><stop offset="0.2117" stop-color="#00b7ff"/><stop offset="0.2239" stop-color="#03b2ff"/><stop offset="0.2301" stop-color="#0eb0ff"/><stop offset="0.2439" stop-color="#34aeff"/><stop offset="0.2684" stop-color="#5eabff"/><stop offset="0.3206" stop-color="#a1a4ff"/><stop offset="0.4064" stop-color="#fd94fd"/><stop offset="0.4709" stop-color="#ff6ac9"/><stop offset="0.546" stop-color="#ff449e"/><stop offset="0.6503" stop-color="#ff1476"/><stop offset="0.6825" stop-color="#ff026d"/><stop offset="0.865" stop-color="#ff0056"/><stop offset="1" stop-color="#ff004b"/></linearGradient>
<linearGradient id="g216" gradientUnits="userSpaceOnUse" x1="215.5" x2="860.5"><stop offset="0" stop-color="#00deff"/><stop offset="0.1364" stop-color="#00cbff"/><stop offset="0.2109" stop-color="#00b6ff"/><stop offset="0.2248" stop-color="#04afff"/><stop offset="0.2326" stop-color="#16adff"/><stop offset="0.245" stop-color="#36abff"/><stop offset="0.2713" stop-color="#61a8ff"/><stop offset="0.3271" stop-color="#a6a0ff"/><stop offset="0.4093" stop-color="#fd91fd"/><stop offset="0.4744" stop-color="#ff67c9"/><stop offset="0.5504" stop-color="#ff429f"/><stop offset="0.6481" stop-color="#ff1479"/><stop offset="0.6806" stop-color="#ff0270"/><stop offset="0.8589" stop-color="#ff0058"/><stop offset="1" stop-color="#ff004d"/></linearGradient>
<linearGradient id="g217" gradientUnits="userSpaceOnUse" x1="216.5" x2="854.5"><stop offset="0" stop-color="#00dcff"/><stop offset="0.1348" stop-color="#00caff"/><stop offset="0.21" stop-color="#00b4ff"/><stop offset="0.2241" stop-color="#04adff"/><stop offset="0.232" stop-color="#15abff"/><stop offset="0.2445" stop-color="#35a9ff"/><stop offset="0.2696" stop-color="#5ea6ff"/><stop offset="0.3229" stop-color="#a09fff"/><stop offset="0.4122" stop-color="#fd8efe"/><stop offset="0.4734" stop-color="#ff67cd"/><stop offset="0.5486" stop-color="#ff42a2"/><stop offset="0.6458" stop-color="#ff147c"/><stop offset="0.6787" stop-color="#ff0273"/><stop offset="0.8542" stop-color="#ff005b"/><stop offset="1" stop-color="#ff004f"/></linearGradient>
<linearGradient id="g218" gradientUnits="userSpaceOnUse" x1="216.5" x2="848.5"><stop offset="0" stop-color="#00dbff"/><stop offset="0.1345" stop-color="#00c9ff"/><stop offset="0.2089" stop-color="#00b2ff"/><stop offset="0.2247" stop-color="#03abff"/><stop offset="0.2326" stop-color="#13a9ff"/><stop offset="0.2453" stop-color="#34a7ff"/><stop offset="0.2706" stop-color="#5da4ff"/><stop offset="0.3244" stop-color="#9f9cff"/><stop offset="0.4161" stop-color="#fc8bfe"/><stop offset="0.4668" stop-color="#ff6bd5"/><stop offset="0.538" stop-color="#ff46aa"/><stop offset="0.6408" stop-color="#ff1680"/><stop offset="0.6756" stop-color="#ff0276"/><stop offset="0.8449" stop-color="#ff005e"/><stop offset="1" stop-color="#ff0051"/></linearGradient>
<linearGradient id="g219" gradientUnits="userSpaceOnUse" x1="217.5" x2="842.5"><stop offset="0" stop-color="#00daff"/><stop offset="0.1344" stop-color="#00c7ff"/><stop offset="0.208" stop-color="#00b0ff"/><stop offset="0.224" stop-color="#03a9ff"/><stop offset="0.232" stop-color="#12a6ff"/><stop offset="0.2448" stop-color="#33a5ff"/><stop offset="0.2704" stop-color="#5ca1ff"/><stop offset="0.3248" stop-color="#9e9aff"/><stop offset="0.4192" stop-color="#fc88fe"/><stop offset="0.464" stop-color="#ff6bda"/><stop offset="0.5344" stop-color="#ff47af"/><stop offset="0.6352" stop-color="#ff1885"/><stop offset="0.6736" stop-color="#ff0279"/><stop offset="0.84" stop-color="#ff0061"/><stop offset="1" stop-color="#ff0053"/></linearGradient>
<linearGradient id="g220" gradientUnits="userSpaceOnUse" x1="218.5" x2="836.5"><stop offset="0" stop-color="#00d9ff"/><stop offset="0.1327" stop-color="#00c5ff"/><stop offset="0.2071" stop-color="#00afff"/><stop offset="0.2233" stop-color="#02a7ff"/><stop offset="0.2314" stop-color="#11a4ff"/><stop offset="0.246" stop-color="#35a2ff"/><stop offset="0.2735" stop-color="#609fff"/><stop offset="0.3317" stop-color="#a396ff"/><stop offset="0.4239" stop-color="#fd84fd"/><stop offset="0.4919" stop-color="#ff5bca"/><stop offset="0.5728" stop-color="#ff35a0"/><stop offset="0.644" stop-color="#ff1184"/><stop offset="0.6731" stop-color="#ff027c"/><stop offset="0.8382" stop-color="#ff0063"/><stop offset="1" stop-color="#f05"/></linearGradient>
<linearGradient id="g221" gradientUnits="userSpaceOnUse" x1="218.5" x2="830.5"><stop offset="0" stop-color="#00d8ff"/><stop offset="0.1324" stop-color="#00c4ff"/><stop offset="0.2075" stop-color="#00adff"/><stop offset="0.2239" stop-color="#02a5ff"/><stop offset="0.232" stop-color="#10a2ff"/><stop offset="0.2467" stop-color="#34a0ff"/><stop offset="0.2745" stop-color="#5f9cff"/><stop offset="0.3333" stop-color="#a293ff"/><stop offset="0.4281" stop-color="#fd80fd"/><stop offset="0.4984" stop-color="#ff58c9"/><stop offset="0.5817" stop-color="#ff319f"/><stop offset="0.6454" stop-color="#ff0f87"/><stop offset="0.6732" stop-color="#ff027f"/><stop offset="0.8366" stop-color="#f06"/><stop offset="1" stop-color="#ff0057"/></linearGradient>
<linearGradient id="g222" gradientUnits="userSpaceOnUse" x1="219.5" x2="824.5"><stop offset="0" stop-color="#00d6ff"/><stop offset="0.1322" stop-color="#00c2ff"/><stop offset="0.2066" stop-color="#00abff"/><stop offset="0.2248" stop-color="#03a2ff"/><stop offset="0.2331" stop-color="#13a0ff"/><stop offset="0.2463" stop-color="#339eff"/><stop offset="0.2744" stop-color="#5e9aff"/><stop offset="0.3339" stop-color="#a191ff"/><stop offset="0.4314" stop-color="#fd7dfd"/><stop offset="0.5025" stop-color="#ff55ca"/><stop offset="0.5868" stop-color="#ff2d9f"/><stop offset="0.6463" stop-color="#ff0d89"/><stop offset="0.6727" stop-color="#ff0182"/><stop offset="0.8347" stop-color="#ff0068"/><stop offset="1" stop-color="#ff0058"/></linearGradient>
<linearGradient id="g223" gradientUnits="userSpaceOnUse" x1="220.5" x2="818.5"><stop offset="0" stop-color="#00d5ff"/><stop offset="0.1304" stop-color="#00c1ff"/><stop offset="0.2057" stop-color="#00a9ff"/><stop offset="0.2241" stop-color="#03a0ff"/><stop offset="0.2324" stop-color="#129dff"/><stop offset="0.2458" stop-color="#329bff"/><stop offset="0.2726" stop-color="#5b98ff"/><stop offset="0.3294" stop-color="#9b8fff"/><stop offset="0.4348" stop-color="#fd7afd"/><stop offset="0.5084" stop-color="#ff51c9"/><stop offset="0.5936" stop-color="#ff299f"/><stop offset="0.6672" stop-color="#ff0286"/><stop offset="0.8227" stop-color="#ff006c"/><stop offset="1" stop-color="#ff005a"/></linearGradient>
<linearGradient id="g224" gradientUnits="userSpaceOnUse" x1="221.5" x2="813.5"><stop offset="0" stop-color="#00d4ff"/><stop offset="0.1301" stop-color="#00bfff"/><stop offset="0.2044" stop-color="#00a7ff"/><stop offset="0.223" stop-color="#029eff"/><stop offset="0.2314" stop-color="#119bff"/><stop offset="0.2466" stop-color="#3499ff"/><stop offset="0.2753" stop-color="#5e95ff"/><stop offset="0.3361" stop-color="#a08cff"/><stop offset="0.4375" stop-color="#fd77fe"/><stop offset="0.5135" stop-color="#ff4dc9"/><stop offset="0.6014" stop-color="#ff249f"/><stop offset="0.6622" stop-color="#ff028a"/><stop offset="0.8125" stop-color="#ff006f"/><stop offset="1" stop-color="#ff005c"/></linearGradient>
<linearGradient id="g225" gradientUnits="userSpaceOnUse" x1="221.5" x2="807.5"><stop offset="0" stop-color="#00d2ff"/><stop offset="0.1297" stop-color="#00beff"/><stop offset="0.2048" stop-color="#00a6ff"/><stop offset="0.2235" stop-color="#029dff"/><stop offset="0.2321" stop-color="#1099ff"/><stop offset="0.2474" stop-color="#3397ff"/><stop offset="0.2765" stop-color="#5d93ff"/><stop offset="0.3379" stop-color="#9f89ff"/><stop offset="0.442" stop-color="#fd74fe"/><stop offset="0.5188" stop-color="#ff4ac9"/><stop offset="0.6075" stop-color="#ff209f"/><stop offset="0.6604" stop-color="#ff028d"/><stop offset="0.8072" stop-color="#ff0072"/><stop offset="1" stop-color="#ff005e"/></linearGradient>
<linearGradient id="g226" gradientUnits="userSpaceOnUse" x1="222.5" x2="801.5"><stop offset="0" stop-color="#00d1ff"/><stop offset="0.1295" stop-color="#00bcff"/><stop offset="0.2038" stop-color="#00a4ff"/><stop offset="0.2245" stop-color="#039aff"/><stop offset="0.2332" stop-color="#1397ff"/><stop offset="0.247" stop-color="#3395ff"/><stop offset="0.2763" stop-color="#5c91ff"/><stop offset="0.3385" stop-color="#9e87ff"/><stop offset="0.4456" stop-color="#fd70fe"/><stop offset="0.5147" stop-color="#ff4bcf"/><stop offset="0.601" stop-color="#ff22a4"/><stop offset="0.658" stop-color="#ff0290"/><stop offset="0.8014" stop-color="#ff0075"/><stop offset="1" stop-color="#ff0060"/></linearGradient>
<linearGradient id="g227" gradientUnits="userSpaceOnUse" x1="223.5" x2="795.5"><stop offset="0" stop-color="#00d0ff"/><stop offset="0.1276" stop-color="#0bf"/><stop offset="0.2028" stop-color="#00a2ff"/><stop offset="0.2238" stop-color="#0398ff"/><stop offset="0.2325" stop-color="#1295ff"/><stop offset="0.2465" stop-color="#3292ff"/><stop offset="0.2762" stop-color="#5c8eff"/><stop offset="0.3392" stop-color="#9d84ff"/><stop offset="0.4493" stop-color="#fc6dfe"/><stop offset="0.507" stop-color="#ff4ed6"/><stop offset="0.5909" stop-color="#ff26ab"/><stop offset="0.6556" stop-color="#ff0294"/><stop offset="0.7972" stop-color="#ff0078"/><stop offset="1" stop-color="#ff0062"/></linearGradient>
<linearGradient id="g228" gradientUnits="userSpaceOnUse" x1="224.5" x2="789.5"><stop offset="0" stop-color="#00ceff"/><stop offset="0.1274" stop-color="#00b9ff"/><stop offset="0.2018" stop-color="#00a0ff"/><stop offset="0.223" stop-color="#0396ff"/><stop offset="0.2319" stop-color="#1193ff"/><stop offset="0.2478" stop-color="#3490ff"/><stop offset="0.2796" stop-color="#5f8cff"/><stop offset="0.3469" stop-color="#a281ff"/><stop offset="0.4549" stop-color="#fd69fd"/><stop offset="0.5327" stop-color="#ff41ca"/><stop offset="0.6212" stop-color="#ff14a2"/><stop offset="0.6531" stop-color="#ff0297"/><stop offset="0.7912" stop-color="#ff007c"/><stop offset="1" stop-color="#ff0064"/></linearGradient>
<linearGradient id="g229" gradientUnits="userSpaceOnUse" x1="224.5" x2="783.5"><stop offset="0" stop-color="#00cdff"/><stop offset="0.127" stop-color="#00b8ff"/><stop offset="0.2021" stop-color="#009fff"/><stop offset="0.2236" stop-color="#0294ff"/><stop offset="0.2326" stop-color="#1090ff"/><stop offset="0.2487" stop-color="#338eff"/><stop offset="0.2791" stop-color="#5c8aff"/><stop offset="0.3435" stop-color="#9c7fff"/><stop offset="0.4597" stop-color="#fd66fd"/><stop offset="0.5403" stop-color="#ff3cca"/><stop offset="0.6208" stop-color="#ff13a5"/><stop offset="0.653" stop-color="#ff029b"/><stop offset="0.7907" stop-color="#ff007e"/><stop offset="1" stop-color="#f06"/></linearGradient>
<linearGradient id="g230" gradientUnits="userSpaceOnUse" x1="225.5" x2="777.5"><stop offset="0" stop-color="#0cf"/><stop offset="0.1268" stop-color="#00b6ff"/><stop offset="0.2029" stop-color="#009cff"/><stop offset="0.2246" stop-color="#0391ff"/><stop offset="0.2337" stop-color="#138eff"/><stop offset="0.2482" stop-color="#328cff"/><stop offset="0.279" stop-color="#5b87ff"/><stop offset="0.3442" stop-color="#9b7dff"/><stop offset="0.4638" stop-color="#fd62fd"/><stop offset="0.5453" stop-color="#ff39ca"/><stop offset="0.6196" stop-color="#ff12a9"/><stop offset="0.6504" stop-color="#ff029e"/><stop offset="0.7844" stop-color="#ff0082"/><stop offset="1" stop-color="#ff0068"/></linearGradient>
<linearGradient id="g231" gradientUnits="userSpaceOnUse" x1="226.5" x2="771.5"><stop offset="0" stop-color="#00caff"/><stop offset="0.1266" stop-color="#00b4ff"/><stop offset="0.2018" stop-color="#009aff"/><stop offset="0.2239" stop-color="#038fff"/><stop offset="0.233" stop-color="#128cff"/><stop offset="0.2495" stop-color="#3489ff"/><stop offset="0.2826" stop-color="#5e85ff"/><stop offset="0.3523" stop-color="#a079ff"/><stop offset="0.4679" stop-color="#fd5ffe"/><stop offset="0.5523" stop-color="#ff35ca"/><stop offset="0.6202" stop-color="#ff10ab"/><stop offset="0.6495" stop-color="#ff02a1"/><stop offset="0.7835" stop-color="#ff0084"/><stop offset="1" stop-color="#ff006a"/></linearGradient>
<linearGradient id="g232" gradientUnits="userSpaceOnUse" x1="227.5" x2="765.5"><stop offset="0" stop-color="#00c9ff"/><stop offset="0.1264" stop-color="#00b2ff"/><stop offset="0.2007" stop-color="#09f"/><stop offset="0.223" stop-color="#038dff"/><stop offset="0.2323" stop-color="#118aff"/><stop offset="0.2491" stop-color="#3387ff"/><stop offset="0.2825" stop-color="#5d82ff"/><stop offset="0.3532" stop-color="#9f77ff"/><stop offset="0.4721" stop-color="#fd5bfe"/><stop offset="0.5595" stop-color="#ff30c9"/><stop offset="0.6431" stop-color="#ff02a6"/><stop offset="0.7714" stop-color="#ff0089"/><stop offset="0.9777" stop-color="#ff006e"/><stop offset="1" stop-color="#ff006c"/></linearGradient>
<linearGradient id="g233" gradientUnits="userSpaceOnUse" x1="227.5" x2="759.5"><stop offset="0" stop-color="#00c8ff"/><stop offset="0.1259" stop-color="#00b1ff"/><stop offset="0.2011" stop-color="#0097ff"/><stop offset="0.2237" stop-color="#028cff"/><stop offset="0.2331" stop-color="#1088ff"/><stop offset="0.25" stop-color="#3285ff"/><stop offset="0.2838" stop-color="#5c80ff"/><stop offset="0.3553" stop-color="#9e74ff"/><stop offset="0.4774" stop-color="#fd58fe"/><stop offset="0.5658" stop-color="#ff2cca"/><stop offset="0.6391" stop-color="#ff03ab"/><stop offset="0.7124" stop-color="#ff0098"/><stop offset="0.8816" stop-color="#ff007b"/><stop offset="1" stop-color="#ff006e"/></linearGradient>
<linearGradient id="g234" gradientUnits="userSpaceOnUse" x1="228.5" x2="753.5"><stop offset="0" stop-color="#00c6ff"/><stop offset="0.1257" stop-color="#00afff"/><stop offset="0.2019" stop-color="#0094ff"/><stop offset="0.2248" stop-color="#0389ff"/><stop offset="0.2343" stop-color="#1385ff"/><stop offset="0.2514" stop-color="#3483ff"/><stop offset="0.2876" stop-color="#607dff"/><stop offset="0.3638" stop-color="#a370ff"/><stop offset="0.4838" stop-color="#fd53fd"/><stop offset="0.5695" stop-color="#ff29cb"/><stop offset="0.6362" stop-color="#ff03af"/><stop offset="0.7086" stop-color="#ff009b"/><stop offset="0.8724" stop-color="#ff007f"/><stop offset="1" stop-color="#ff0070"/></linearGradient>
<linearGradient id="g235" gradientUnits="userSpaceOnUse" x1="229.5" x2="747.5"><stop offset="0" stop-color="#00c5ff"/><stop offset="0.1255" stop-color="#00adff"/><stop offset="0.2008" stop-color="#0093ff"/><stop offset="0.2239" stop-color="#0387ff"/><stop offset="0.2336" stop-color="#1283ff"/><stop offset="0.251" stop-color="#3380ff"/><stop offset="0.2857" stop-color="#5d7bff"/><stop offset="0.3591" stop-color="#9e6fff"/><stop offset="0.4865" stop-color="#fd51fe"/><stop offset="0.5656" stop-color="#ff29d0"/><stop offset="0.6332" stop-color="#ff03b3"/><stop offset="0.7046" stop-color="#ff009f"/><stop offset="0.8649" stop-color="#ff0082"/><stop offset="1" stop-color="#ff0072"/></linearGradient>
<linearGradient id="g236" gradientUnits="userSpaceOnUse" x1="230.5" x2="741.5"><stop offset="0" stop-color="#00c3ff"/><stop offset="0.1252" stop-color="#00abff"/><stop offset="0.2016" stop-color="#0090ff"/><stop offset="0.2231" stop-color="#0385ff"/><stop offset="0.2329" stop-color="#1181ff"/><stop offset="0.2505" stop-color="#327eff"/><stop offset="0.2857" stop-color="#5c79ff"/><stop offset="0.3601" stop-color="#9d6dff"/><stop offset="0.4892" stop-color="#fb4efe"/><stop offset="0.5186" stop-color="#ff3fee"/><stop offset="0.6008" stop-color="#ff13c3"/><stop offset="0.6321" stop-color="#ff03b7"/><stop offset="0.7495" stop-color="#ff0098"/><stop offset="0.9335" stop-color="#ff007c"/><stop offset="1" stop-color="#ff0075"/></linearGradient>
<linearGradient id="g237" gradientUnits="userSpaceOnUse" x1="231.5" x2="735.5"><stop offset="0" stop-color="#00c2ff"/><stop offset="0.123" stop-color="#0af"/><stop offset="0.1984" stop-color="#0090ff"/><stop offset="0.2222" stop-color="#0283ff"/><stop offset="0.2321" stop-color="#107fff"/><stop offset="0.25" stop-color="#327cff"/><stop offset="0.2857" stop-color="#5b77ff"/><stop offset="0.3611" stop-color="#9c6aff"/><stop offset="0.4921" stop-color="#fa4aff"/><stop offset="0.5139" stop-color="#ff41f5"/><stop offset="0.5933" stop-color="#ff16ca"/><stop offset="0.627" stop-color="#ff03bc"/><stop offset="0.6984" stop-color="#ff00a6"/><stop offset="0.8532" stop-color="#ff0089"/><stop offset="1" stop-color="#f07"/></linearGradient>
<linearGradient id="g238" gradientUnits="userSpaceOnUse" x1="232.5" x2="729.5"><stop offset="0" stop-color="#00c0ff"/><stop offset="0.1227" stop-color="#00a8ff"/><stop offset="0.1992" stop-color="#008dff"/><stop offset="0.2213" stop-color="#0281ff"/><stop offset="0.2314" stop-color="#0f7dff"/><stop offset="0.2495" stop-color="#317aff"/><stop offset="0.2857" stop-color="#5a75ff"/><stop offset="0.3622" stop-color="#9b68ff"/><stop offset="0.493" stop-color="#f848ff"/><stop offset="0.5131" stop-color="#ff40f9"/><stop offset="0.5936" stop-color="#ff14cd"/><stop offset="0.6258" stop-color="#ff03bf"/><stop offset="0.7384" stop-color="#ff00a0"/><stop offset="0.9135" stop-color="#ff0083"/><stop offset="1" stop-color="#ff0079"/></linearGradient>
<linearGradient id="g239" gradientUnits="userSpaceOnUse" x1="233.5" x2="723.5"><stop offset="0" stop-color="#00beff"/><stop offset="0.1224" stop-color="#00a6ff"/><stop offset="0.198" stop-color="#008bff"/><stop offset="0.2224" stop-color="#037fff"/><stop offset="0.2327" stop-color="#127bff"/><stop offset="0.251" stop-color="#3378ff"/><stop offset="0.2898" stop-color="#5d72ff"/><stop offset="0.3714" stop-color="#a064ff"/><stop offset="0.498" stop-color="#f744ff"/><stop offset="0.5184" stop-color="#ff3cf9"/><stop offset="0.5939" stop-color="#ff11d0"/><stop offset="0.6245" stop-color="#ff02c3"/><stop offset="0.7367" stop-color="#ff00a3"/><stop offset="0.9102" stop-color="#ff0086"/><stop offset="1" stop-color="#ff007b"/></linearGradient>
<linearGradient id="g240" gradientUnits="userSpaceOnUse" x1="233.5" x2="717.5"><stop offset="0" stop-color="#00bdff"/><stop offset="0.124" stop-color="#00a5ff"/><stop offset="0.2004" stop-color="#0089ff"/><stop offset="0.2231" stop-color="#037dff"/><stop offset="0.2335" stop-color="#1179ff"/><stop offset="0.2521" stop-color="#3276ff"/><stop offset="0.2893" stop-color="#5b70ff"/><stop offset="0.3698" stop-color="#9c62ff"/><stop offset="0.4979" stop-color="#f342ff"/><stop offset="0.5207" stop-color="#ff39fb"/><stop offset="0.593" stop-color="#ff10d4"/><stop offset="0.6219" stop-color="#ff02c8"/><stop offset="0.7314" stop-color="#ff00a7"/><stop offset="0.8988" stop-color="#ff008a"/><stop offset="1" stop-color="#ff007e"/></linearGradient>
<linearGradient id="g241" gradientUnits="userSpaceOnUse" x1="234.5" x2="711.5"><stop offset="0" stop-color="#0bf"/><stop offset="0.1237" stop-color="#00a3ff"/><stop offset="0.1992" stop-color="#0087ff"/><stop offset="0.2222" stop-color="#027bff"/><stop offset="0.2327" stop-color="#1077ff"/><stop offset="0.2516" stop-color="#3174ff"/><stop offset="0.2893" stop-color="#5a6eff"/><stop offset="0.369" stop-color="#9960ff"/><stop offset="0.4969" stop-color="#ef40ff"/><stop offset="0.5262" stop-color="#fe35fb"/><stop offset="0.6101" stop-color="#ff05d0"/><stop offset="0.652" stop-color="#ff00c1"/><stop offset="0.7778" stop-color="#ff00a0"/><stop offset="0.9686" stop-color="#ff0083"/><stop offset="1" stop-color="#ff0080"/></linearGradient>
<linearGradient id="g242" gradientUnits="userSpaceOnUse" x1="235.5" x2="705.5"><stop offset="0" stop-color="#00baff"/><stop offset="0.1234" stop-color="#00a1ff"/><stop offset="0.2" stop-color="#0084ff"/><stop offset="0.2234" stop-color="#0478ff"/><stop offset="0.2362" stop-color="#1874ff"/><stop offset="0.2553" stop-color="#3671ff"/><stop offset="0.2979" stop-color="#616aff"/><stop offset="0.3894" stop-color="#a55aff"/><stop offset="0.5064" stop-color="#f23aff"/><stop offset="0.5319" stop-color="#fe30fc"/><stop offset="0.6085" stop-color="#ff04d4"/><stop offset="0.6596" stop-color="#ff00c1"/><stop offset="0.7872" stop-color="#ff00a1"/><stop offset="0.983" stop-color="#ff0084"/><stop offset="1" stop-color="#ff0082"/></linearGradient>
<linearGradient id="g243" gradientUnits="userSpaceOnUse" x1="236.5" x2="699.5"><stop offset="0" stop-color="#00b8ff"/><stop offset="0.1231" stop-color="#009fff"/><stop offset="0.1987" stop-color="#0083ff"/><stop offset="0.2225" stop-color="#0376ff"/><stop offset="0.2333" stop-color="#1272ff"/><stop offset="0.2527" stop-color="#326fff"/><stop offset="0.2937" stop-color="#5c69ff"/><stop offset="0.3801" stop-color="#9d59ff"/><stop offset="0.5011" stop-color="#eb3aff"/><stop offset="0.5356" stop-color="#fe2cfd"/><stop offset="0.6048" stop-color="#ff04d9"/><stop offset="0.6544" stop-color="#ff00c6"/><stop offset="0.7797" stop-color="#ff00a6"/><stop offset="0.9698" stop-color="#f08"/><stop offset="1" stop-color="#ff0084"/></linearGradient>
<linearGradient id="g244" gradientUnits="userSpaceOnUse" x1="237.5" x2="693.5"><stop offset="0" stop-color="#00b7ff"/><stop offset="0.1228" stop-color="#009dff"/><stop offset="0.1996" stop-color="#0080ff"/><stop offset="0.2215" stop-color="#0375ff"/><stop offset="0.2325" stop-color="#1170ff"/><stop offset="0.2522" stop-color="#316dff"/><stop offset="0.2939" stop-color="#5b67ff"/><stop offset="0.3816" stop-color="#9c57ff"/><stop offset="0.5" stop-color="#e738ff"/><stop offset="0.5417" stop-color="#fe27fd"/><stop offset="0.6009" stop-color="#ff04df"/><stop offset="0.6513" stop-color="#ff00cb"/><stop offset="0.7741" stop-color="#f0a"/><stop offset="0.9583" stop-color="#ff008c"/><stop offset="1" stop-color="#ff0087"/></linearGradient>
<linearGradient id="g245" gradientUnits="userSpaceOnUse" x1="238.5" x2="688.5"><stop offset="0" stop-color="#00b5ff"/><stop offset="0.1222" stop-color="#009bff"/><stop offset="0.1978" stop-color="#007fff"/><stop offset="0.22" stop-color="#0273ff"/><stop offset="0.2311" stop-color="#106eff"/><stop offset="0.2511" stop-color="#306bff"/><stop offset="0.2911" stop-color="#5965ff"/><stop offset="0.3778" stop-color="#9855ff"/><stop offset="0.4978" stop-color="#e336ff"/><stop offset="0.5467" stop-color="#fe21fd"/><stop offset="0.5956" stop-color="#ff04e4"/><stop offset="0.6467" stop-color="#ff00cf"/><stop offset="0.7667" stop-color="#ff00ae"/><stop offset="0.9467" stop-color="#ff0090"/><stop offset="1" stop-color="#ff0089"/></linearGradient>
<linearGradient id="g246" gradientUnits="userSpaceOnUse" x1="239.5" x2="682.5"><stop offset="0" stop-color="#00b3ff"/><stop offset="0.1219" stop-color="#09f"/><stop offset="0.1986" stop-color="#007cff"/><stop offset="0.2212" stop-color="#0470ff"/><stop offset="0.2348" stop-color="#186bff"/><stop offset="0.2551" stop-color="#3568ff"/><stop offset="0.3025" stop-color="#6161ff"/><stop offset="0.4018" stop-color="#a64eff"/><stop offset="0.5079" stop-color="#e530ff"/><stop offset="0.5553" stop-color="#fe19fc"/><stop offset="0.5914" stop-color="#ff04ea"/><stop offset="0.6411" stop-color="#ff00d5"/><stop offset="0.7562" stop-color="#ff00b3"/><stop offset="0.93" stop-color="#ff0094"/><stop offset="1" stop-color="#ff008c"/></linearGradient>
<linearGradient id="g247" gradientUnits="userSpaceOnUse" x1="240.5" x2="676.5"><stop offset="0" stop-color="#00b1ff"/><stop offset="0.1216" stop-color="#0097ff"/><stop offset="0.1972" stop-color="#007aff"/><stop offset="0.2202" stop-color="#036eff"/><stop offset="0.2317" stop-color="#126aff"/><stop offset="0.2523" stop-color="#3266ff"/><stop offset="0.2959" stop-color="#5b60ff"/><stop offset="0.3876" stop-color="#9b4fff"/><stop offset="0.5" stop-color="#dd30ff"/><stop offset="0.5528" stop-color="#fb17ff"/><stop offset="0.5849" stop-color="#ff05f1"/><stop offset="0.6261" stop-color="#ff00de"/><stop offset="0.7339" stop-color="#ff00bc"/><stop offset="0.8945" stop-color="#ff009c"/><stop offset="1" stop-color="#ff008e"/></linearGradient>
<linearGradient id="g248" gradientUnits="userSpaceOnUse" x1="241.5" x2="670.5"><stop offset="0" stop-color="#00b0ff"/><stop offset="0.1212" stop-color="#0095ff"/><stop offset="0.1981" stop-color="#0078ff"/><stop offset="0.2191" stop-color="#036cff"/><stop offset="0.2308" stop-color="#1168ff"/><stop offset="0.2517" stop-color="#3164ff"/><stop offset="0.296" stop-color="#5a5dff"/><stop offset="0.3893" stop-color="#9a4cff"/><stop offset="0.4988" stop-color="#da2eff"/><stop offset="0.5524" stop-color="#f814ff"/><stop offset="0.5758" stop-color="#ff07f9"/><stop offset="0.6107" stop-color="#ff00e9"/><stop offset="0.711" stop-color="#ff00c5"/><stop offset="0.8578" stop-color="#ff00a5"/><stop offset="1" stop-color="#ff0091"/></linearGradient>
<linearGradient id="g249" gradientUnits="userSpaceOnUse" x1="242.5" x2="664.5"><stop offset="0" stop-color="#00aeff"/><stop offset="0.1209" stop-color="#0093ff"/><stop offset="0.1967" stop-color="#0076ff"/><stop offset="0.218" stop-color="#026bff"/><stop offset="0.2299" stop-color="#1066ff"/><stop offset="0.2512" stop-color="#3062ff"/><stop offset="0.2962" stop-color="#595bff"/><stop offset="0.391" stop-color="#9949ff"/><stop offset="0.4976" stop-color="#d62cff"/><stop offset="0.5521" stop-color="#f411ff"/><stop offset="0.5806" stop-color="#ff04fb"/><stop offset="0.6445" stop-color="#ff00df"/><stop offset="0.7607" stop-color="#ff00bc"/><stop offset="0.9313" stop-color="#ff009c"/><stop offset="1" stop-color="#ff0093"/></linearGradient>
<linearGradient id="g250" gradientUnits="userSpaceOnUse" x1="243.5" x2="658.5"><stop offset="0" stop-color="#00acff"/><stop offset="0.1205" stop-color="#0091ff"/><stop offset="0.1976" stop-color="#0073ff"/><stop offset="0.2193" stop-color="#0468ff"/><stop offset="0.2337" stop-color="#1763ff"/><stop offset="0.2554" stop-color="#345fff"/><stop offset="0.306" stop-color="#6057ff"/><stop offset="0.412" stop-color="#a342ff"/><stop offset="0.506" stop-color="#d726ff"/><stop offset="0.5783" stop-color="#fd03fe"/><stop offset="0.6723" stop-color="#ff00d8"/><stop offset="0.8" stop-color="#ff00b6"/><stop offset="0.9904" stop-color="#ff0097"/><stop offset="1" stop-color="#ff0096"/></linearGradient>
<linearGradient id="g251" gradientUnits="userSpaceOnUse" x1="244.5" x2="652.5"><stop offset="0" stop-color="#0af"/><stop offset="0.1201" stop-color="#008fff"/><stop offset="0.1961" stop-color="#0072ff"/><stop offset="0.2181" stop-color="#0366ff"/><stop offset="0.2328" stop-color="#1661ff"/><stop offset="0.2549" stop-color="#345dff"/><stop offset="0.3064" stop-color="#5f55ff"/><stop offset="0.4142" stop-color="#a23fff"/><stop offset="0.5049" stop-color="#d324ff"/><stop offset="0.5711" stop-color="#f604ff"/><stop offset="0.598" stop-color="#ff00fa"/><stop offset="0.6936" stop-color="#ff00d5"/><stop offset="0.8309" stop-color="#ff00b3"/><stop offset="1" stop-color="#ff0098"/></linearGradient>
<linearGradient id="g252" gradientUnits="userSpaceOnUse" x1="245.5" x2="646.5"><stop offset="0" stop-color="#00a8ff"/><stop offset="0.1197" stop-color="#008dff"/><stop offset="0.197" stop-color="#006fff"/><stop offset="0.217" stop-color="#0364ff"/><stop offset="0.2294" stop-color="#115fff"/><stop offset="0.2519" stop-color="#305bff"/><stop offset="0.2993" stop-color="#5954ff"/><stop offset="0.399" stop-color="#9741ff"/><stop offset="0.4963" stop-color="#cc24ff"/><stop offset="0.5661" stop-color="#f004ff"/><stop offset="0.601" stop-color="#fe00fc"/><stop offset="0.7032" stop-color="#ff00d6"/><stop offset="0.8429" stop-color="#ff00b4"/><stop offset="1" stop-color="#ff009b"/></linearGradient>
<linearGradient id="g253" gradientUnits="userSpaceOnUse" x1="246.5" x2="640.5"><stop offset="0" stop-color="#00a6ff"/><stop offset="0.1193" stop-color="#008bff"/><stop offset="0.1954" stop-color="#006dff"/><stop offset="0.2157" stop-color="#0362ff"/><stop offset="0.2284" stop-color="#105dff"/><stop offset="0.2513" stop-color="#2f59ff"/><stop offset="0.2995" stop-color="#5852ff"/><stop offset="0.401" stop-color="#963eff"/><stop offset="0.4949" stop-color="#c822ff"/><stop offset="0.5609" stop-color="#e903ff"/><stop offset="0.6091" stop-color="#fe00fc"/><stop offset="0.7157" stop-color="#ff00d5"/><stop offset="0.8604" stop-color="#ff00b4"/><stop offset="1" stop-color="#ff009e"/></linearGradient>
<linearGradient id="g254" gradientUnits="userSpaceOnUse" x1="247.5" x2="634.5"><stop offset="0" stop-color="#00a4ff"/><stop offset="0.1189" stop-color="#0089ff"/><stop offset="0.1964" stop-color="#006aff"/><stop offset="0.2171" stop-color="#045fff"/><stop offset="0.2326" stop-color="#175aff"/><stop offset="0.2558" stop-color="#3456ff"/><stop offset="0.3101" stop-color="#5e4eff"/><stop offset="0.4264" stop-color="#a235ff"/><stop offset="0.5013" stop-color="#c81cff"/><stop offset="0.5556" stop-color="#e303ff"/><stop offset="0.615" stop-color="#fe00fd"/><stop offset="0.7313" stop-color="#ff00d4"/><stop offset="0.8811" stop-color="#ff00b3"/><stop offset="1" stop-color="#ff00a1"/></linearGradient>
<linearGradient id="g255" gradientUnits="userSpaceOnUse" x1="248.5" x2="628.5"><stop offset="0" stop-color="#00a3ff"/><stop offset="0.1184" stop-color="#0087ff"/><stop offset="0.1947" stop-color="#0069ff"/><stop offset="0.2158" stop-color="#035dff"/><stop offset="0.2316" stop-color="#1658ff"/><stop offset="0.2553" stop-color="#3354ff"/><stop offset="0.3105" stop-color="#5e4bff"/><stop offset="0.4263" stop-color="#a033ff"/><stop offset="0.5" stop-color="#c41aff"/><stop offset="0.55" stop-color="#dd03ff"/><stop offset="0.6237" stop-color="#fe00fd"/><stop offset="0.7447" stop-color="#ff00d4"/><stop offset="0.9" stop-color="#ff00b3"/><stop offset="1" stop-color="#ff00a4"/></linearGradient>
<linearGradient id="g256" gradientUnits="userSpaceOnUse" x1="249.5" x2="622.5"><stop offset="0" stop-color="#00a1ff"/><stop offset="0.118" stop-color="#0085ff"/><stop offset="0.193" stop-color="#0067ff"/><stop offset="0.2145" stop-color="#035cff"/><stop offset="0.2279" stop-color="#1156ff"/><stop offset="0.252" stop-color="#3052ff"/><stop offset="0.3029" stop-color="#584aff"/><stop offset="0.4129" stop-color="#9634ff"/><stop offset="0.4906" stop-color="#bd1bff"/><stop offset="0.5442" stop-color="#d703ff"/><stop offset="0.6273" stop-color="#fc00fe"/><stop offset="0.7158" stop-color="#ff00e0"/><stop offset="0.8579" stop-color="#ff00be"/><stop offset="1" stop-color="#ff00a6"/></linearGradient>
<linearGradient id="g257" gradientUnits="userSpaceOnUse" x1="250.5" x2="616.5"><stop offset="0" stop-color="#009eff"/><stop offset="0.1202" stop-color="#0082ff"/><stop offset="0.1967" stop-color="#0063ff"/><stop offset="0.2158" stop-color="#0458ff"/><stop offset="0.2541" stop-color="#3250ff"/><stop offset="0.3087" stop-color="#5a47ff"/><stop offset="0.4262" stop-color="#9b2eff"/><stop offset="0.4945" stop-color="#bc15ff"/><stop offset="0.541" stop-color="#d203ff"/><stop offset="0.6421" stop-color="#fe00fe"/><stop offset="0.7705" stop-color="#ff00d5"/><stop offset="0.9372" stop-color="#ff00b3"/><stop offset="1" stop-color="#ff00a9"/></linearGradient>
<linearGradient id="g258" gradientUnits="userSpaceOnUse" x1="251.5" x2="610.5"><stop offset="0" stop-color="#009cff"/><stop offset="0.1198" stop-color="#0080ff"/><stop offset="0.195" stop-color="#0061ff"/><stop offset="0.2145" stop-color="#0457ff"/><stop offset="0.234" stop-color="#1b50ff"/><stop offset="0.2618" stop-color="#384cff"/><stop offset="0.3287" stop-color="#6541ff"/><stop offset="0.4485" stop-color="#a325ff"/><stop offset="0.5348" stop-color="#cc03ff"/><stop offset="0.6518" stop-color="#fe00fe"/><stop offset="0.7855" stop-color="#ff00d5"/><stop offset="0.9582" stop-color="#ff00b3"/><stop offset="1" stop-color="#ff00ad"/></linearGradient>
<linearGradient id="g259" gradientUnits="userSpaceOnUse" x1="252.5" x2="604.5"><stop offset="0" stop-color="#009aff"/><stop offset="0.1193" stop-color="#007dff"/><stop offset="0.196" stop-color="#005eff"/><stop offset="0.2159" stop-color="#0553ff"/><stop offset="0.2528" stop-color="#304bff"/><stop offset="0.3097" stop-color="#5942ff"/><stop offset="0.429" stop-color="#9828ff"/><stop offset="0.5284" stop-color="#c603ff"/><stop offset="0.6619" stop-color="#fe00fe"/><stop offset="0.8011" stop-color="#ff00d4"/><stop offset="0.9801" stop-color="#ff00b3"/><stop offset="1" stop-color="#ff00b0"/></linearGradient>
<linearGradient id="g260" gradientUnits="userSpaceOnUse" x1="253.5" x2="598.5"><stop offset="0" stop-color="#0098ff"/><stop offset="0.1188" stop-color="#007bff"/><stop offset="0.1942" stop-color="#005cff"/><stop offset="0.2145" stop-color="#0552ff"/><stop offset="0.2522" stop-color="#2f49ff"/><stop offset="0.3101" stop-color="#583fff"/><stop offset="0.4319" stop-color="#9724ff"/><stop offset="0.5217" stop-color="#c003ff"/><stop offset="0.6696" stop-color="#fd00fe"/><stop offset="0.8232" stop-color="#ff00d3"/><stop offset="1" stop-color="#ff00b3"/></linearGradient>
<linearGradient id="g261" gradientUnits="userSpaceOnUse" x1="254.5" x2="592.5"><stop offset="0" stop-color="#0096ff"/><stop offset="0.1183" stop-color="#0079ff"/><stop offset="0.1923" stop-color="#005bff"/><stop offset="0.213" stop-color="#0450ff"/><stop offset="0.2544" stop-color="#3146ff"/><stop offset="0.3166" stop-color="#5b3cff"/><stop offset="0.432" stop-color="#9521ff"/><stop offset="0.5118" stop-color="#b903ff"/><stop offset="0.6154" stop-color="#e500ff"/><stop offset="0.6893" stop-color="#fe00fd"/><stop offset="0.8284" stop-color="#ff00d5"/><stop offset="1" stop-color="#ff00b6"/></linearGradient>
<linearGradient id="g262" gradientUnits="userSpaceOnUse" x1="255.5" x2="586.5"><stop offset="0" stop-color="#0094ff"/><stop offset="0.1178" stop-color="#07f"/><stop offset="0.1934" stop-color="#0057ff"/><stop offset="0.2115" stop-color="#044eff"/><stop offset="0.2538" stop-color="#3044ff"/><stop offset="0.3172" stop-color="#5a39ff"/><stop offset="0.429" stop-color="#911fff"/><stop offset="0.5045" stop-color="#b303ff"/><stop offset="0.6133" stop-color="#e000ff"/><stop offset="0.7009" stop-color="#fe00fd"/><stop offset="0.8429" stop-color="#ff00d6"/><stop offset="1" stop-color="#ff00b9"/></linearGradient>
<linearGradient id="g263" gradientUnits="userSpaceOnUse" x1="256.5" x2="580.5"><stop offset="0" stop-color="#0092ff"/><stop offset="0.1173" stop-color="#0074ff"/><stop offset="0.1914" stop-color="#0056ff"/><stop offset="0.213" stop-color="#054bff"/><stop offset="0.2531" stop-color="#3042ff"/><stop offset="0.3148" stop-color="#5837ff"/><stop offset="0.4228" stop-color="#8c1dff"/><stop offset="0.4969" stop-color="#ad03ff"/><stop offset="0.608" stop-color="#db00ff"/><stop offset="0.7099" stop-color="#fe00fe"/><stop offset="0.8642" stop-color="#ff00d5"/><stop offset="1" stop-color="#ff00bd"/></linearGradient>
<linearGradient id="g264" gradientUnits="userSpaceOnUse" x1="257.5" x2="574.5"><stop offset="0" stop-color="#008fff"/><stop offset="0.1167" stop-color="#0072ff"/><stop offset="0.1924" stop-color="#0053ff"/><stop offset="0.2114" stop-color="#0549ff"/><stop offset="0.2524" stop-color="#2f3fff"/><stop offset="0.3155" stop-color="#5734ff"/><stop offset="0.4196" stop-color="#891bff"/><stop offset="0.489" stop-color="#a703ff"/><stop offset="0.6057" stop-color="#d600ff"/><stop offset="0.7224" stop-color="#fe00fe"/><stop offset="0.8833" stop-color="#ff00d5"/><stop offset="1" stop-color="#ff00c0"/></linearGradient>
<linearGradient id="g265" gradientUnits="userSpaceOnUse" x1="258.5" x2="569.5"><stop offset="0" stop-color="#008dff"/><stop offset="0.119" stop-color="#006fff"/><stop offset="0.1929" stop-color="#004fff"/><stop offset="0.2122" stop-color="#0745ff"/><stop offset="0.2508" stop-color="#2e3dff"/><stop offset="0.3151" stop-color="#5632ff"/><stop offset="0.4148" stop-color="#8519ff"/><stop offset="0.4791" stop-color="#a103ff"/><stop offset="0.6013" stop-color="#d200ff"/><stop offset="0.7331" stop-color="#fe00fe"/><stop offset="0.9003" stop-color="#ff00d5"/><stop offset="1" stop-color="#ff00c3"/></linearGradient>
<linearGradient id="g266" gradientUnits="userSpaceOnUse" x1="259.5" x2="563.5"><stop offset="0" stop-color="#008bff"/><stop offset="0.1184" stop-color="#006cff"/><stop offset="0.1908" stop-color="#004dff"/><stop offset="0.2105" stop-color="#0643ff"/><stop offset="0.25" stop-color="#2d3aff"/><stop offset="0.3125" stop-color="#542fff"/><stop offset="0.4079" stop-color="#8017ff"/><stop offset="0.4737" stop-color="#9c02ff"/><stop offset="0.648" stop-color="#df00ff"/><stop offset="0.75" stop-color="#fe00fd"/><stop offset="0.9145" stop-color="#ff00d6"/><stop offset="1" stop-color="#ff00c7"/></linearGradient>
<linearGradient id="g267" gradientUnits="userSpaceOnUse" x1="260.5" x2="557.5"><stop offset="0" stop-color="#08f"/><stop offset="0.1178" stop-color="#006aff"/><stop offset="0.1919" stop-color="#004aff"/><stop offset="0.2088" stop-color="#0641ff"/><stop offset="0.2525" stop-color="#2f37ff"/><stop offset="0.3232" stop-color="#582aff"/><stop offset="0.4108" stop-color="#8012ff"/><stop offset="0.468" stop-color="#9802ff"/><stop offset="0.6397" stop-color="#d800ff"/><stop offset="0.7643" stop-color="#fe00fd"/><stop offset="0.936" stop-color="#ff00d6"/><stop offset="1" stop-color="#ff00cb"/></linearGradient>
<linearGradient id="g268" gradientUnits="userSpaceOnUse" x1="261.5" x2="551.5"><stop offset="0" stop-color="#0086ff"/><stop offset="0.1172" stop-color="#0067ff"/><stop offset="0.1897" stop-color="#0048ff"/><stop offset="0.2103" stop-color="#073eff"/><stop offset="0.2483" stop-color="#2c35ff"/><stop offset="0.3138" stop-color="#5329ff"/><stop offset="0.4034" stop-color="#7b11ff"/><stop offset="0.4586" stop-color="#9202ff"/><stop offset="0.631" stop-color="#d200ff"/><stop offset="0.7793" stop-color="#fe00fd"/><stop offset="0.9586" stop-color="#ff00d6"/><stop offset="1" stop-color="#ff00cf"/></linearGradient>
<linearGradient id="g269" gradientUnits="userSpaceOnUse" x1="262.5" x2="545.5"><stop offset="0" stop-color="#0083ff"/><stop offset="0.1166" stop-color="#0065ff"/><stop offset="0.1908" stop-color="#0045ff"/><stop offset="0.2085" stop-color="#073cff"/><stop offset="0.2509" stop-color="#2e32ff"/><stop offset="0.3216" stop-color="#5525ff"/><stop offset="0.4452" stop-color="#8a02ff"/><stop offset="0.6148" stop-color="#c900ff"/><stop offset="0.7915" stop-color="#fe00fe"/><stop offset="0.9894" stop-color="#ff00d4"/><stop offset="1" stop-color="#ff00d3"/></linearGradient>
<linearGradient id="g270" gradientUnits="userSpaceOnUse" x1="264.5" x2="539.5"><stop offset="0" stop-color="#0080ff"/><stop offset="0.1164" stop-color="#0061ff"/><stop offset="0.1891" stop-color="#0141ff"/><stop offset="0.2073" stop-color="#0938ff"/><stop offset="0.2473" stop-color="#2d2fff"/><stop offset="0.32" stop-color="#5521ff"/><stop offset="0.4327" stop-color="#8402ff"/><stop offset="0.6" stop-color="#c200ff"/><stop offset="0.8073" stop-color="#fe00fe"/><stop offset="1" stop-color="#ff00d7"/></linearGradient>
<linearGradient id="g271" gradientUnits="userSpaceOnUse" x1="265.5" x2="533.5"><stop offset="0" stop-color="#007dff"/><stop offset="0.1157" stop-color="#005eff"/><stop offset="0.1866" stop-color="#013fff"/><stop offset="0.2052" stop-color="#0836ff"/><stop offset="0.2463" stop-color="#2c2dff"/><stop offset="0.3209" stop-color="#541eff"/><stop offset="0.4216" stop-color="#7e02ff"/><stop offset="0.5896" stop-color="#b0f"/><stop offset="0.8172" stop-color="#fc00ff"/><stop offset="0.9142" stop-color="#ff00eb"/><stop offset="1" stop-color="#ff00db"/></linearGradient>
<linearGradient id="g272" gradientUnits="userSpaceOnUse" x1="266.5" x2="527.5"><stop offset="0" stop-color="#007aff"/><stop offset="0.1149" stop-color="#005bff"/><stop offset="0.1877" stop-color="#013bff"/><stop offset="0.2069" stop-color="#0b32ff"/><stop offset="0.2452" stop-color="#2b2aff"/><stop offset="0.318" stop-color="#521bff"/><stop offset="0.4061" stop-color="#7703ff"/><stop offset="0.5709" stop-color="#b200ff"/><stop offset="0.8161" stop-color="#f800ff"/><stop offset="0.8659" stop-color="#ff00fa"/><stop offset="1" stop-color="#ff00df"/></linearGradient>
<linearGradient id="g273" gradientUnits="userSpaceOnUse" x1="267.5" x2="521.5"><stop offset="0" stop-color="#0078ff"/><stop offset="0.1142" stop-color="#0059ff"/><stop offset="0.185" stop-color="#0139ff"/><stop offset="0.2047" stop-color="#0a2fff"/><stop offset="0.2441" stop-color="#2b27ff"/><stop offset="0.3189" stop-color="#5116ff"/><stop offset="0.3976" stop-color="#7202ff"/><stop offset="0.5591" stop-color="#ac00ff"/><stop offset="0.8031" stop-color="#f000ff"/><stop offset="0.874" stop-color="#ff00fd"/><stop offset="1" stop-color="#ff00e4"/></linearGradient>
<linearGradient id="g274" gradientUnits="userSpaceOnUse" x1="268.5" x2="515.5"><stop offset="0" stop-color="#0075ff"/><stop offset="0.1134" stop-color="#0056ff"/><stop offset="0.1822" stop-color="#0137ff"/><stop offset="0.2024" stop-color="#092dff"/><stop offset="0.247" stop-color="#2d23ff"/><stop offset="0.332" stop-color="#560eff"/><stop offset="0.3927" stop-color="#6f02ff"/><stop offset="0.5547" stop-color="#a800ff"/><stop offset="0.8016" stop-color="#eb00ff"/><stop offset="0.8947" stop-color="#ff00fd"/><stop offset="1" stop-color="#ff00e8"/></linearGradient>
<linearGradient id="g275" gradientUnits="userSpaceOnUse" x1="270.5" x2="509.5"><stop offset="0" stop-color="#0071ff"/><stop offset="0.113" stop-color="#0051ff"/><stop offset="0.1841" stop-color="#0230ff"/><stop offset="0.205" stop-color="#0f27ff"/><stop offset="0.2427" stop-color="#2c1fff"/><stop offset="0.3347" stop-color="#5708ff"/><stop offset="0.4017" stop-color="#7200ff"/><stop offset="0.5732" stop-color="#ab00ff"/><stop offset="0.8368" stop-color="#ef00ff"/><stop offset="0.9205" stop-color="#ff00fc"/><stop offset="1" stop-color="#ff00ed"/></linearGradient>
<linearGradient id="g276" gradientUnits="userSpaceOnUse" x1="271.5" x2="503.5"><stop offset="0" stop-color="#006eff"/><stop offset="0.1121" stop-color="#004eff"/><stop offset="0.181" stop-color="#022eff"/><stop offset="0.2026" stop-color="#0e24ff"/><stop offset="0.2414" stop-color="#2b1cff"/><stop offset="0.3448" stop-color="#5b03ff"/><stop offset="0.4871" stop-color="#8f00ff"/><stop offset="0.7112" stop-color="#cd00ff"/><stop offset="0.9353" stop-color="#fe00fe"/><stop offset="1" stop-color="#ff00f2"/></linearGradient>
<linearGradient id="g277" gradientUnits="userSpaceOnUse" x1="272.5" x2="497.5"><stop offset="0" stop-color="#006bff"/><stop offset="0.1111" stop-color="#004bff"/><stop offset="0.1778" stop-color="#022cff"/><stop offset="0.2" stop-color="#0d21ff"/><stop offset="0.2444" stop-color="#2d17ff"/><stop offset="0.3378" stop-color="#5802ff"/><stop offset="0.4844" stop-color="#8c00ff"/><stop offset="0.7156" stop-color="#ca00ff"/><stop offset="0.96" stop-color="#fe00fe"/><stop offset="1" stop-color="#ff00f7"/></linearGradient>
<linearGradient id="g278" gradientUnits="userSpaceOnUse" x1="273.5" x2="491.5"><stop offset="0" stop-color="#0068ff"/><stop offset="0.1101" stop-color="#0048ff"/><stop offset="0.1743" stop-color="#012aff"/><stop offset="0.1972" stop-color="#0c1eff"/><stop offset="0.2431" stop-color="#2c12ff"/><stop offset="0.3257" stop-color="#5302ff"/><stop offset="0.4679" stop-color="#8500ff"/><stop offset="0.6927" stop-color="#c100ff"/><stop offset="0.9817" stop-color="#fe00fe"/><stop offset="1" stop-color="#ff00fc"/></linearGradient>
<linearGradient id="g279" gradientUnits="userSpaceOnUse" x1="275.5" x2="485.5"><stop offset="0" stop-color="#0063ff"/><stop offset="0.1048" stop-color="#0045ff"/><stop offset="0.1667" stop-color="#0127ff"/><stop offset="0.1905" stop-color="#0c1bff"/><stop offset="0.2381" stop-color="#2c0dff"/><stop offset="0.3143" stop-color="#4f01ff"/><stop offset="0.4524" stop-color="#8000ff"/><stop offset="0.681" stop-color="#b0f"/><stop offset="1" stop-color="#fc00ff"/></linearGradient>
<linearGradient id="g280" gradientUnits="userSpaceOnUse" x1="276.5" x2="479.5"><stop offset="0" stop-color="#0060ff"/><stop offset="0.1034" stop-color="#0041ff"/><stop offset="0.1626" stop-color="#0125ff"/><stop offset="0.1872" stop-color="#0b17ff"/><stop offset="0.2414" stop-color="#2f08ff"/><stop offset="0.3202" stop-color="#5200ff"/><stop offset="0.468" stop-color="#8300ff"/><stop offset="0.7094" stop-color="#be00ff"/><stop offset="1" stop-color="#f700ff"/></linearGradient>
<linearGradient id="g281" gradientUnits="userSpaceOnUse" x1="278.5" x2="473.5"><stop offset="0" stop-color="#005bff"/><stop offset="0.1026" stop-color="#003cff"/><stop offset="0.159" stop-color="#021fff"/><stop offset="0.1846" stop-color="#0e10ff"/><stop offset="0.2359" stop-color="#2f04ff"/><stop offset="0.3333" stop-color="#5800ff"/><stop offset="0.5026" stop-color="#8b00ff"/><stop offset="0.7744" stop-color="#c800ff"/><stop offset="1" stop-color="#f200ff"/></linearGradient>
<linearGradient id="g282" gradientUnits="userSpaceOnUse" x1="279.5" x2="467.5"><stop offset="0" stop-color="#0057ff"/><stop offset="0.1011" stop-color="#0038ff"/><stop offset="0.1543" stop-color="#021cff"/><stop offset="0.1809" stop-color="#0e0cff"/><stop offset="0.2287" stop-color="#2d03ff"/><stop offset="0.3191" stop-color="#5300ff"/><stop offset="0.484" stop-color="#8400ff"/><stop offset="0.7553" stop-color="#c000ff"/><stop offset="1" stop-color="#ed00ff"/></linearGradient>
<linearGradient id="g283" gradientUnits="userSpaceOnUse" x1="281.5" x2="461.5"><stop offset="0" stop-color="#0052ff"/><stop offset="0.0944" stop-color="#0034ff"/><stop offset="0.1444" stop-color="#0319ff"/><stop offset="0.1722" stop-color="#0f09ff"/><stop offset="0.2167" stop-color="#2c01ff"/><stop offset="0.3056" stop-color="#5000ff"/><stop offset="0.4722" stop-color="#8000ff"/><stop offset="0.75" stop-color="#bc00ff"/><stop offset="1" stop-color="#e700ff"/></linearGradient>
<linearGradient id="g284" gradientUnits="userSpaceOnUse" x1="282.5" x2="455.5"><stop offset="0" stop-color="#004dff"/><stop offset="0.0925" stop-color="#0030ff"/><stop offset="0.1387" stop-color="#0416ff"/><stop offset="0.1734" stop-color="#1505ff"/><stop offset="0.2312" stop-color="#3500ff"/><stop offset="0.341" stop-color="#5c00ff"/><stop offset="0.5434" stop-color="#8f00ff"/><stop offset="0.8728" stop-color="#cd00ff"/><stop offset="1" stop-color="#e200ff"/></linearGradient>
<linearGradient id="g285" gradientUnits="userSpaceOnUse" x1="284.5" x2="449.5"><stop offset="0" stop-color="#0047ff"/><stop offset="0.0848" stop-color="#002bff"/><stop offset="0.1273" stop-color="#0514ff"/><stop offset="0.1636" stop-color="#1703ff"/><stop offset="0.2242" stop-color="#3700ff"/><stop offset="0.3455" stop-color="#5e00ff"/><stop offset="0.5636" stop-color="#9100ff"/><stop offset="0.9152" stop-color="#d000ff"/><stop offset="1" stop-color="#d0f"/></linearGradient>
<linearGradient id="g286" gradientUnits="userSpaceOnUse" x1="285.5" x2="444.5"><stop offset="0" stop-color="#0043ff"/><stop offset="0.0755" stop-color="#0029ff"/><stop offset="0.1195" stop-color="#0611ff"/><stop offset="0.1572" stop-color="#1903ff"/><stop offset="0.2201" stop-color="#3800ff"/><stop offset="0.3522" stop-color="#6000ff"/><stop offset="0.5912" stop-color="#9500ff"/><stop offset="0.9748" stop-color="#d500ff"/><stop offset="1" stop-color="#d800ff"/></linearGradient>
<linearGradient id="g287" gradientUnits="userSpaceOnUse" x1="287.5" x2="438.5"><stop offset="0" stop-color="#003cff"/><stop offset="0.0728" stop-color="#0120ff"/><stop offset="0.1126" stop-color="#0a0cff"/><stop offset="0.1523" stop-color="#1f01ff"/><stop offset="0.2252" stop-color="#3e00ff"/><stop offset="0.3775" stop-color="#6700ff"/><stop offset="0.649" stop-color="#9d00ff"/><stop offset="1" stop-color="#d300ff"/></linearGradient>
<linearGradient id="g288" gradientUnits="userSpaceOnUse" x1="289.5" x2="432.5"><stop offset="0" stop-color="#0034ff"/><stop offset="0.0629" stop-color="#021aff"/><stop offset="0.0979" stop-color="#0c0aff"/><stop offset="0.1399" stop-color="#2101ff"/><stop offset="0.2168" stop-color="#3f00ff"/><stop offset="0.3846" stop-color="#6900ff"/><stop offset="0.6783" stop-color="#9f00ff"/><stop offset="1" stop-color="#ce00ff"/></linearGradient>
<linearGradient id="g289" gradientUnits="userSpaceOnUse" x1="290.5" x2="426.5"><stop offset="0" stop-color="#002dff"/><stop offset="0.0588" stop-color="#0414ff"/><stop offset="0.1029" stop-color="#1504ff"/><stop offset="0.1765" stop-color="#3400ff"/><stop offset="0.3235" stop-color="#5c00ff"/><stop offset="0.5956" stop-color="#8f00ff"/><stop offset="1" stop-color="#c900ff"/></linearGradient>
<linearGradient id="g290" gradientUnits="userSpaceOnUse" x1="292.5" x2="420.5"><stop offset="0" stop-color="#0023ff"/><stop offset="0.0469" stop-color="#070eff"/><stop offset="0.0938" stop-color="#1b02ff"/><stop offset="0.1719" stop-color="#3800ff"/><stop offset="0.3438" stop-color="#6100ff"/><stop offset="0.6562" stop-color="#9600ff"/><stop offset="1" stop-color="#c300ff"/></linearGradient>
<linearGradient id="g291" gradientUnits="userSpaceOnUse" x1="294.5" x2="414.5"><stop offset="0" stop-color="#0316ff"/><stop offset="0.05" stop-color="#1205ff"/><stop offset="0.125" stop-color="#3000ff"/><stop offset="0.275" stop-color="#50f"/><stop offset="0.5583" stop-color="#8500ff"/><stop offset="1" stop-color="#be00ff"/></linearGradient>
<linearGradient id="g292" gradientUnits="userSpaceOnUse" x1="296.5" x2="408.5"><stop offset="0" stop-color="#0b0aff"/><stop offset="0.0536" stop-color="#1f01ff"/><stop offset="0.1518" stop-color="#3d00ff"/><stop offset="0.3661" stop-color="#60f"/><stop offset="0.75" stop-color="#9c00ff"/><stop offset="1" stop-color="#b900ff"/></linearGradient>
<linearGradient id="g293" gradientUnits="userSpaceOnUse" x1="299.5" x2="402.5"><stop offset="0" stop-color="#1b02ff"/><stop offset="0.0971" stop-color="#3700ff"/><stop offset="0.3107" stop-color="#5f00ff"/><stop offset="0.699" stop-color="#9300ff"/><stop offset="1" stop-color="#b400ff"/></linearGradient>
<linearGradient id="g294" gradientUnits="userSpaceOnUse" x1="301.5" x2="396.5"><stop offset="0" stop-color="#2700ff"/><stop offset="0.1474" stop-color="#4700ff"/><stop offset="0.4526" stop-color="#7400ff"/><stop offset="0.9789" stop-color="#ad00ff"/><stop offset="1" stop-color="#af00ff"/></linearGradient>
<linearGradient id="g295" gradientUnits="userSpaceOnUse" x1="303.5" x2="390.5"><stop offset="0" stop-color="#3000ff"/><stop offset="0.2184" stop-color="#5600ff"/><stop offset="0.6322" stop-color="#8700ff"/><stop offset="1" stop-color="#a900ff"/></linearGradient>
<linearGradient id="g296" gradientUnits="userSpaceOnUse" x1="306.5" x2="384.5"><stop offset="0" stop-color="#3b00ff"/><stop offset="0.3077" stop-color="#6400ff"/><stop offset="0.859" stop-color="#90f"/><stop offset="1" stop-color="#a400ff"/></linearGradient>
<linearGradient id="g297" gradientUnits="userSpaceOnUse" x1="309.5" x2="378.5"><stop offset="0" stop-color="#40f"/><stop offset="0.4203" stop-color="#7100ff"/><stop offset="1" stop-color="#9f00ff"/></linearGradient>
<linearGradient id="g298" gradientUnits="userSpaceOnUse" x1="312.5" x2="372.5"><stop offset="0" stop-color="#4c00ff"/><stop offset="0.55" stop-color="#7b00ff"/><stop offset="1" stop-color="#90f"/></linearGradient>
<linearGradient id="g299" gradientUnits="userSpaceOnUse" x1="315.5" x2="366.5"><stop offset="0" stop-color="#5300ff"/><stop offset="0.7059" stop-color="#8300ff"/><stop offset="1" stop-color="#9400ff"/></linearGradient>
<linearGradient id="g300" gradientUnits="userSpaceOnUse" x1="318.5" x2="360.5"><stop offset="0" stop-color="#5a00ff"/><stop offset="0.9524" stop-color="#8d00ff"/><stop offset="1" stop-color="#8f00ff"/></linearGradient>
<linearGradient id="g301" gradientUnits="userSpaceOnUse" x1="321.5" x2="354.5"><stop offset="0" stop-color="#6000ff"/><stop offset="1" stop-color="#8900ff"/></linearGradient>
<linearGradient id="g302" gradientUnits="userSpaceOnUse" x1="325.5" x2="348.5"><stop offset="0" stop-color="#6800ff"/><stop offset="1" stop-color="#8400ff"/></linearGradient>
<linearGradient id="g303" gradientUnits="userSpaceOnUse" x1="328.5" x2="342.5"><stop offset="0" stop-color="#6d00ff"/><stop offset="1" stop-color="#7e00ff"/></linearGradient>

</defs>

<rect width="993" height="831" fill="#fff"/>

<g clip-path="url(#cl)">
<rect x="225" y="105" width="33" height="2" fill="url(#g0)"/>
<rect x="218" y="107" width="50" height="2" fill="url(#g1)"/>
<rect x="213" y="109" width="63" height="2" fill="url(#g2)"/>
<rect x="209" y="111" width="74" height="2" fill="url(#g3)"/>
<rect x="206" y="113" width="83" height="2" fill="url(#g4)"/>
<rect x="203" y="115" width="92" height="2" fill="url(#g5)"/>
<rect x="200" y="117" width="100" height="2" fill="url(#g6)"/>
<rect x="198" y="119" width="108" height="2" fill="url(#g7)"/>
<rect x="196" y="121" width="115" height="2" fill="url(#g8)"/>
<rect x="194" y="123" width="122" height="2" fill="url(#g9)"/>
<rect x="192" y="125" width="128" height="2" fill="url(#g10)"/>
<rect x="190" y="127" width="135" height="2" fill="url(#g11)"/>
<rect x="189" y="129" width="141" height="2" fill="url(#g12)"/>
<rect x="187" y="131" width="147" height="2" fill="url(#g13)"/>
<rect x="186" y="133" width="153" height="2" fill="url(#g14)"/>
<rect x="185" y="135" width="158" height="2" fill="url(#g15)"/>
<rect x="184" y="137" width="163" height="2" fill="url(#g16)"/>
<rect x="182" y="139" width="169" height="2" fill="url(#g17)"/>
<rect x="181" y="141" width="174" height="2" fill="url(#g18)"/>
<rect x="180" y="143" width="179" height="2" fill="url(#g19)"/>
<rect x="179" y="145" width="184" height="2" fill="url(#g20)"/>
<rect x="178" y="147" width="189" height="2" fill="url(#g21)"/>
<rect x="178" y="149" width="193" height="2" fill="url(#g22)"/>
<rect x="177" y="151" width="198" height="2" fill="url(#g23)"/>
<rect x="176" y="153" width="202" height="2" fill="url(#g24)"/>
<rect x="175" y="155" width="207" height="2" fill="url(#g25)"/>
<rect x="174" y="157" width="212" height="2" fill="url(#g26)"/>
<rect x="174" y="159" width="215" height="2" fill="url(#g27)"/>
<rect x="173" y="161" width="220" height="2" fill="url(#g28)"/>
<rect x="172" y="163" width="224" height="2" fill="url(#g29)"/>
<rect x="172" y="165" width="228" height="2" fill="url(#g30)"/>
<rect x="171" y="167" width="232" height="2" fill="url(#g31)"/>
<rect x="170" y="169" width="237" height="2" fill="url(#g32)"/>
<rect x="170" y="171" width="240" height="2" fill="url(#g33)"/>
<rect x="169" y="173" width="244" height="2" fill="url(#g34)"/>
<rect x="169" y="175" width="248" height="2" fill="url(#g35)"/>
<rect x="168" y="177" width="252" height="2" fill="url(#g36)"/>
<rect x="168" y="179" width="255" height="2" fill="url(#g37)"/>
<rect x="167" y="181" width="259" height="2" fill="url(#g38)"/>
<rect x="167" y="183" width="263" height="2" fill="url(#g39)"/>
<rect x="167" y="185" width="266" height="2" fill="url(#g40)"/>
<rect x="166" y="187" width="270" height="2" fill="url(#g41)"/>
<rect x="166" y="189" width="273" height="2" fill="url(#g42)"/>
<rect x="165" y="191" width="277" height="2" fill="url(#g43)"/>
<rect x="165" y="193" width="280" height="2" fill="url(#g44)"/>
<rect x="165" y="195" width="283" height="2" fill="url(#g45)"/>
<rect x="165" y="197" width="286" height="2" fill="url(#g46)"/>
<rect x="164" y="199" width="291" height="2" fill="url(#g47)"/>
<rect x="164" y="201" width="294" height="2" fill="url(#g48)"/>
<rect x="164" y="203" width="297" height="2" fill="url(#g49)"/>
<rect x="164" y="205" width="300" height="2" fill="url(#g50)"/>
<rect x="163" y="207" width="304" height="2" fill="url(#g51)"/>
<rect x="163" y="209" width="307" height="2" fill="url(#g52)"/>
<rect x="163" y="211" width="310" height="2" fill="url(#g53)"/>
<rect x="163" y="213" width="313" height="2" fill="url(#g54)"/>
<rect x="163" y="215" width="316" height="2" fill="url(#g55)"/>
<rect x="162" y="217" width="320" height="2" fill="url(#g56)"/>
<rect x="162" y="219" width="323" height="2" fill="url(#g57)"/>
<rect x="162" y="221" width="326" height="2" fill="url(#g58)"/>
<rect x="162" y="223" width="328" height="2" fill="url(#g59)"/>
<rect x="162" y="225" width="331" height="2" fill="url(#g60)"/>
<rect x="162" y="227" width="334" height="2" fill="url(#g61)"/>
<rect x="162" y="229" width="337" height="2" fill="url(#g62)"/>
<rect x="162" y="231" width="340" height="2" fill="url(#g63)"/>
<rect x="161" y="233" width="344" height="2" fill="url(#g64)"/>
<rect x="161" y="235" width="347" height="2" fill="url(#g65)"/>
<rect x="161" y="237" width="350" height="2" fill="url(#g66)"/>
<rect x="161" y="239" width="353" height="2" fill="url(#g67)"/>
<rect x="161" y="241" width="356" height="2" fill="url(#g68)"/>
<rect x="161" y="243" width="359" height="2" fill="url(#g69)"/>
<rect x="161" y="245" width="361" height="2" fill="url(#g70)"/>
<rect x="161" y="247" width="364" height="2" fill="url(#g71)"/>
<rect x="161" y="249" width="367" height="2" fill="url(#g72)"/>
<rect x="161" y="251" width="370" height="2" fill="url(#g73)"/>
<rect x="161" y="253" width="373" height="2" fill="url(#g74)"/>
<rect x="161" y="255" width="376" height="2" fill="url(#g75)"/>
<rect x="161" y="257" width="379" height="2" fill="url(#g76)"/>
<rect x="161" y="259" width="381" height="2" fill="url(#g77)"/>
<rect x="161" y="261" width="384" height="2" fill="url(#g78)"/>
<rect x="161" y="263" width="387" height="2" fill="url(#g79)"/>
<rect x="161" y="265" width="390" height="2" fill="url(#g80)"/>
<rect x="161" y="267" width="393" height="2" fill="url(#g81)"/>
<rect x="161" y="269" width="396" height="2" fill="url(#g82)"/>
<rect x="162" y="271" width="397" height="2" fill="url(#g83)"/>
<rect x="162" y="273" width="400" height="2" fill="url(#g84)"/>
<rect x="162" y="275" width="403" height="2" fill="url(#g85)"/>
<rect x="162" y="277" width="406" height="2" fill="url(#g86)"/>
<rect x="162" y="279" width="409" height="2" fill="url(#g87)"/>
<rect x="162" y="281" width="411" height="2" fill="url(#g88)"/>
<rect x="162" y="283" width="414" height="2" fill="url(#g89)"/>
<rect x="162" y="285" width="417" height="2" fill="url(#g90)"/>
<rect x="162" y="287" width="420" height="2" fill="url(#g91)"/>
<rect x="163" y="289" width="422" height="2" fill="url(#g92)"/>
<rect x="163" y="291" width="424" height="2" fill="url(#g93)"/>
<rect x="163" y="293" width="427" height="2" fill="url(#g94)"/>
<rect x="163" y="295" width="430" height="2" fill="url(#g95)"/>
<rect x="163" y="297" width="433" height="2" fill="url(#g96)"/>
<rect x="163" y="299" width="436" height="2" fill="url(#g97)"/>
<rect x="164" y="301" width="437" height="2" fill="url(#g98)"/>
<rect x="164" y="303" width="440" height="2" fill="url(#g99)"/>
<rect x="164" y="305" width="443" height="2" fill="url(#g100)"/>
<rect x="164" y="307" width="446" height="2" fill="url(#g101)"/>
<rect x="164" y="309" width="449" height="2" fill="url(#g102)"/>
<rect x="165" y="311" width="450" height="2" fill="url(#g103)"/>
<rect x="165" y="313" width="453" height="2" fill="url(#g104)"/>
<rect x="165" y="315" width="456" height="2" fill="url(#g105)"/>
<rect x="165" y="317" width="459" height="2" fill="url(#g106)"/>
<rect x="165" y="319" width="462" height="2" fill="url(#g107)"/>
<rect x="166" y="321" width="463" height="2" fill="url(#g108)"/>
<rect x="166" y="323" width="466" height="2" fill="url(#g109)"/>
<rect x="166" y="325" width="469" height="2" fill="url(#g110)"/>
<rect x="166" y="327" width="472" height="2" fill="url(#g111)"/>
<rect x="167" y="329" width="473" height="2" fill="url(#g112)"/>
<rect x="167" y="331" width="476" height="2" fill="url(#g113)"/>
<rect x="167" y="333" width="479" height="2" fill="url(#g114)"/>
<rect x="167" y="335" width="482" height="2" fill="url(#g115)"/>
<rect x="168" y="337" width="484" height="2" fill="url(#g116)"/>
<rect x="168" y="339" width="486" height="2" fill="url(#g117)"/>
<rect x="168" y="341" width="489" height="2" fill="url(#g118)"/>
<rect x="168" y="343" width="492" height="2" fill="url(#g119)"/>
<rect x="169" y="345" width="494" height="2" fill="url(#g120)"/>
<rect x="169" y="347" width="496" height="2" fill="url(#g121)"/>
<rect x="169" y="349" width="499" height="2" fill="url(#g122)"/>
<rect x="170" y="351" width="501" height="2" fill="url(#g123)"/>
<rect x="170" y="353" width="504" height="2" fill="url(#g124)"/>
<rect x="170" y="355" width="506" height="2" fill="url(#g125)"/>
<rect x="170" y="357" width="509" height="2" fill="url(#g126)"/>
<rect x="171" y="359" width="511" height="2" fill="url(#g127)"/>
<rect x="171" y="361" width="514" height="2" fill="url(#g128)"/>
<rect x="171" y="363" width="517" height="2" fill="url(#g129)"/>
<rect x="172" y="365" width="518" height="2" fill="url(#g130)"/>
<rect x="172" y="367" width="521" height="2" fill="url(#g131)"/>
<rect x="172" y="369" width="524" height="2" fill="url(#g132)"/>
<rect x="173" y="371" width="526" height="2" fill="url(#g133)"/>
<rect x="173" y="373" width="528" height="2" fill="url(#g134)"/>
<rect x="173" y="375" width="531" height="2" fill="url(#g135)"/>
<rect x="174" y="377" width="533" height="2" fill="url(#g136)"/>
<rect x="174" y="379" width="536" height="2" fill="url(#g137)"/>
<rect x="175" y="381" width="538" height="2" fill="url(#g138)"/>
<rect x="175" y="383" width="540" height="2" fill="url(#g139)"/>
<rect x="175" y="385" width="543" height="2" fill="url(#g140)"/>
<rect x="176" y="387" width="545" height="2" fill="url(#g141)"/>
<rect x="176" y="389" width="548" height="2" fill="url(#g142)"/>
<rect x="176" y="391" width="550" height="2" fill="url(#g143)"/>
<rect x="177" y="393" width="552" height="2" fill="url(#g144)"/>
<rect x="177" y="395" width="555" height="2" fill="url(#g145)"/>
<rect x="178" y="397" width="557" height="2" fill="url(#g146)"/>
<rect x="178" y="399" width="560" height="2" fill="url(#g147)"/>
<rect x="178" y="401" width="562" height="2" fill="url(#g148)"/>
<rect x="179" y="403" width="564" height="2" fill="url(#g149)"/>
<rect x="179" y="405" width="567" height="2" fill="url(#g150)"/>
<rect x="180" y="407" width="569" height="2" fill="url(#g151)"/>
<rect x="180" y="409" width="571" height="2" fill="url(#g152)"/>
<rect x="180" y="411" width="574" height="2" fill="url(#g153)"/>
<rect x="181" y="413" width="576" height="2" fill="url(#g154)"/>
<rect x="181" y="415" width="579" height="2" fill="url(#g155)"/>
<rect x="182" y="417" width="581" height="2" fill="url(#g156)"/>
<rect x="182" y="419" width="583" height="2" fill="url(#g157)"/>
<rect x="183" y="421" width="585" height="2" fill="url(#g158)"/>
<rect x="183" y="423" width="588" height="2" fill="url(#g159)"/>
<rect x="184" y="425" width="590" height="2" fill="url(#g160)"/>
<rect x="184" y="427" width="592" height="2" fill="url(#g161)"/>
<rect x="184" y="429" width="595" height="2" fill="url(#g162)"/>
<rect x="185" y="431" width="597" height="2" fill="url(#g163)"/>
<rect x="185" y="433" width="600" height="2" fill="url(#g164)"/>
<rect x="186" y="435" width="601" height="2" fill="url(#g165)"/>
<rect x="186" y="437" width="604" height="2" fill="url(#g166)"/>
<rect x="187" y="439" width="606" height="2" fill="url(#g167)"/>
<rect x="187" y="441" width="609" height="2" fill="url(#g168)"/>
<rect x="188" y="443" width="611" height="2" fill="url(#g169)"/>
<rect x="188" y="445" width="613" height="2" fill="url(#g170)"/>
<rect x="189" y="447" width="615" height="2" fill="url(#g171)"/>
<rect x="189" y="449" width="618" height="2" fill="url(#g172)"/>
<rect x="190" y="451" width="620" height="2" fill="url(#g173)"/>
<rect x="190" y="453" width="622" height="2" fill="url(#g174)"/>
<rect x="191" y="455" width="624" height="2" fill="url(#g175)"/>
<rect x="191" y="457" width="627" height="2" fill="url(#g176)"/>
<rect x="192" y="459" width="629" height="2" fill="url(#g177)"/>
<rect x="192" y="461" width="632" height="2" fill="url(#g178)"/>
<rect x="193" y="463" width="633" height="2" fill="url(#g179)"/>
<rect x="193" y="465" width="636" height="2" fill="url(#g180)"/>
<rect x="194" y="467" width="638" height="2" fill="url(#g181)"/>
<rect x="194" y="469" width="641" height="2" fill="url(#g182)"/>
<rect x="195" y="471" width="643" height="2" fill="url(#g183)"/>
<rect x="195" y="473" width="645" height="2" fill="url(#g184)"/>
<rect x="196" y="475" width="647" height="2" fill="url(#g185)"/>
<rect x="197" y="477" width="649" height="2" fill="url(#g186)"/>
<rect x="197" y="479" width="652" height="2" fill="url(#g187)"/>
<rect x="198" y="481" width="653" height="2" fill="url(#g188)"/>
<rect x="198" y="483" width="656" height="2" fill="url(#g189)"/>
<rect x="199" y="485" width="658" height="2" fill="url(#g190)"/>
<rect x="199" y="487" width="661" height="2" fill="url(#g191)"/>
<rect x="200" y="489" width="662" height="2" fill="url(#g192)"/>
<rect x="201" y="491" width="664" height="2" fill="url(#g193)"/>
<rect x="201" y="493" width="667" height="2" fill="url(#g194)"/>
<rect x="202" y="495" width="669" height="2" fill="url(#g195)"/>
<rect x="202" y="497" width="672" height="2" fill="url(#g196)"/>
<rect x="203" y="499" width="673" height="2" fill="url(#g197)"/>
<rect x="203" y="501" width="676" height="2" fill="url(#g198)"/>
<rect x="204" y="503" width="678" height="2" fill="url(#g199)"/>
<rect x="205" y="505" width="680" height="2" fill="url(#g200)"/>
<rect x="205" y="507" width="682" height="2" fill="url(#g201)"/>
<rect x="206" y="509" width="684" height="2" fill="url(#g202)"/>
<rect x="206" y="511" width="687" height="2" fill="url(#g203)"/>
<rect x="207" y="513" width="689" height="2" fill="url(#g204)"/>
<rect x="208" y="515" width="691" height="2" fill="url(#g205)"/>
<rect x="208" y="517" width="693" height="2" fill="url(#g206)"/>
<rect x="209" y="519" width="695" height="2" fill="url(#g207)"/>
<rect x="210" y="521" width="694" height="2" fill="url(#g208)"/>
<rect x="210" y="523" width="693" height="2" fill="url(#g209)"/>
<rect x="211" y="525" width="686" height="2" fill="url(#g210)"/>
<rect x="212" y="527" width="679" height="2" fill="url(#g211)"/>
<rect x="212" y="529" width="673" height="2" fill="url(#g212)"/>
<rect x="213" y="531" width="666" height="2" fill="url(#g213)"/>
<rect x="214" y="533" width="659" height="2" fill="url(#g214)"/>
<rect x="214" y="535" width="653" height="2" fill="url(#g215)"/>
<rect x="215" y="537" width="646" height="2" fill="url(#g216)"/>
<rect x="216" y="539" width="639" height="2" fill="url(#g217)"/>
<rect x="216" y="541" width="633" height="2" fill="url(#g218)"/>
<rect x="217" y="543" width="626" height="2" fill="url(#g219)"/>
<rect x="218" y="545" width="619" height="2" fill="url(#g220)"/>
<rect x="218" y="547" width="613" height="2" fill="url(#g221)"/>
<rect x="219" y="549" width="606" height="2" fill="url(#g222)"/>
<rect x="220" y="551" width="599" height="2" fill="url(#g223)"/>
<rect x="221" y="553" width="593" height="2" fill="url(#g224)"/>
<rect x="221" y="555" width="587" height="2" fill="url(#g225)"/>
<rect x="222" y="557" width="580" height="2" fill="url(#g226)"/>
<rect x="223" y="559" width="573" height="2" fill="url(#g227)"/>
<rect x="224" y="561" width="566" height="2" fill="url(#g228)"/>
<rect x="224" y="563" width="560" height="2" fill="url(#g229)"/>
<rect x="225" y="565" width="553" height="2" fill="url(#g230)"/>
<rect x="226" y="567" width="546" height="2" fill="url(#g231)"/>
<rect x="227" y="569" width="539" height="2" fill="url(#g232)"/>
<rect x="227" y="571" width="533" height="2" fill="url(#g233)"/>
<rect x="228" y="573" width="526" height="2" fill="url(#g234)"/>
<rect x="229" y="575" width="519" height="2" fill="url(#g235)"/>
<rect x="230" y="577" width="512" height="2" fill="url(#g236)"/>
<rect x="231" y="579" width="505" height="2" fill="url(#g237)"/>
<rect x="232" y="581" width="498" height="2" fill="url(#g238)"/>
<rect x="233" y="583" width="491" height="2" fill="url(#g239)"/>
<rect x="233" y="585" width="485" height="2" fill="url(#g240)"/>
<rect x="234" y="587" width="478" height="2" fill="url(#g241)"/>
<rect x="235" y="589" width="471" height="2" fill="url(#g242)"/>
<rect x="236" y="591" width="464" height="2" fill="url(#g243)"/>
<rect x="237" y="593" width="457" height="2" fill="url(#g244)"/>
<rect x="238" y="595" width="451" height="2" fill="url(#g245)"/>
<rect x="239" y="597" width="444" height="2" fill="url(#g246)"/>
<rect x="240" y="599" width="437" height="2" fill="url(#g247)"/>
<rect x="241" y="601" width="430" height="2" fill="url(#g248)"/>
<rect x="242" y="603" width="423" height="2" fill="url(#g249)"/>
<rect x="243" y="605" width="416" height="2" fill="url(#g250)"/>
<rect x="244" y="607" width="409" height="2" fill="url(#g251)"/>
<rect x="245" y="609" width="402" height="2" fill="url(#g252)"/>
<rect x="246" y="611" width="395" height="2" fill="url(#g253)"/>
<rect x="247" y="613" width="388" height="2" fill="url(#g254)"/>
<rect x="248" y="615" width="381" height="2" fill="url(#g255)"/>
<rect x="249" y="617" width="374" height="2" fill="url(#g256)"/>
<rect x="250" y="619" width="367" height="2" fill="url(#g257)"/>
<rect x="251" y="621" width="360" height="2" fill="url(#g258)"/>
<rect x="252" y="623" width="353" height="2" fill="url(#g259)"/>
<rect x="253" y="625" width="346" height="2" fill="url(#g260)"/>
<rect x="254" y="627" width="339" height="2" fill="url(#g261)"/>
<rect x="255" y="629" width="332" height="2" fill="url(#g262)"/>
<rect x="256" y="631" width="325" height="2" fill="url(#g263)"/>
<rect x="257" y="633" width="318" height="2" fill="url(#g264)"/>
<rect x="258" y="635" width="312" height="2" fill="url(#g265)"/>
<rect x="259" y="637" width="305" height="2" fill="url(#g266)"/>
<rect x="260" y="639" width="298" height="2" fill="url(#g267)"/>
<rect x="261" y="641" width="291" height="2" fill="url(#g268)"/>
<rect x="262" y="643" width="284" height="2" fill="url(#g269)"/>
<rect x="264" y="645" width="276" height="2" fill="url(#g270)"/>
<rect x="265" y="647" width="269" height="2" fill="url(#g271)"/>
<rect x="266" y="649" width="262" height="2" fill="url(#g272)"/>
<rect x="267" y="651" width="255" height="2" fill="url(#g273)"/>
<rect x="268" y="653" width="248" height="2" fill="url(#g274)"/>
<rect x="270" y="655" width="240" height="2" fill="url(#g275)"/>
<rect x="271" y="657" width="233" height="2" fill="url(#g276)"/>
<rect x="272" y="659" width="226" height="2" fill="url(#g277)"/>
<rect x="273" y="661" width="219" height="2" fill="url(#g278)"/>
<rect x="275" y="663" width="211" height="2" fill="url(#g279)"/>
<rect x="276" y="665" width="204" height="2" fill="url(#g280)"/>
<rect x="278" y="667" width="196" height="2" fill="url(#g281)"/>
<rect x="279" y="669" width="189" height="2" fill="url(#g282)"/>
<rect x="281" y="671" width="181" height="2" fill="url(#g283)"/>
<rect x="282" y="673" width="174" height="2" fill="url(#g284)"/>
<rect x="284" y="675" width="166" height="2" fill="url(#g285)"/>
<rect x="285" y="677" width="160" height="2" fill="url(#g286)"/>
<rect x="287" y="679" width="152" height="2" fill="url(#g287)"/>
<rect x="289" y="681" width="144" height="2" fill="url(#g288)"/>
<rect x="290" y="683" width="137" height="2" fill="url(#g289)"/>
<rect x="292" y="685" width="129" height="2" fill="url(#g290)"/>
<rect x="294" y="687" width="121" height="2" fill="url(#g291)"/>
<rect x="296" y="689" width="113" height="2" fill="url(#g292)"/>
<rect x="299" y="691" width="104" height="2" fill="url(#g293)"/>
<rect x="301" y="693" width="96" height="2" fill="url(#g294)"/>
<rect x="303" y="695" width="88" height="2" fill="url(#g295)"/>
<rect x="306" y="697" width="79" height="2" fill="url(#g296)"/>
<rect x="309" y="699" width="70" height="2" fill="url(#g297)"/>
<rect x="312" y="701" width="61" height="2" fill="url(#g298)"/>
<rect x="315" y="703" width="52" height="2" fill="url(#g299)"/>
<rect x="318" y="705" width="43" height="2" fill="url(#g300)"/>
<rect x="321" y="707" width="34" height="2" fill="url(#g301)"/>
<rect x="325" y="709" width="24" height="2" fill="url(#g302)"/>
<rect x="328" y="711" width="15" height="2" fill="url(#g303)"/>
</g>

<path d="M335.9 712.2 L334.6 712.3 L333.3 712.1 L332.0 711.6 L330.9 710.9 L329.8 710.3 L328.6 709.5 L327.2 708.6 L326.1 707.9 L324.9 707.1 L323.5 706.2 L321.9 705.2 L320.2 704.1 L318.2 702.9 L317.2 702.2 L316.1 701.5 L314.9 700.8 L313.8 700.0 L312.5 699.2 L311.2 698.3 L309.8 697.3 L308.4 696.3 L306.9 695.2 L305.4 694.1 L303.8 692.9 L302.2 691.5 L300.5 690.1 L298.8 688.5 L296.9 686.7 L294.9 684.6 L292.7 682.3 L290.4 679.7 L287.9 676.8 L285.4 673.6 L282.7 670.1 L279.9 666.2 L277.0 662.0 L273.9 657.4 L270.7 652.3 L267.3 646.7 L263.8 640.6 L260.1 633.9 L256.3 626.7 L252.2 618.8 L248.0 610.3 L243.5 601.1 L238.9 591.2 L234.2 580.6 L229.4 569.1 L224.6 556.9 L219.9 543.9 L215.2 530.1 L210.5 515.5 L205.8 500.2 L201.2 484.1 L196.6 467.4 L192.1 450.0 L187.8 432.3 L183.7 414.2 L179.9 395.8 L176.4 377.4 L173.3 359.0 L170.6 340.6 L168.3 322.3 L166.3 304.3 L164.9 286.7 L164.0 269.6 L163.7 253.1 L163.9 237.2 L164.7 221.8 L166.1 207.0 L168.1 193.0 L170.7 179.7 L174.0 167.5 L177.9 156.2 L182.5 146.0 L187.5 136.9 L193.2 128.9 L199.2 122.3 L205.8 116.9 L212.7 112.7 L219.9 109.6 L227.4 107.5 L235.1 106.4 L242.9 106.2 L250.9 106.7 L258.9 108.0 L267.1 109.8 L275.3 111.9 L283.6 114.4 L291.9 117.2 L300.1 120.3 L308.3 123.5 L316.3 126.8 L324.2 130.2 L332.0 133.6 L339.6 137.2 L347.3 140.8 L354.8 144.5 L362.3 148.3 L369.8 152.2 L377.2 156.2 L384.6 160.3 L391.9 164.5 L399.3 168.7 L406.6 173.0 L413.9 177.4 L421.2 181.9 L428.5 186.4 L435.7 191.0 L443.0 195.6 L450.2 200.3 L457.4 205.0 L464.6 209.8 L471.9 214.6 L479.1 219.5 L486.3 224.4 L493.6 229.3 L500.8 234.2 L508.0 239.2 L515.2 244.2 L522.4 249.3 L529.7 254.3 L536.9 259.4 L544.1 264.5 L551.3 269.6 L558.5 274.6 L565.7 279.8 L572.9 284.9 L580.0 290.0 L587.2 295.1 L594.3 300.2 L601.5 305.3 L608.5 310.4 L615.6 315.4 L622.7 320.5 L629.7 325.6 L636.7 330.6 L643.6 335.6 L650.5 340.6 L657.4 345.5 L664.2 350.4 L671.0 355.3 L677.7 360.2 L684.3 364.9 L690.9 369.7 L697.4 374.4 L703.9 379.1 L710.3 383.7 L716.6 388.2 L722.8 392.7 L729.0 397.1 L735.0 401.4 L741.0 405.7 L746.8 410.0 L752.6 414.1 L758.2 418.2 L763.7 422.2 L769.0 426.0 L774.2 429.7 L779.2 433.3 L784.0 436.8 L788.7 440.2 L793.4 443.5 L797.9 446.8 L802.3 450.0 L806.6 453.1 L810.8 456.1 L814.8 459.0 L818.6 461.7 L822.3 464.4 L825.8 466.9 L829.2 469.3 L832.5 471.7 L835.6 473.9 L838.6 476.1 L841.5 478.2 L844.3 480.2 L846.9 482.1 L849.5 483.9 L851.9 485.7 L854.2 487.3 L856.4 488.9 L858.5 490.4 L860.5 491.9 L862.4 493.3 L864.2 494.6 L866.0 495.8 L867.7 497.0 L869.3 498.2 L870.8 499.3 L872.3 500.4 L873.7 501.4 L875.1 502.4 L876.4 503.3 L877.7 504.2 L878.9 505.1 L880.1 506.0 L881.2 506.8 L882.3 507.6 L883.4 508.4 L884.4 509.1 L886.3 510.5 L888.0 511.7 L889.6 512.9 L891.0 513.9 L892.2 514.7 L893.3 515.5 L894.3 516.2 L895.6 517.2 L896.7 518.0 L897.9 518.8 L898.9 519.5 L899.8 520.2 L900.8 521.0 L901.8 521.7 L902.1 521.9Z" fill="none" stroke="#0000ff" stroke-width="1.4" stroke-linejoin="round"/>

<g stroke="#333" stroke-width="0.9">
<line x1="231.0" y1="91.5" x2="235.1" y2="106.4"/>
<line x1="404.3" y1="153.2" x2="391.9" y2="164.5"/>
<line x1="550.9" y1="249.3" x2="536.9" y2="259.4"/>
<line x1="691.6" y1="350.5" x2="677.7" y2="360.2"/>
<line x1="806.8" y1="433.7" x2="793.4" y2="443.5"/>
<line x1="872.4" y1="480.7" x2="858.5" y2="490.4"/>
<line x1="151.9" y1="323.4" x2="168.3" y2="322.3"/>
<line x1="238.9" y1="622.1" x2="252.2" y2="618.8"/>
<line x1="289.6" y1="704.6" x2="305.4" y2="694.1"/>
</g>

<g stroke="#000" stroke-width="2.3" fill="none" stroke-linecap="butt">
<path d="M160.0 58.0 H968.1 V715.8 H160.0 Z"/>
<path d="M160.0 715.8 v12.3 M210.5 715.8 v6.6 M261.0 715.8 v12.3 M311.5 715.8 v6.6 M362.0 715.8 v12.3 M412.5 715.8 v6.6 M463.0 715.8 v12.3 M513.5 715.8 v6.6 M564.0 715.8 v12.3 M614.5 715.8 v6.6 M665.0 715.8 v12.3 M715.6 715.8 v6.6 M766.1 715.8 v12.3 M816.6 715.8 v6.6 M867.1 715.8 v12.3 M917.6 715.8 v6.6 M968.1 715.8 v12.3 M160.0 715.8 h-11.8 M160.0 642.7 h-6.2 M160.0 569.6 h-11.8 M160.0 496.5 h-6.2 M160.0 423.4 h-11.8 M160.0 350.3 h-6.2 M160.0 277.3 h-11.8 M160.0 204.2 h-6.2 M160.0 131.1 h-11.8"/>
</g>

<g font-size="37" fill="#000" stroke="#000">
<text transform="translate(159.4 766.5) scale(1 1.05)" text-anchor="middle">0.0</text>
<text transform="translate(260.4 766.5) scale(1 1.05)" text-anchor="middle">0.1</text>
<text transform="translate(361.4 766.5) scale(1 1.05)" text-anchor="middle">0.2</text>
<text transform="translate(462.4 766.5) scale(1 1.05)" text-anchor="middle">0.3</text>
<text transform="translate(563.4 766.5) scale(1 1.05)" text-anchor="middle">0.4</text>
<text transform="translate(664.4 766.5) scale(1 1.05)" text-anchor="middle">0.5</text>
<text transform="translate(765.5 766.5) scale(1 1.05)" text-anchor="middle">0.6</text>
<text transform="translate(866.5 766.5) scale(1 1.05)" text-anchor="middle">0.7</text>
<text transform="translate(967.5 766.5) scale(1 1.05)" text-anchor="middle">0.8</text>
<text transform="translate(138.1 727.1) scale(1 1.05)" text-anchor="end">0.0</text>
<text transform="translate(138.1 580.9) scale(1 1.05)" text-anchor="end">0.2</text>
<text transform="translate(138.1 434.7) scale(1 1.05)" text-anchor="end">0.4</text>
<text transform="translate(138.1 288.6) scale(1 1.05)" text-anchor="end">0.6</text>
<text transform="translate(138.1 142.4) scale(1 1.05)" text-anchor="end">0.8</text>
</g>

<text x="563.2" y="829.7" font-size="37.6" text-anchor="middle" stroke="#000">X coordinate</text>

<text transform="translate(72.2 386.5) rotate(-90)" font-size="38.9" text-anchor="middle" stroke="#000">Y coordinate</text>

<text transform="translate(0.5 24.7) scale(1 1.04)" font-size="32" font-style="italic" stroke="#000">CIE 1931</text>

<g font-size="37.3" fill="#0000ff" stroke="#0000ff" text-anchor="middle">
<text transform="translate(225.6 86.9) scale(1 1.03)">520</text>
<text transform="translate(420.4 151.4) scale(1 1.03)">540</text>
<text transform="translate(568.9 248.5) scale(1 1.03)">560</text>
<text transform="translate(710.1 349.9) scale(1 1.03)">580</text>
<text transform="translate(825.6 432.7) scale(1 1.03)">600</text>
<text transform="translate(891.1 480.1) scale(1 1.03)">620</text>
<text transform="translate(122.0 339.2) scale(1 1.03)">500</text>
<text transform="translate(208.2 644.3) scale(1 1.03)">480</text>
<text transform="translate(270.8 715.0) scale(1 1.03)">460</text>
</g>

<g font-size="26.1">
<text x="494.8" y="369.6" fill="#9400d3" stroke="#9400d3">BAM:2 Dy</text>
<text x="439.3" y="412.1" fill="#ff0000" stroke="#ff0000">BAM:1 Dy</text>
<text x="602.7" y="429.4" fill="#000" stroke="#000">BAM:0.5 Dy</text>
<text x="540" y="480.2" fill="#0000ff" stroke="#0000ff">BAM:1.5 Dy</text>
</g>

<polygon points="594.0,387.5 596.3,394.3 603.5,394.4 597.7,398.7 599.9,405.6 594.0,401.4 588.1,405.6 590.3,398.7 584.5,394.4 591.7,394.3" fill="#000"/>
<rect x="569.4" y="388.5" width="17.9" height="18" fill="#ff0000"/>
<polygon points="599.9,372.1 609.7,377.8 609.7,389.0 599.9,394.7 590.1,389.0 590.1,377.8" fill="#9400d3"/>
<circle cx="523.05" cy="472.65" r="10.5" fill="#0000ff"/>

</svg>
</body></html>
